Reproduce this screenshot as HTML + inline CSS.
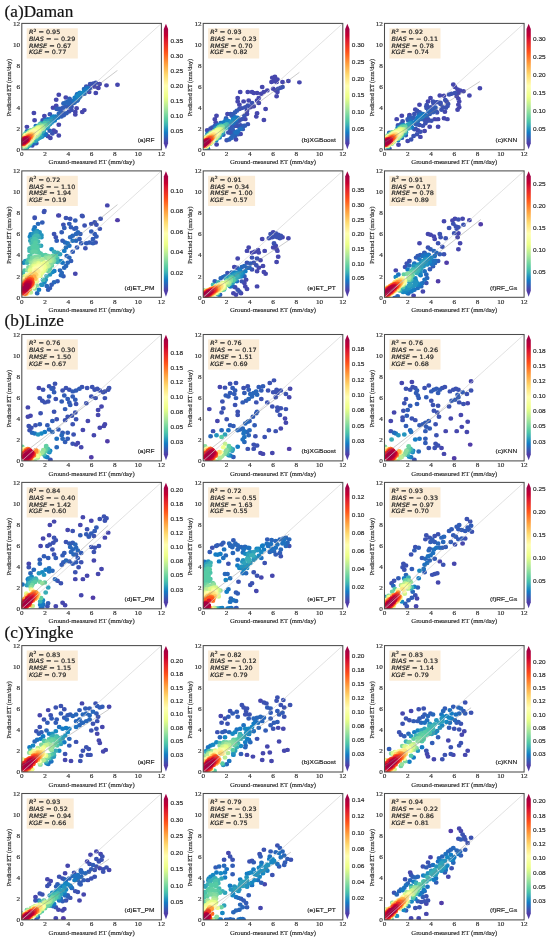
<!DOCTYPE html>
<html><head><meta charset="utf-8"><title>ET scatter comparison</title>
<style>html,body{margin:0;padding:0;background:#fff;}svg{display:block;}</style>
</head><body>
<svg width="550" height="938" viewBox="0 0 550 938"><style>
.ti{font:17.2px 'Liberation Serif',serif;fill:#111;stroke:#111;stroke-width:0.2}
.st{font:6.5px 'DejaVu Sans',sans-serif;fill:#262626;stroke:#262626;stroke-width:0.2}
.pl{font:6.6px 'Liberation Sans',sans-serif;fill:#262626;stroke:#262626;stroke-width:0.18}
.tk{font:7.2px 'Liberation Serif',serif;fill:#2e2e2e;stroke:#2e2e2e;stroke-width:0.18}
.al{font:6.7px 'Liberation Serif',serif;fill:#2e2e2e;stroke:#2e2e2e;stroke-width:0.18}
.cb{font:6.5px 'Liberation Sans',sans-serif;fill:#262626;stroke:#262626;stroke-width:0.18}
</style><defs><linearGradient id="cbg" x1="0" y1="0" x2="0" y2="1"><stop offset="0.0376" stop-color="#a40044"/><stop offset="0.0662" stop-color="#b4003c"/><stop offset="0.0948" stop-color="#c6002f"/><stop offset="0.1234" stop-color="#d8132f"/><stop offset="0.1520" stop-color="#e4252a"/><stop offset="0.1806" stop-color="#ef3523"/><stop offset="0.2092" stop-color="#f9461b"/><stop offset="0.2378" stop-color="#ff5b1d"/><stop offset="0.2665" stop-color="#ff7328"/><stop offset="0.2951" stop-color="#ff8b33"/><stop offset="0.3237" stop-color="#ffa240"/><stop offset="0.3523" stop-color="#ffb550"/><stop offset="0.3809" stop-color="#ffc860"/><stop offset="0.4095" stop-color="#ffdb71"/><stop offset="0.4381" stop-color="#ffe785"/><stop offset="0.4667" stop-color="#fff29a"/><stop offset="0.4953" stop-color="#fffeae"/><stop offset="0.5239" stop-color="#f9ffa3"/><stop offset="0.5525" stop-color="#f3ff96"/><stop offset="0.5811" stop-color="#edff89"/><stop offset="0.6097" stop-color="#dbf98b"/><stop offset="0.6383" stop-color="#c5f192"/><stop offset="0.6669" stop-color="#afe999"/><stop offset="0.6955" stop-color="#96e19d"/><stop offset="0.7241" stop-color="#7cd8a0"/><stop offset="0.7528" stop-color="#62cfa2"/><stop offset="0.7814" stop-color="#4cc3aa"/><stop offset="0.8100" stop-color="#3aaeb6"/><stop offset="0.8386" stop-color="#2394be"/><stop offset="0.8672" stop-color="#147cc3"/><stop offset="0.8958" stop-color="#2867ba"/><stop offset="0.9244" stop-color="#3c52b1"/><stop offset="0.9530" stop-color="#503da8"/></linearGradient></defs><text transform="translate(4.60,16.80) scale(1,0.91)" class="ti">(a)Daman</text>
<text transform="translate(4.60,326.40) scale(1,0.91)" class="ti">(b)Linze</text>
<text transform="translate(4.60,638.30) scale(1,0.91)" class="ti">(c)Yingke</text>
<clipPath id="cp00"><rect x="21.8" y="23.4" width="139.6" height="126.4"/></clipPath>
<g clip-path="url(#cp00)"><g transform="translate(0,23.4) scale(1,0.91)" stroke-linecap="round" stroke-width="4.9" fill="none"><path stroke="#4647ad" d="M117.5 67.5h0M106.5 68.1h0M99.6 66.7h0M94.5 69.5h0M98.4 70.9h0M95.8 76.5h0M58.8 78.4h0M56.2 83.9h0M65.8 81.4h0M56.2 90.4h0M33.9 98.4h0M34.6 106.5h0M26.9 113.7h0M76.6 93.2h0M75.3 97.3h0M75.3 100.1h0M82.3 97.3h0M84.3 95.3h0M58.8 111.4h0M53.7 117.6h0M55.5 119.0h0M58.8 123.2h0M50.4 125.9h0M48.0 123.9h0M44.4 101.8h0M89.2 75.5h0M53.0 92.6h0"/><path stroke="#3c52b1" d="M95.8 65.3h0M93.3 66.1h0M90.2 66.7h0M52.4 121.1h0M42.7 106.5h0M68.9 96.7h0M71.5 95.3h0M36.3 131.7h0M32.2 134.2h0M49.9 99.8h0M86.3 69.4h0M56.6 93.8h0M60.6 93.8h0M71.5 91.6h0"/><path stroke="#325cb6" d="M69.5 82.8h0M61.4 102.2h0M63.7 100.9h0M66.4 98.7h0M49.7 118.0h0M58.5 93.9h0M63.5 87.9h0M84.4 77.3h0M57.1 94.1h0M62.7 98.0h0M89.7 71.3h0M66.4 91.3h0M69.9 91.6h0M63.1 92.6h0M60.7 97.4h0"/><path stroke="#2867ba" d="M70.7 84.8h0M46.0 121.8h0M45.1 105.8h0M27.0 118.5h0M66.2 86.6h0M77.1 77.8h0M68.3 87.7h0M64.2 87.7h0M66.5 86.8h0M84.1 72.2h0M67.9 85.9h0M73.6 87.5h0M71.9 87.4h0M77.6 84.5h0M77.1 85.0h0M70.8 87.2h0M74.6 86.9h0M58.9 99.1h0"/><path stroke="#1e71bf" d="M35.9 112.6h0M20.2 123.9h0M44.7 122.6h0M34.2 131.3h0M57.4 103.6h0M56.5 103.2h0M58.1 103.5h0M78.3 77.3h0M87.2 71.1h0M78.9 82.2h0M80.1 80.2h0M79.4 81.1h0M73.8 84.9h0"/><path stroke="#147cc3" d="M26.7 136.6h0M44.0 120.7h0M17.9 126.1h0M47.3 114.8h0M53.6 102.3h0M47.9 105.2h0M52.1 103.5h0M54.7 106.7h0M52.0 103.6h0M55.4 102.4h0M55.2 104.6h0M84.2 74.7h0M85.1 73.8h0M83.3 76.4h0M78.5 77.7h0M75.4 82.9h0M74.8 81.8h0M76.3 82.7h0M76.5 79.9h0M86.0 73.2h0M80.0 76.3h0"/><path stroke="#1788c2" d="M29.7 133.9h0M41.5 124.9h0M41.9 124.7h0M42.1 124.2h0M52.3 108.1h0M51.8 108.9h0M53.4 103.4h0M52.6 106.3h0M82.4 76.5h0M79.9 77.6h0M77.6 79.7h0M81.8 76.7h0"/><path stroke="#2394be" d="M51.1 105.1h0M49.8 110.7h0M41.7 120.6h0M19.5 125.1h0M39.9 123.8h0M41.6 123.4h0M39.5 124.1h0M35.9 129.2h0M45.6 107.3h0M47.1 114.3h0M46.5 107.2h0M41.3 109.6h0"/><path stroke="#2ea1ba" d="M25.6 136.4h0M18.3 126.7h0M18.4 126.6h0M40.0 110.7h0M44.0 117.5h0M18.7 126.4h0M40.7 124.4h0M27.6 135.2h0M39.3 125.1h0M35.0 129.0h0M38.0 126.2h0M38.1 126.8h0M28.2 134.7h0M39.3 126.0h0M37.7 127.0h0M49.4 108.8h0M48.5 107.1h0M47.4 113.3h0M48.9 107.5h0M48.2 112.4h0M45.5 107.8h0M49.2 111.2h0M50.2 107.3h0"/><path stroke="#3aaeb6" d="M43.2 118.3h0M36.0 126.6h0M25.9 136.2h0M42.7 118.7h0M47.7 111.8h0"/><path stroke="#44b9b1" d="M25.6 121.1h0M18.9 126.6h0M26.1 135.6h0M29.6 118.2h0M48.0 109.1h0"/><path stroke="#4cc3aa" d="M19.1 126.6h0M39.6 121.7h0M30.7 117.7h0M37.0 124.4h0M40.5 111.1h0M30.3 131.8h0M44.6 109.4h0"/><path stroke="#55cba4" d="M38.7 112.5h0M19.1 126.8h0M40.3 111.4h0M25.7 135.4h0M29.6 132.2h0M29.9 131.9h0M24.8 136.0h0M45.9 111.5h0"/><path stroke="#62cfa2" d="M27.6 120.2h0M19.5 126.7h0M43.1 116.0h0M37.9 123.0h0M39.8 112.0h0M32.4 129.1h0M26.2 134.8h0"/><path stroke="#6fd4a1" d="M30.9 117.9h0M40.9 111.6h0M36.7 124.1h0M25.8 121.5h0M28.2 133.0h0M24.4 135.5h0M44.7 111.8h0"/><path stroke="#7cd8a0" d="M34.7 115.6h0M42.8 115.7h0M23.7 123.2h0M34.2 116.0h0M35.4 125.2h0M43.4 114.9h0M42.5 116.0h0M37.7 122.7h0M30.6 130.4h0M24.2 135.5h0M43.5 114.3h0"/><path stroke="#89dc9f" d="M39.8 119.5h0M38.3 121.5h0M39.8 119.4h0M25.1 134.8h0M26.1 134.1h0"/><path stroke="#96e19d" d="M37.6 122.1h0M25.0 134.6h0M36.9 114.5h0M43.0 114.3h0M39.0 120.1h0M21.6 125.2h0"/><path stroke="#a3e59c" d="M36.0 123.8h0M38.4 120.1h0M37.6 121.6h0M25.0 134.5h0M31.6 118.1h0M23.9 135.0h0M42.3 113.1h0"/><path stroke="#afe999" d="M41.9 114.6h0M38.2 119.8h0M25.7 133.9h0M37.9 120.3h0M41.2 116.3h0M39.0 118.8h0M19.4 127.6h0M42.0 113.9h0M41.8 114.7h0M31.8 128.3h0"/><path stroke="#baed95" d="M30.2 119.2h0M40.9 116.1h0M41.2 114.7h0M38.2 114.3h0M41.1 114.2h0M30.7 118.9h0M36.5 122.0h0M41.0 114.4h0M23.8 123.8h0M35.7 123.6h0M29.4 130.5h0M36.0 123.1h0M36.4 122.5h0M25.4 133.9h0M40.3 113.7h0"/><path stroke="#c5f192" d="M34.5 116.7h0M38.2 114.6h0M39.6 117.7h0M40.8 114.8h0M39.4 114.1h0M40.1 114.5h0M19.4 127.9h0M40.2 116.7h0M29.1 120.0h0M38.3 114.6h0"/><path stroke="#d0f58e" d="M39.6 114.9h0M29.9 129.7h0M37.4 115.3h0M33.8 117.3h0M29.2 130.5h0M28.7 130.9h0M30.4 129.2h0"/><path stroke="#dbf98b" d="M38.2 115.3h0M37.7 115.3h0M33.2 125.9h0M38.8 115.1h0M26.2 132.9h0M38.1 118.6h0M38.6 118.1h0"/><path stroke="#e6fd88" d="M31.5 127.7h0M32.6 118.3h0M22.3 125.4h0M38.2 115.6h0M19.7 128.1h0M31.2 119.2h0M38.3 115.9h0M38.5 117.6h0M33.3 125.3h0M38.2 115.4h0M32.4 118.6h0M37.9 118.6h0M35.2 116.9h0"/><path stroke="#edff89" d="M25.1 123.3h0M38.2 117.4h0M37.7 115.9h0M24.3 133.7h0"/><path stroke="#f0ff90" d="M36.3 120.1h0M25.8 122.9h0M19.7 128.3h0M19.7 128.3h0M26.1 132.5h0M37.3 116.7h0M19.7 128.3h0M34.4 117.7h0M37.6 116.8h0M19.7 128.3h0M24.3 133.6h0M23.4 134.1h0"/><path stroke="#f3ff96" d="M32.3 125.8h0M25.8 132.5h0M28.1 121.5h0M33.7 118.3h0M36.3 120.0h0M29.4 129.6h0M31.3 119.7h0M22.1 125.9h0M21.4 126.5h0M36.3 120.0h0M32.1 126.4h0M31.1 127.7h0"/><path stroke="#f6ff9d" d="M19.9 128.2h0M36.5 119.0h0M29.5 129.3h0M25.0 133.0h0M20.2 127.9h0"/><path stroke="#f9ffa3" d="M35.2 120.7h0M26.5 122.7h0M23.8 124.7h0M35.2 118.7h0M21.2 127.0h0M34.2 118.5h0"/><path stroke="#fcffaa" d="M20.1 128.4h0M32.2 119.7h0M26.9 131.2h0M26.2 123.1h0M27.8 122.1h0"/><path stroke="#fffeae" d="M31.3 120.4h0M26.8 122.8h0M30.1 127.9h0M32.3 120.0h0M33.9 119.7h0M33.5 122.9h0M20.0 128.5h0M33.0 119.7h0"/><path stroke="#fff8a4" d="M27.4 122.6h0M25.2 132.3h0M26.1 131.6h0M33.8 120.0h0M32.6 120.1h0M24.0 133.1h0M24.0 124.8h0M25.3 132.3h0"/><path stroke="#fff29a" d="M33.7 120.5h0M33.9 121.1h0M26.8 123.1h0M30.9 121.1h0M29.6 128.3h0M32.2 120.5h0M34.1 121.1h0M23.9 133.1h0M34.0 120.9h0M32.2 124.4h0"/><path stroke="#ffed90" d="M28.4 129.5h0M28.4 122.4h0M25.7 131.7h0M23.1 125.8h0M24.2 132.8h0"/><path stroke="#ffe785" d="M21.0 127.9h0M23.7 133.0h0M26.7 130.9h0M29.1 122.2h0M20.4 128.7h0"/><path stroke="#ffe17b" d="M21.9 127.1h0M32.9 121.7h0M32.6 122.9h0M27.3 123.2h0M28.8 122.5h0"/><path stroke="#ffdb71" d="M20.3 129.0h0M22.8 126.4h0M29.2 128.1h0M22.2 127.0h0M20.8 128.5h0M31.2 121.8h0M28.0 129.4h0"/><path stroke="#ffd269" d="M27.1 130.2h0M23.5 132.8h0M26.7 130.6h0M30.3 126.4h0M21.7 127.5h0"/><path stroke="#ffc860" d="M23.5 132.7h0M28.0 129.2h0M30.5 125.8h0"/><path stroke="#ffbf58" d="M29.7 122.8h0M29.9 126.6h0M24.6 125.3h0M31.7 123.2h0M29.8 122.7h0M31.5 122.8h0M20.5 129.2h0M23.9 132.4h0M28.0 129.1h0M31.8 122.6h0M31.0 122.7h0M20.7 129.0h0M31.6 123.7h0"/><path stroke="#ffb550" d="M30.6 125.2h0M20.5 129.3h0M25.0 131.6h0"/><path stroke="#ffab48" d="M20.6 129.3h0M31.0 124.0h0M27.6 129.2h0M31.2 123.2h0M27.6 123.8h0M22.7 127.0h0M23.0 126.8h0M28.5 123.4h0M21.4 128.4h0"/><path stroke="#ffa240" d="M30.8 124.5h0M22.1 127.8h0M27.4 129.3h0"/><path stroke="#ff9738" d="M23.0 127.0h0M30.4 124.8h0M30.5 123.9h0M30.7 124.1h0"/><path stroke="#ff8b33" d="M22.0 128.1h0M24.0 132.0h0M22.1 128.0h0M26.1 130.4h0"/><path stroke="#ff7f2e" d="M24.4 131.6h0M27.7 128.6h0M30.3 124.4h0M23.1 132.3h0M21.8 128.3h0M20.9 129.6h0M29.8 124.0h0"/><path stroke="#ff7328" d="M29.4 124.1h0M23.2 132.3h0M23.1 132.3h0M29.4 124.2h0M20.9 129.7h0M23.9 126.6h0"/><path stroke="#ff6723" d="M20.9 129.8h0M25.6 130.5h0M21.0 129.7h0M23.0 132.2h0M27.7 128.4h0M23.1 132.2h0M21.1 129.6h0M23.1 132.3h0M22.6 127.8h0"/><path stroke="#ff5b1d" d="M23.0 132.2h0M24.4 126.4h0M23.0 132.2h0M23.7 131.8h0M29.5 125.0h0"/><path stroke="#fe4e18" d="M26.1 129.9h0M21.2 129.7h0M23.0 132.0h0M21.1 129.8h0M23.0 132.1h0M21.3 129.5h0"/><path stroke="#f9461b" d="M21.8 129.0h0M28.3 127.2h0M21.1 130.0h0M23.3 131.8h0M21.8 129.0h0M22.9 132.0h0M22.9 132.0h0"/><path stroke="#f43e1f" d="M27.7 125.3h0M27.0 128.8h0M27.6 128.0h0M22.1 128.8h0"/><path stroke="#ef3523" d="M26.4 125.8h0M23.1 127.8h0M21.3 130.2h0M21.3 130.1h0M27.5 127.9h0M26.1 129.6h0M22.7 131.9h0M26.7 129.0h0M22.1 128.9h0M28.4 126.2h0M22.7 131.9h0M22.1 129.0h0M22.9 131.8h0"/><path stroke="#ea2d27" d="M23.3 131.5h0M27.9 127.2h0M22.6 131.8h0M25.5 126.3h0M21.4 130.2h0M24.7 130.6h0M22.3 128.9h0M27.9 125.7h0"/><path stroke="#e4252a" d="M28.1 126.3h0M21.7 129.9h0M21.5 130.4h0M24.0 127.4h0M23.6 131.2h0M25.9 126.2h0M23.1 128.1h0"/><path stroke="#df1c2e" d="M21.7 130.6h0M23.7 131.0h0M22.4 131.5h0M27.8 126.8h0M24.3 127.3h0M21.6 130.5h0M26.8 128.4h0M22.5 129.0h0M21.7 130.5h0M23.1 128.4h0M24.2 130.8h0M24.5 130.6h0M21.6 130.5h0M24.7 130.4h0M21.9 129.7h0M22.2 129.4h0M22.4 131.5h0M22.4 131.5h0"/><path stroke="#d8132f" d="M22.3 131.4h0M21.7 130.5h0M23.7 131.0h0M22.6 128.9h0M22.5 131.4h0M24.7 127.2h0M21.7 130.7h0M22.2 131.3h0M21.8 130.7h0M26.6 126.3h0"/><path stroke="#cf092f" d="M22.2 130.8h0M22.2 130.8h0M22.2 131.1h0M22.6 129.2h0M22.3 130.9h0M22.0 130.7h0M22.3 131.1h0M22.5 131.2h0M22.7 131.2h0M23.2 128.6h0M24.3 127.6h0M26.3 126.6h0M22.4 131.2h0M22.5 131.1h0M26.0 126.6h0M23.1 128.5h0"/><path stroke="#c6002f" d="M26.9 127.1h0M22.2 130.6h0M22.7 130.8h0M22.4 130.8h0M23.1 128.8h0M22.3 130.7h0M24.1 130.4h0"/><path stroke="#bd0036" d="M26.2 128.4h0M25.3 127.4h0M22.4 130.1h0M26.3 128.1h0M22.4 130.4h0M22.6 129.7h0M22.6 130.0h0M25.1 129.5h0M22.5 129.9h0M22.6 130.3h0M26.6 127.8h0"/><path stroke="#b4003c" d="M22.8 130.4h0M25.1 127.6h0M24.2 130.1h0M24.1 128.1h0M26.2 127.9h0M25.6 128.9h0M22.9 130.4h0M23.2 129.4h0M23.8 130.2h0M23.8 128.6h0"/><path stroke="#ab0041" d="M23.8 130.2h0M24.0 129.9h0M24.4 128.3h0M25.7 128.2h0"/><path stroke="#a40044" d="M23.9 129.5h0M24.0 129.4h0M25.4 128.2h0"/></g></g>
<line x1="21.80" y1="142.82" x2="117.45" y2="70.39" stroke="#808080" stroke-width="0.75" opacity="0.55"/>
<line x1="21.80" y1="149.80" x2="161.40" y2="23.40" stroke="#d4d4d4" stroke-width="0.9" opacity="0.75"/>
<rect x="21.8" y="23.4" width="139.6" height="126.4" fill="none" stroke="#4c4c4c" stroke-width="1.05"/>
<rect x="26.7" y="28.3" width="51.1" height="30.2" fill="#fbecd6"/>
<text transform="translate(28.90,34.30) scale(1,0.91)" class="st"><tspan font-style="italic">R</tspan><tspan font-size="4.6" dy="-2.7">2</tspan><tspan dy="2.7"> = 0.95</tspan></text>
<text transform="translate(28.90,41.00) scale(1,0.91)" class="st"><tspan font-style="italic">BIAS</tspan> = − 0.29</text>
<text transform="translate(28.90,47.70) scale(1,0.91)" class="st"><tspan font-style="italic">RMSE</tspan> = 0.67</text>
<text transform="translate(28.90,54.40) scale(1,0.91)" class="st"><tspan font-style="italic">KGE</tspan> = 0.77</text>
<text transform="translate(154.50,142.20) scale(1,0.91)" class="pl" text-anchor="end">(a)RF</text>
<text transform="translate(21.80,156.20) scale(1,0.91)" class="tk" text-anchor="middle">0</text>
<text transform="translate(20.20,152.10) scale(1,0.91)" class="tk" text-anchor="end">0</text>
<text transform="translate(45.07,156.20) scale(1,0.91)" class="tk" text-anchor="middle">2</text>
<text transform="translate(20.20,131.03) scale(1,0.91)" class="tk" text-anchor="end">2</text>
<text transform="translate(68.33,156.20) scale(1,0.91)" class="tk" text-anchor="middle">4</text>
<text transform="translate(20.20,109.97) scale(1,0.91)" class="tk" text-anchor="end">4</text>
<text transform="translate(91.60,156.20) scale(1,0.91)" class="tk" text-anchor="middle">6</text>
<text transform="translate(20.20,88.90) scale(1,0.91)" class="tk" text-anchor="end">6</text>
<text transform="translate(114.87,156.20) scale(1,0.91)" class="tk" text-anchor="middle">8</text>
<text transform="translate(20.20,67.83) scale(1,0.91)" class="tk" text-anchor="end">8</text>
<text transform="translate(138.13,156.20) scale(1,0.91)" class="tk" text-anchor="middle">10</text>
<text transform="translate(20.20,46.77) scale(1,0.91)" class="tk" text-anchor="end">10</text>
<text transform="translate(161.40,156.20) scale(1,0.91)" class="tk" text-anchor="middle">12</text>
<text transform="translate(20.20,25.70) scale(1,0.91)" class="tk" text-anchor="end">12</text>
<text transform="translate(91.60,164.40) scale(1,0.91)" class="al" text-anchor="middle">Ground-measured ET (mm/day)</text>
<text transform="translate(10.80,87.60) scale(1,0.91) rotate(-90)" class="al" text-anchor="middle">Predicted ET (mm/day)</text>
<path d="M165.95,23.70 L168.10,28.90 L168.10,143.30 L165.95,149.20 L163.80,143.30 L163.80,28.90 Z" fill="url(#cbg)"/>
<text transform="translate(170.40,42.80) scale(1,0.91)" class="cb">0.35</text>
<text transform="translate(170.40,57.87) scale(1,0.91)" class="cb">0.30</text>
<text transform="translate(170.40,72.93) scale(1,0.91)" class="cb">0.25</text>
<text transform="translate(170.40,88.00) scale(1,0.91)" class="cb">0.20</text>
<text transform="translate(170.40,103.07) scale(1,0.91)" class="cb">0.15</text>
<text transform="translate(170.40,118.13) scale(1,0.91)" class="cb">0.10</text>
<text transform="translate(170.40,133.20) scale(1,0.91)" class="cb">0.05</text>
<clipPath id="cp01"><rect x="203.2" y="23.4" width="139.6" height="126.4"/></clipPath>
<g clip-path="url(#cp01)"><g transform="translate(0,23.4) scale(1,0.91)" stroke-linecap="round" stroke-width="4.9" fill="none"><path stroke="#4647ad" d="M272.3 59.7h0M274.9 58.7h0M277.4 61.5h0M274.0 63.4h0M271.5 64.3h0M276.6 64.3h0M282.5 64.3h0M288.4 63.4h0M273.2 71.7h0M275.7 73.6h0M277.4 75.4h0M276.6 80.1h0M262.2 69.9h0M267.3 73.6h0M263.9 75.4h0M261.3 77.3h0M257.1 76.4h0M253.7 76.4h0M252.0 75.4h0M247.8 75.4h0M240.2 75.4h0M258.8 81.9h0M257.1 84.7h0M258.8 87.5h0M237.7 81.9h0M237.7 85.7h0M239.4 89.4h0M243.6 85.7h0M248.7 84.7h0M253.7 91.2h0M250.3 92.2h0M247.0 95.9h0M247.0 99.6h0M245.3 105.2h0M265.6 94.0h0M257.1 98.7h0M256.3 102.4h0M263.9 106.1h0M227.5 99.6h0M216.5 101.5h0M214.8 105.2h0M215.7 108.9h0M236.0 127.5h0M207.2 117.3h0M299.4 64.8h0M216.6 133.0h0M240.6 121.5h0"/><path stroke="#3c52b1" d="M278.2 71.7h0M280.8 70.8h0M282.5 69.9h0M252.0 87.5h0M247.8 90.3h0M245.3 92.2h0M241.9 93.1h0M239.4 94.0h0M244.4 101.5h0M241.9 105.2h0M239.4 107.0h0M247.8 110.7h0M234.3 112.6h0M236.8 112.6h0M239.4 112.6h0M212.3 114.5h0M210.6 115.4h0M233.4 119.1h0M238.5 121.9h0M226.7 128.4h0M230.1 118.2h0M228.4 120.0h0M208.0 138.1h0M230.6 99.6h0M230.5 115.9h0M240.4 111.9h0M231.4 121.1h0M238.9 113.5h0"/><path stroke="#325cb6" d="M236.8 95.9h0M235.1 97.7h0M233.4 99.6h0M231.7 101.5h0M236.8 108.9h0M214.8 112.6h0M232.6 116.3h0M235.1 123.8h0M229.2 127.5h0M208.1 120.0h0M223.3 122.4h0M231.5 112.1h0M226.1 104.2h0M233.3 103.1h0M242.7 116.2h0M244.8 112.5h0M244.0 112.5h0"/><path stroke="#2867ba" d="M225.8 106.1h0M233.4 109.8h0M217.4 111.7h0M231.7 125.6h0M207.3 137.2h0M220.7 109.5h0M234.8 120.2h0M232.7 123.6h0M231.2 125.9h0M236.9 121.0h0M241.4 115.4h0"/><path stroke="#1e71bf" d="M240.2 116.3h0M236.0 120.0h0M219.6 125.5h0M207.0 137.1h0M237.6 103.7h0M217.1 112.9h0M235.8 105.6h0M235.1 103.2h0M236.1 105.5h0M226.0 106.5h0M232.3 109.4h0M237.1 119.5h0M237.9 118.4h0M237.1 118.8h0"/><path stroke="#147cc3" d="M223.3 108.9h0M220.8 110.7h0M207.5 121.5h0M234.7 104.3h0M233.7 104.7h0M224.8 108.5h0M233.0 105.7h0M228.3 107.3h0M236.0 104.7h0"/><path stroke="#1788c2" d="M228.4 108.0h0M216.2 128.3h0M201.5 126.9h0M227.3 114.2h0M219.4 111.9h0M233.4 106.8h0M226.9 108.6h0M234.2 106.1h0M233.0 106.8h0"/><path stroke="#2394be" d="M230.9 108.9h0M215.5 115.5h0M221.1 122.4h0M199.4 129.1h0M231.2 108.6h0"/><path stroke="#2ea1ba" d="M223.1 119.4h0M222.4 120.2h0"/><path stroke="#3aaeb6" d="M200.9 128.0h0M206.5 136.5h0M227.1 110.9h0M226.7 110.8h0"/><path stroke="#44b9b1" d="M219.2 113.5h0M226.5 111.3h0M224.9 115.6h0M225.6 114.9h0"/><path stroke="#4cc3aa" d="M199.8 129.5h0M199.9 129.5h0M206.3 136.4h0M219.3 123.6h0M217.0 126.2h0M206.3 136.3h0M200.1 129.2h0M224.9 111.9h0M221.2 112.5h0"/><path stroke="#55cba4" d="M206.9 135.7h0M219.6 113.8h0M209.8 121.0h0M218.2 114.8h0"/><path stroke="#62cfa2" d="M200.4 129.4h0M210.9 120.4h0M217.8 124.9h0M219.5 114.1h0"/><path stroke="#6fd4a1" d="M218.0 115.2h0M216.7 126.0h0M222.3 118.1h0M219.0 114.7h0M222.4 113.2h0"/><path stroke="#7cd8a0" d="M220.1 114.2h0M208.1 123.0h0M200.6 129.5h0M215.5 127.0h0"/><path stroke="#89dc9f" d="M211.1 120.7h0M222.0 117.9h0M200.6 129.6h0M206.5 124.3h0M222.5 117.1h0M221.7 118.2h0M222.5 116.9h0M222.6 114.4h0"/><path stroke="#96e19d" d="M219.4 121.5h0M214.5 118.3h0M200.9 129.5h0M204.6 126.0h0M214.0 118.7h0M218.1 123.5h0M219.4 121.4h0M210.2 132.3h0"/><path stroke="#a3e59c" d="M217.4 124.1h0M222.1 116.6h0M210.0 132.3h0M218.6 122.1h0M207.3 134.7h0M212.3 130.1h0M218.5 115.9h0"/><path stroke="#afe999" d="M216.0 125.7h0M216.4 117.1h0M219.2 115.7h0"/><path stroke="#baed95" d="M221.1 116.9h0M217.4 123.6h0M210.6 131.5h0M220.5 118.5h0M221.2 116.2h0M221.0 117.0h0M211.8 120.8h0M202.8 128.0h0"/><path stroke="#c5f192" d="M218.1 122.2h0M210.4 121.9h0M217.7 116.9h0M215.7 125.6h0"/><path stroke="#d0f58e" d="M217.7 117.1h0M220.0 117.1h0M220.2 118.3h0M220.4 117.0h0M218.8 116.6h0M207.2 134.4h0M220.3 116.6h0M218.6 120.9h0M211.0 121.5h0M220.3 116.7h0M204.7 126.5h0M215.9 125.1h0M216.3 124.5h0M209.5 122.7h0M220.1 116.7h0"/><path stroke="#dbf98b" d="M214.3 119.3h0M219.0 119.9h0M217.9 121.9h0M217.6 122.4h0M200.8 130.4h0M219.4 116.9h0M216.4 124.0h0M205.6 135.5h0M219.6 118.9h0"/><path stroke="#e6fd88" d="M206.9 134.4h0M219.0 117.3h0M217.2 117.8h0M217.0 117.8h0M213.7 119.9h0M218.3 117.6h0"/><path stroke="#edff89" d="M217.7 117.7h0M212.0 129.6h0M217.7 118.1h0M213.5 127.8h0M200.9 130.6h0M217.7 117.9h0M206.2 134.9h0M218.2 120.3h0"/><path stroke="#f0ff90" d="M212.7 120.9h0M203.4 128.1h0M211.4 121.8h0M217.9 118.3h0M210.1 131.5h0M218.0 119.9h0M215.0 119.4h0M217.3 118.3h0M217.7 120.8h0"/><path stroke="#f3ff96" d="M205.9 126.0h0M217.8 119.7h0M213.6 127.3h0M212.4 121.2h0M217.6 120.8h0M210.2 131.2h0"/><path stroke="#f6ff9d" d="M206.6 125.6h0M201.1 130.7h0M216.9 119.2h0M214.3 120.2h0M217.2 119.2h0"/><path stroke="#f9ffa3" d="M208.6 124.1h0M213.7 120.8h0M208.0 133.2h0"/><path stroke="#fcffaa" d="M216.1 122.3h0M201.2 130.9h0M201.1 130.9h0M201.2 130.9h0M216.1 122.2h0M207.2 125.3h0M205.4 135.1h0M216.3 121.3h0M211.5 122.3h0M203.3 128.6h0M202.7 129.2h0M201.1 130.9h0M216.1 122.3h0M212.5 128.4h0"/><path stroke="#fffeae" d="M212.7 127.8h0M206.4 134.3h0M207.2 133.6h0M204.8 127.4h0M201.6 130.6h0M205.3 135.1h0M214.1 121.0h0"/><path stroke="#fff8a4" d="M207.5 125.4h0M212.3 122.3h0M201.4 130.9h0M206.9 125.7h0M208.4 124.7h0M215.1 121.1h0M202.5 129.7h0"/><path stroke="#fff29a" d="M215.1 122.9h0M205.0 135.0h0M206.9 133.7h0M205.5 134.8h0M213.1 122.1h0"/><path stroke="#ffed90" d="M201.5 131.0h0M208.0 125.2h0M211.5 122.9h0M210.8 129.9h0M212.5 122.5h0M213.9 122.1h0M205.0 127.5h0M201.4 131.2h0"/><path stroke="#ffe785" d="M213.8 122.3h0M207.7 132.9h0M212.8 122.5h0M207.5 125.7h0M209.2 131.5h0M210.3 130.3h0"/><path stroke="#ffe17b" d="M213.7 122.8h0M214.0 123.4h0M212.4 122.9h0M213.7 125.1h0M214.1 123.4h0M204.2 128.4h0M214.1 123.2h0"/><path stroke="#ffdb71" d="M204.8 134.9h0M211.2 123.6h0M208.9 124.9h0"/><path stroke="#ffd269" d="M203.1 129.7h0M202.4 130.5h0M207.7 132.6h0M209.6 124.7h0M208.9 131.5h0M204.8 134.8h0M201.8 131.2h0M212.6 126.6h0"/><path stroke="#ffc860" d="M208.1 132.2h0M204.0 129.0h0M213.1 124.0h0M203.4 129.6h0M205.2 134.5h0M207.9 125.8h0M209.3 125.0h0"/><path stroke="#ffbf58" d="M201.7 131.6h0M210.0 130.1h0M212.8 125.1h0M211.5 124.2h0M203.0 130.1h0"/><path stroke="#ffb550" d="M202.2 131.1h0M206.2 133.6h0"/><path stroke="#ffab48" d="M205.6 127.9h0M208.9 131.1h0M208.8 131.2h0"/><path stroke="#ffa240" d="M210.2 125.2h0M212.1 125.5h0M210.2 125.1h0M212.0 124.9h0M210.9 128.5h0"/><path stroke="#ff9738" d="M205.3 134.0h0M211.8 125.1h0M201.9 131.7h0M203.9 129.6h0M211.4 125.0h0M202.1 131.6h0M212.0 125.9h0"/><path stroke="#ff8b33" d="M210.5 128.7h0M205.7 133.7h0M202.0 131.8h0M208.5 131.3h0M211.6 125.5h0M204.5 134.4h0M208.3 126.3h0M204.2 129.3h0M202.0 131.8h0M209.1 125.9h0M202.7 130.9h0M208.3 131.4h0M211.0 127.9h0"/><path stroke="#ff7f2e" d="M203.3 130.3h0M211.4 126.2h0M204.5 134.4h0M204.4 134.4h0M211.1 127.4h0M204.2 129.5h0M207.2 132.4h0M204.4 134.4h0"/><path stroke="#ff7328" d="M211.2 126.7h0M204.4 134.3h0M203.3 130.5h0M204.5 134.3h0M211.0 126.2h0M211.1 126.4h0"/><path stroke="#ff6723" d="M203.2 130.6h0M204.3 134.3h0M204.3 134.3h0M205.0 133.9h0M203.1 130.8h0M210.9 127.0h0M204.4 134.2h0"/><path stroke="#ff5b1d" d="M208.6 130.7h0M206.7 132.6h0M210.8 126.7h0M204.3 134.2h0M202.3 132.1h0M210.3 126.3h0M205.0 129.1h0M204.2 134.2h0"/><path stroke="#fe4e18" d="M202.4 132.2h0M202.4 132.1h0M204.6 134.0h0M209.9 126.4h0M209.9 126.5h0M204.3 134.1h0M202.3 132.1h0M203.8 130.3h0"/><path stroke="#f9461b" d="M207.1 132.0h0M205.4 128.9h0M208.5 130.5h0M202.5 132.1h0M204.1 134.1h0M210.1 127.2h0M204.3 134.0h0"/><path stroke="#f43e1f" d="M202.6 132.2h0M204.1 134.0h0M202.5 132.3h0M202.7 131.9h0"/><path stroke="#ef3523" d="M204.6 133.7h0M203.1 131.5h0M202.5 132.4h0M204.0 134.0h0M203.1 131.5h0M205.9 132.8h0"/><path stroke="#ea2d27" d="M209.0 129.4h0M204.3 130.3h0M202.7 132.5h0M207.1 131.7h0M204.9 133.3h0M207.6 131.1h0M207.9 130.9h0M203.4 131.3h0"/><path stroke="#e4252a" d="M207.2 128.2h0M208.4 127.7h0M204.9 133.2h0M202.7 132.6h0M205.0 133.2h0M202.8 132.6h0M205.4 133.0h0M205.7 132.7h0M203.4 131.4h0M203.8 133.7h0M203.8 133.8h0M208.4 130.2h0M203.4 131.5h0"/><path stroke="#df1c2e" d="M203.7 133.7h0M208.7 129.4h0M203.0 132.3h0M203.8 133.7h0M203.9 133.6h0M206.4 128.8h0M208.3 130.1h0M202.9 132.7h0M205.1 129.9h0M205.9 132.5h0M204.3 130.6h0M203.6 131.4h0M209.1 128.5h0M208.6 128.0h0"/><path stroke="#d8132f" d="M208.8 128.6h0M203.1 133.0h0M203.1 132.8h0M205.4 129.7h0M203.0 132.9h0M203.8 131.4h0M203.6 133.4h0M203.1 132.9h0M204.3 130.8h0M203.1 133.0h0M203.7 133.4h0M203.6 133.5h0M203.9 133.5h0M204.1 133.4h0M203.0 132.8h0M206.8 128.6h0M203.3 132.1h0M203.8 133.4h0M203.5 131.8h0M203.8 133.4h0"/><path stroke="#cf092f" d="M203.6 133.1h0M203.5 133.1h0M208.6 129.1h0M207.7 130.5h0M203.9 131.3h0M203.6 133.2h0M203.4 133.0h0M203.2 133.0h0M205.3 132.6h0"/><path stroke="#c6002f" d="M203.6 132.9h0M204.0 133.0h0M203.7 133.1h0M204.3 131.2h0M203.9 131.6h0M205.7 129.7h0M207.5 128.6h0M204.4 131.0h0M205.4 130.0h0M207.2 128.9h0M203.6 133.0h0M206.9 129.0h0M204.4 130.9h0"/><path stroke="#bd0036" d="M203.8 132.4h0M204.2 132.7h0M207.8 129.3h0M205.4 132.3h0M203.7 132.7h0M203.9 132.0h0M204.2 132.7h0M203.9 132.3h0M206.2 131.7h0M203.8 132.2h0M203.9 132.6h0"/><path stroke="#b4003c" d="M207.2 130.6h0M206.3 129.7h0M205.0 132.4h0M206.1 129.9h0M205.2 130.5h0M207.3 130.4h0M205.2 132.1h0M206.6 131.1h0M207.5 130.0h0M205.0 132.4h0"/><path stroke="#ab0041" d="M207.1 130.2h0M204.5 131.7h0M205.5 130.6h0M204.9 130.9h0"/><path stroke="#a40044" d="M205.1 131.8h0M205.2 131.7h0M206.4 130.5h0M206.7 130.4h0"/></g></g>
<line x1="203.20" y1="143.78" x2="299.41" y2="72.31" stroke="#808080" stroke-width="0.75" opacity="0.55"/>
<line x1="203.20" y1="149.80" x2="342.80" y2="23.40" stroke="#d4d4d4" stroke-width="0.9" opacity="0.75"/>
<rect x="203.2" y="23.4" width="139.6" height="126.4" fill="none" stroke="#4c4c4c" stroke-width="1.05"/>
<rect x="208.1" y="28.3" width="51.1" height="30.2" fill="#fbecd6"/>
<text transform="translate(210.30,34.30) scale(1,0.91)" class="st"><tspan font-style="italic">R</tspan><tspan font-size="4.6" dy="-2.7">2</tspan><tspan dy="2.7"> = 0.93</tspan></text>
<text transform="translate(210.30,41.00) scale(1,0.91)" class="st"><tspan font-style="italic">BIAS</tspan> = − 0.23</text>
<text transform="translate(210.30,47.70) scale(1,0.91)" class="st"><tspan font-style="italic">RMSE</tspan> = 0.70</text>
<text transform="translate(210.30,54.40) scale(1,0.91)" class="st"><tspan font-style="italic">KGE</tspan> = 0.82</text>
<text transform="translate(335.90,142.20) scale(1,0.91)" class="pl" text-anchor="end">(b)XGBoost</text>
<text transform="translate(203.20,156.20) scale(1,0.91)" class="tk" text-anchor="middle">0</text>
<text transform="translate(201.60,152.10) scale(1,0.91)" class="tk" text-anchor="end">0</text>
<text transform="translate(226.47,156.20) scale(1,0.91)" class="tk" text-anchor="middle">2</text>
<text transform="translate(201.60,131.03) scale(1,0.91)" class="tk" text-anchor="end">2</text>
<text transform="translate(249.73,156.20) scale(1,0.91)" class="tk" text-anchor="middle">4</text>
<text transform="translate(201.60,109.97) scale(1,0.91)" class="tk" text-anchor="end">4</text>
<text transform="translate(273.00,156.20) scale(1,0.91)" class="tk" text-anchor="middle">6</text>
<text transform="translate(201.60,88.90) scale(1,0.91)" class="tk" text-anchor="end">6</text>
<text transform="translate(296.27,156.20) scale(1,0.91)" class="tk" text-anchor="middle">8</text>
<text transform="translate(201.60,67.83) scale(1,0.91)" class="tk" text-anchor="end">8</text>
<text transform="translate(319.53,156.20) scale(1,0.91)" class="tk" text-anchor="middle">10</text>
<text transform="translate(201.60,46.77) scale(1,0.91)" class="tk" text-anchor="end">10</text>
<text transform="translate(342.80,156.20) scale(1,0.91)" class="tk" text-anchor="middle">12</text>
<text transform="translate(201.60,25.70) scale(1,0.91)" class="tk" text-anchor="end">12</text>
<text transform="translate(273.00,164.40) scale(1,0.91)" class="al" text-anchor="middle">Ground-measured ET (mm/day)</text>
<text transform="translate(192.20,87.60) scale(1,0.91) rotate(-90)" class="al" text-anchor="middle">Predicted ET (mm/day)</text>
<path d="M347.35,23.70 L349.50,28.90 L349.50,143.30 L347.35,149.20 L345.20,143.30 L345.20,28.90 Z" fill="url(#cbg)"/>
<text transform="translate(351.80,47.10) scale(1,0.91)" class="cb">0.30</text>
<text transform="translate(351.80,63.88) scale(1,0.91)" class="cb">0.25</text>
<text transform="translate(351.80,80.66) scale(1,0.91)" class="cb">0.20</text>
<text transform="translate(351.80,97.44) scale(1,0.91)" class="cb">0.15</text>
<text transform="translate(351.80,114.22) scale(1,0.91)" class="cb">0.10</text>
<text transform="translate(351.80,131.00) scale(1,0.91)" class="cb">0.05</text>
<clipPath id="cp02"><rect x="384.5" y="23.4" width="139.6" height="126.4"/></clipPath>
<g clip-path="url(#cp02)"><g transform="translate(0,23.4) scale(1,0.91)" stroke-linecap="round" stroke-width="4.9" fill="none"><path stroke="#4647ad" d="M453.3 67.1h0M455.0 69.9h0M457.6 72.7h0M460.1 73.6h0M463.5 74.5h0M458.4 76.4h0M469.4 79.2h0M456.7 80.1h0M458.4 82.9h0M459.2 85.7h0M458.4 89.4h0M459.2 92.2h0M457.6 95.0h0M439.8 79.2h0M444.0 79.5h0M430.5 81.9h0M428.0 85.7h0M446.6 85.7h0M419.5 89.4h0M434.7 105.2h0M438.1 105.2h0M444.0 104.2h0M447.4 105.2h0M401.8 101.5h0M396.7 105.2h0M429.7 113.5h0M438.1 113.5h0M417.8 117.3h0M424.6 118.2h0M407.7 129.3h0M420.4 124.7h0M479.9 71.2h0M389.4 137.7h0M398.5 133.4h0M415.3 94.5h0M409.5 100.5h0M444.9 97.2h0"/><path stroke="#3c52b1" d="M455.0 76.4h0M451.6 77.3h0M449.1 78.2h0M433.0 85.7h0M438.1 86.6h0M440.6 88.5h0M426.3 91.2h0M430.5 92.2h0M441.5 95.0h0M436.4 96.8h0M419.5 97.7h0M417.0 95.9h0M414.4 99.6h0M424.6 106.1h0M428.0 107.0h0M431.3 107.0h0M409.4 102.4h0M419.5 111.7h0M422.9 112.6h0M425.4 109.8h0M414.4 116.3h0M420.4 119.1h0M417.0 121.9h0M413.6 123.8h0M411.1 127.5h0M398.0 112.0h0M402.6 107.5h0M415.6 116.1h0M437.0 98.0h0M446.0 92.8h0M428.1 105.2h0M433.8 86.5h0M442.8 92.1h0M445.3 84.2h0M447.5 90.8h0M426.7 89.6h0M440.5 87.3h0M433.5 88.1h0M426.6 93.0h0M448.1 88.5h0M436.1 86.6h0"/><path stroke="#325cb6" d="M434.7 93.1h0M433.0 97.7h0M429.7 99.6h0M413.6 103.3h0M407.7 105.2h0M416.1 110.7h0M405.7 122.9h0M388.7 136.8h0M416.7 111.0h0M400.9 110.7h0M407.9 106.2h0M412.5 104.6h0M409.5 103.6h0M418.9 99.2h0M433.4 96.0h0M434.5 96.4h0M435.4 92.5h0M426.5 101.9h0M431.0 95.4h0"/><path stroke="#2867ba" d="M426.3 101.5h0M421.2 105.2h0M401.8 125.8h0M389.3 120.2h0M388.3 136.6h0M421.3 99.3h0M410.6 106.4h0M417.8 107.6h0M428.2 96.5h0"/><path stroke="#1e71bf" d="M422.9 99.6h0M411.9 114.5h0M424.6 100.1h0M420.8 100.8h0M419.5 101.3h0M422.7 102.5h0"/><path stroke="#147cc3" d="M417.8 103.3h0M412.7 108.9h0M397.7 114.7h0M398.1 128.4h0M382.8 125.2h0M411.3 113.8h0M422.3 102.5h0M416.4 106.5h0M418.5 102.7h0M419.1 104.1h0M420.1 103.2h0M422.4 101.4h0M418.7 104.1h0"/><path stroke="#1788c2" d="M380.6 127.3h0M411.0 109.4h0M410.4 109.3h0M403.3 111.5h0"/><path stroke="#2394be" d="M406.0 120.0h0M387.8 135.9h0M410.2 109.9h0"/><path stroke="#2ea1ba" d="M403.4 122.7h0M401.5 113.0h0M405.6 119.7h0M382.2 126.3h0M408.2 110.7h0M399.4 114.5h0M409.1 114.7h0"/><path stroke="#3aaeb6" d="M387.7 135.7h0M404.8 120.5h0M387.7 135.6h0M408.3 115.6h0"/><path stroke="#44b9b1" d="M381.1 127.8h0M381.1 127.8h0M388.3 135.1h0M402.1 113.4h0M391.7 120.0h0M381.4 127.5h0"/><path stroke="#4cc3aa" d="M401.5 123.7h0M399.0 126.2h0M401.9 113.7h0M405.0 112.4h0"/><path stroke="#55cba4" d="M381.6 127.7h0M400.3 114.7h0M392.8 119.5h0"/><path stroke="#62cfa2" d="M402.5 113.9h0M399.9 124.9h0M401.4 114.3h0"/><path stroke="#6fd4a1" d="M389.8 121.8h0M381.8 127.8h0M398.7 125.9h0M404.7 118.3h0M388.1 123.0h0M405.2 114.1h0"/><path stroke="#7cd8a0" d="M393.0 119.7h0M381.8 128.0h0M397.5 126.9h0M404.9 117.2h0M388.8 134.1h0M391.9 131.9h0M405.1 117.3h0"/><path stroke="#89dc9f" d="M396.6 117.6h0M404.4 118.0h0M382.1 127.9h0M386.1 124.6h0M404.2 118.3h0"/><path stroke="#96e19d" d="M401.6 121.6h0M404.6 116.7h0M396.1 117.9h0M400.2 123.5h0M391.6 131.9h0M401.6 121.5h0M394.1 129.8h0M399.8 115.9h0"/><path stroke="#a3e59c" d="M399.5 124.1h0M398.6 116.6h0M400.8 122.1h0"/><path stroke="#afe999" d="M398.0 125.6h0M403.5 116.9h0M399.5 123.5h0M392.3 131.1h0M403.6 116.2h0M403.4 117.0h0M384.2 126.5h0M400.8 115.8h0"/><path stroke="#baed95" d="M400.3 122.1h0M388.7 133.8h0M402.7 116.5h0M402.8 118.5h0M387.0 134.7h0M393.7 119.9h0"/><path stroke="#c5f192" d="M392.3 121.0h0M402.4 117.0h0M402.6 118.3h0M402.8 117.0h0M401.1 116.3h0M399.9 116.5h0M392.8 120.6h0M402.6 116.6h0M386.2 125.2h0"/><path stroke="#d0f58e" d="M388.4 133.7h0M400.0 116.7h0M400.1 121.8h0M399.8 122.3h0M400.8 120.9h0M382.1 128.8h0M401.7 116.7h0M397.7 125.4h0M402.0 118.8h0M398.0 124.9h0M398.4 124.4h0M391.3 121.7h0M401.9 117.0h0"/><path stroke="#dbf98b" d="M396.4 118.6h0M401.3 117.1h0M401.3 119.8h0M399.4 117.3h0M399.2 117.4h0M398.4 123.9h0M387.6 134.2h0"/><path stroke="#e6fd88" d="M399.9 117.4h0M393.8 129.3h0M395.7 119.2h0M399.9 117.5h0M400.5 117.2h0"/><path stroke="#edff89" d="M384.8 126.7h0M400.0 117.7h0M400.1 118.0h0M387.5 124.7h0M391.8 131.0h0M395.4 127.6h0M382.2 129.1h0M399.5 118.0h0M400.4 120.1h0"/><path stroke="#f0ff90" d="M394.6 120.2h0M393.3 121.0h0M400.2 119.7h0M397.1 118.8h0M391.9 130.8h0M399.9 120.6h0"/><path stroke="#f3ff96" d="M388.2 124.4h0M382.4 129.2h0M399.1 118.8h0M399.4 118.9h0M389.5 132.6h0M400.0 119.5h0M395.4 127.0h0M394.4 120.4h0M399.7 120.6h0"/><path stroke="#f6ff9d" d="M390.4 123.1h0M396.4 119.6h0M386.7 134.3h0M384.7 127.2h0"/><path stroke="#f9ffa3" d="M382.4 129.4h0M387.8 133.5h0M388.7 132.9h0M382.4 129.4h0M395.7 120.1h0M382.4 129.4h0M388.9 124.2h0M393.4 121.5h0M384.0 127.8h0M382.4 129.4h0M386.6 134.2h0"/><path stroke="#fcffaa" d="M398.2 122.0h0M398.2 121.9h0M386.3 126.1h0M398.4 120.9h0M383.8 128.2h0M398.2 122.0h0M394.3 128.0h0M382.9 129.1h0M396.2 120.4h0"/><path stroke="#fffeae" d="M386.4 134.2h0M382.7 129.4h0M388.6 124.6h0M390.1 123.7h0M397.1 120.6h0M386.8 134.0h0"/><path stroke="#fff8a4" d="M394.5 127.5h0M389.1 124.3h0M394.2 121.5h0M388.3 133.0h0M386.4 126.2h0"/><path stroke="#fff29a" d="M382.8 129.6h0M389.7 124.1h0M393.4 122.2h0M397.2 122.5h0M392.5 129.5h0M394.4 121.8h0M395.9 121.6h0M382.7 129.7h0M395.0 121.5h0"/><path stroke="#ffed90" d="M395.8 121.8h0M389.2 132.2h0M394.7 121.9h0M389.1 124.6h0M390.8 130.9h0"/><path stroke="#ffe785" d="M395.7 122.3h0M392.0 129.8h0M394.3 122.2h0M385.6 127.1h0"/><path stroke="#ffe17b" d="M395.9 122.9h0M386.2 134.0h0M393.1 122.8h0M390.7 124.0h0M395.6 124.7h0M396.1 122.9h0M396.1 122.7h0"/><path stroke="#ffdb71" d="M384.5 128.3h0M383.7 129.1h0M389.2 131.9h0M391.3 123.8h0M386.2 133.9h0M389.6 124.8h0M383.1 129.8h0"/><path stroke="#ffd269" d="M389.6 131.5h0M385.4 127.7h0M384.8 128.2h0M386.5 133.6h0M390.5 130.9h0M391.0 124.1h0M394.4 126.1h0"/><path stroke="#ffc860" d="M383.0 130.1h0M395.0 123.4h0M383.4 129.7h0M393.4 123.5h0M384.3 128.7h0"/><path stroke="#ffbf58" d="M391.6 129.6h0M394.7 124.6h0M387.6 132.8h0"/><path stroke="#ffb550" d="M387.1 126.7h0M390.4 130.6h0"/><path stroke="#ffab48" d="M392.0 124.4h0M392.0 124.3h0M390.4 130.5h0"/><path stroke="#ffa240" d="M386.6 133.2h0M393.9 124.9h0M383.2 130.4h0M390.0 125.3h0M393.9 124.3h0M385.3 128.3h0M385.6 128.1h0M392.6 127.9h0M393.2 124.3h0M383.4 130.2h0"/><path stroke="#ff9738" d="M387.1 132.8h0M383.3 130.5h0M384.7 129.0h0M393.6 124.5h0M385.8 133.5h0M383.3 130.4h0M390.8 125.0h0M384.0 129.6h0M393.8 125.3h0"/><path stroke="#ff8b33" d="M392.2 128.2h0M390.0 130.6h0M393.4 124.9h0M385.9 133.4h0M385.8 133.5h0M385.6 128.3h0M388.6 131.7h0M389.9 130.7h0M392.8 127.4h0"/><path stroke="#ff7f2e" d="M384.6 129.3h0M393.2 125.6h0M385.7 133.4h0M384.7 129.2h0M392.9 126.8h0M385.8 133.4h0M385.7 133.4h0"/><path stroke="#ff7328" d="M393.0 126.1h0M385.6 133.3h0M385.7 133.3h0M384.4 129.5h0M392.9 125.7h0"/><path stroke="#ff6723" d="M388.1 131.8h0M386.3 133.0h0M392.7 126.4h0M392.8 125.6h0M385.7 133.3h0M386.5 127.9h0"/><path stroke="#ff5b1d" d="M390.2 130.1h0M385.9 133.0h0M391.7 125.7h0M392.5 126.0h0M385.6 133.2h0M383.6 130.7h0M385.6 133.2h0M392.1 125.6h0M383.6 130.8h0M385.6 133.2h0M385.2 129.1h0"/><path stroke="#fe4e18" d="M383.6 130.9h0M388.6 131.2h0M383.7 130.8h0M386.9 127.8h0M391.7 125.7h0M383.8 130.8h0"/><path stroke="#f9461b" d="M390.1 129.8h0M383.8 131.0h0M385.4 133.1h0M384.0 130.6h0M385.6 133.0h0"/><path stroke="#f43e1f" d="M384.4 130.2h0M383.8 131.1h0M383.9 130.9h0M385.4 133.0h0M384.4 130.2h0M391.8 126.5h0"/><path stroke="#ef3523" d="M386.0 132.7h0M385.7 129.1h0M385.3 132.9h0M387.3 131.9h0M389.5 130.1h0M384.7 130.0h0"/><path stroke="#ea2d27" d="M388.8 127.2h0M390.0 126.8h0M390.6 128.7h0M384.0 131.2h0M388.6 130.9h0M386.8 132.1h0M386.3 132.4h0M389.1 130.4h0M384.8 130.2h0M384.7 130.2h0"/><path stroke="#e4252a" d="M386.3 132.3h0M385.1 132.6h0M384.0 131.4h0M386.4 132.2h0M387.9 127.7h0M389.9 129.4h0M384.1 131.4h0M386.5 128.7h0M387.1 131.8h0M387.3 131.6h0M385.7 129.4h0M384.9 130.1h0M385.1 132.6h0M385.1 132.7h0M390.0 129.4h0"/><path stroke="#df1c2e" d="M385.0 132.6h0M390.3 128.7h0M384.3 131.1h0M386.8 128.6h0M385.2 132.6h0M384.2 131.5h0M388.4 127.6h0M390.8 127.7h0M390.2 127.2h0"/><path stroke="#d8132f" d="M390.4 127.8h0M384.4 131.8h0M384.4 131.7h0M384.3 131.7h0M385.1 130.2h0M384.9 132.3h0M384.4 131.7h0M385.2 130.2h0M385.7 129.6h0M384.4 131.8h0M385.0 132.3h0M384.9 132.5h0M385.2 132.4h0M385.4 132.4h0M384.3 131.6h0M384.6 130.9h0M385.1 132.3h0M384.8 130.6h0M385.2 132.3h0"/><path stroke="#cf092f" d="M384.9 132.0h0M384.9 131.9h0M390.2 128.3h0M389.2 129.8h0M384.9 132.1h0M387.2 128.6h0M384.7 131.8h0M384.5 131.9h0M389.0 127.7h0M386.7 131.6h0M385.7 129.8h0"/><path stroke="#c6002f" d="M384.9 131.8h0M385.3 132.0h0M385.0 132.0h0M385.7 130.0h0M385.2 130.4h0M385.8 129.8h0M386.9 128.9h0M388.7 128.0h0M385.0 131.9h0M388.5 128.0h0"/><path stroke="#bd0036" d="M385.1 131.3h0M385.5 131.7h0M389.4 128.5h0M386.8 131.4h0M385.1 131.6h0M385.3 130.9h0M385.6 131.6h0M385.3 131.2h0M387.6 130.8h0M385.1 131.1h0M385.2 131.5h0"/><path stroke="#b4003c" d="M388.7 129.7h0M387.8 128.7h0M386.4 131.4h0M387.6 128.9h0M386.7 129.5h0M388.8 129.5h0M386.6 131.1h0M388.1 130.2h0M389.1 129.2h0M386.4 131.4h0"/><path stroke="#ab0041" d="M388.7 129.3h0M385.8 130.6h0M386.9 129.6h0M386.4 129.9h0"/><path stroke="#a40044" d="M386.5 130.7h0M386.6 130.7h0M387.9 129.5h0M388.2 129.5h0"/></g></g>
<line x1="384.50" y1="142.56" x2="479.89" y2="81.53" stroke="#808080" stroke-width="0.75" opacity="0.55"/>
<line x1="384.50" y1="149.80" x2="524.10" y2="23.40" stroke="#d4d4d4" stroke-width="0.9" opacity="0.75"/>
<rect x="384.5" y="23.4" width="139.6" height="126.4" fill="none" stroke="#4c4c4c" stroke-width="1.05"/>
<rect x="389.4" y="28.3" width="51.1" height="30.2" fill="#fbecd6"/>
<text transform="translate(391.60,34.30) scale(1,0.91)" class="st"><tspan font-style="italic">R</tspan><tspan font-size="4.6" dy="-2.7">2</tspan><tspan dy="2.7"> = 0.92</tspan></text>
<text transform="translate(391.60,41.00) scale(1,0.91)" class="st"><tspan font-style="italic">BIAS</tspan> = − 0.11</text>
<text transform="translate(391.60,47.70) scale(1,0.91)" class="st"><tspan font-style="italic">RMSE</tspan> = 0.78</text>
<text transform="translate(391.60,54.40) scale(1,0.91)" class="st"><tspan font-style="italic">KGE</tspan> = 0.74</text>
<text transform="translate(517.20,142.20) scale(1,0.91)" class="pl" text-anchor="end">(c)KNN</text>
<text transform="translate(384.50,156.20) scale(1,0.91)" class="tk" text-anchor="middle">0</text>
<text transform="translate(382.90,152.10) scale(1,0.91)" class="tk" text-anchor="end">0</text>
<text transform="translate(407.77,156.20) scale(1,0.91)" class="tk" text-anchor="middle">2</text>
<text transform="translate(382.90,131.03) scale(1,0.91)" class="tk" text-anchor="end">2</text>
<text transform="translate(431.03,156.20) scale(1,0.91)" class="tk" text-anchor="middle">4</text>
<text transform="translate(382.90,109.97) scale(1,0.91)" class="tk" text-anchor="end">4</text>
<text transform="translate(454.30,156.20) scale(1,0.91)" class="tk" text-anchor="middle">6</text>
<text transform="translate(382.90,88.90) scale(1,0.91)" class="tk" text-anchor="end">6</text>
<text transform="translate(477.57,156.20) scale(1,0.91)" class="tk" text-anchor="middle">8</text>
<text transform="translate(382.90,67.83) scale(1,0.91)" class="tk" text-anchor="end">8</text>
<text transform="translate(500.83,156.20) scale(1,0.91)" class="tk" text-anchor="middle">10</text>
<text transform="translate(382.90,46.77) scale(1,0.91)" class="tk" text-anchor="end">10</text>
<text transform="translate(524.10,156.20) scale(1,0.91)" class="tk" text-anchor="middle">12</text>
<text transform="translate(382.90,25.70) scale(1,0.91)" class="tk" text-anchor="end">12</text>
<text transform="translate(454.30,164.40) scale(1,0.91)" class="al" text-anchor="middle">Ground-measured ET (mm/day)</text>
<text transform="translate(373.50,87.60) scale(1,0.91) rotate(-90)" class="al" text-anchor="middle">Predicted ET (mm/day)</text>
<path d="M528.65,23.70 L530.80,28.90 L530.80,143.30 L528.65,149.20 L526.50,143.30 L526.50,28.90 Z" fill="url(#cbg)"/>
<text transform="translate(533.10,40.80) scale(1,0.91)" class="cb">0.30</text>
<text transform="translate(533.10,58.76) scale(1,0.91)" class="cb">0.25</text>
<text transform="translate(533.10,76.72) scale(1,0.91)" class="cb">0.20</text>
<text transform="translate(533.10,94.68) scale(1,0.91)" class="cb">0.15</text>
<text transform="translate(533.10,112.64) scale(1,0.91)" class="cb">0.10</text>
<text transform="translate(533.10,130.60) scale(1,0.91)" class="cb">0.05</text>
<clipPath id="cp10"><rect x="21.8" y="170.9" width="139.6" height="126.4"/></clipPath>
<g clip-path="url(#cp10)"><g transform="translate(0,170.9) scale(1,0.91)" stroke-linecap="round" stroke-width="4.9" fill="none"><path stroke="#503da8" d="M117.5 54.1h0"/><path stroke="#4647ad" d="M58.4 48.9h0M75.3 113.0h0M107.3 37.9h0M58.9 49.1h0"/><path stroke="#3c52b1" d="M34.7 51.7h0M54.1 69.3h0M55.8 73.0h0M44.0 45.2h0M66.0 51.7h0M70.2 52.6h0M63.4 59.1h0M82.0 49.3h0M84.6 60.0h0M91.3 58.2h0M94.7 56.3h0M96.4 59.1h0M100.6 52.6h0M99.8 63.7h0M95.6 78.6h0M85.4 85.1h0M44.4 44.0h0M34.7 51.3h0M82.6 49.9h0"/><path stroke="#325cb6" d="M42.3 56.7h0M56.7 76.8h0M75.3 54.5h0M64.3 62.8h0M69.3 58.2h0M71.0 61.9h0M74.4 63.7h0M76.1 62.8h0M61.7 67.5h0M62.6 76.8h0M80.3 69.3h0M79.5 74.9h0M71.0 99.1h0M63.4 115.8h0M57.5 121.3h0M51.6 125.1h0M49.9 128.8h0M48.2 130.6h0M72.7 88.8h0M77.0 84.2h0M91.3 66.5h0M94.7 69.3h0M96.4 72.1h0M93.0 74.9h0M89.6 78.6h0M86.3 79.5h0M93.0 79.5h0M81.2 79.5h0"/><path stroke="#2867ba" d="M38.1 58.2h0M65.1 78.6h0M70.2 73.0h0M72.7 71.2h0M76.1 69.3h0M77.8 67.5h0M76.1 76.8h0M66.8 93.5h0M69.3 95.3h0M67.7 100.9h0M66.0 104.6h0M64.3 106.5h0M60.0 109.3h0M61.7 112.1h0M60.9 114.8h0M54.1 122.3h0M37.2 134.4h0M46.8 126.5h0"/><path stroke="#1e71bf" d="M34.7 61.9h0M67.7 79.5h0M72.7 76.8h0M69.3 82.3h0M66.0 84.2h0M62.6 100.9h0"/><path stroke="#147cc3" d="M33.8 64.7h0M64.3 87.9h0M38.9 130.6h0M30.8 69.6h0M54.3 110.1h0M61.2 99.2h0"/><path stroke="#1788c2" d="M23.7 100.9h0M51.6 86.0h0M52.4 111.1h0M42.3 125.1h0M44.5 122.0h0M29.9 72.4h0M59.5 99.2h0"/><path stroke="#2394be" d="M35.5 67.5h0M33.0 69.3h0M41.4 73.0h0M25.4 99.1h0M49.9 113.9h0M41.4 125.1h0M45.7 119.5h0M39.6 67.5h0M41.4 70.6h0M37.1 66.1h0"/><path stroke="#2ea1ba" d="M60.0 91.6h0M57.5 100.0h0M36.6 67.7h0M35.6 68.6h0M41.0 82.2h0M30.4 76.8h0"/><path stroke="#3aaeb6" d="M38.9 73.0h0M54.1 88.8h0M57.5 89.8h0M46.5 115.8h0M43.2 120.0h0M29.6 85.2h0M32.0 74.9h0M32.3 74.7h0M56.9 99.5h0"/><path stroke="#44b9b1" d="M37.2 71.2h0M38.1 77.7h0M38.9 82.3h0M29.6 87.9h0M27.1 100.9h0M43.1 119.5h0M22.7 112.4h0M34.2 72.7h0M31.7 79.8h0M30.3 85.4h0M35.5 71.3h0M57.2 96.0h0"/><path stroke="#4cc3aa" d="M34.7 74.9h0M33.0 76.8h0M32.1 84.2h0M40.6 90.7h0M28.8 97.2h0M49.1 110.2h0M24.6 109.3h0M19.6 118.7h0M36.0 75.7h0M30.1 93.1h0M36.0 77.5h0M34.5 75.0h0M28.2 98.0h0M29.6 93.4h0M37.5 86.2h0M37.1 82.6h0M34.6 76.9h0M38.2 88.7h0"/><path stroke="#55cba4" d="M35.5 78.6h0M34.7 81.4h0M36.4 84.2h0M32.1 89.8h0M38.1 89.8h0M42.3 92.5h0M55.8 93.5h0M20.8 117.1h0M33.4 81.9h0M33.6 86.2h0M33.0 83.1h0M36.9 87.1h0M31.9 88.8h0M36.7 83.7h0M45.5 92.4h0"/><path stroke="#62cfa2" d="M35.5 88.8h0M33.4 88.6h0M30.1 98.8h0M33.2 88.9h0M50.0 107.5h0M51.8 104.1h0"/><path stroke="#6fd4a1" d="M32.1 95.3h0M52.4 93.5h0M54.1 98.7h0M46.4 93.9h0M53.5 100.2h0M48.2 93.5h0M47.6 109.7h0M53.6 93.8h0"/><path stroke="#7cd8a0" d="M38.9 94.4h0M35.5 94.4h0M53.3 99.1h0M28.5 105.8h0M31.6 99.0h0M35.1 94.7h0M33.8 96.0h0M31.2 100.2h0M34.5 95.2h0M53.2 96.4h0"/><path stroke="#89dc9f" d="M45.7 95.3h0M50.7 102.8h0M16.7 126.9h0M36.8 126.0h0M34.7 129.2h0M31.3 100.6h0M52.0 99.6h0M49.9 94.5h0M49.8 94.4h0M52.0 96.4h0"/><path stroke="#96e19d" d="M32.1 100.9h0M27.5 109.1h0M37.4 96.8h0M50.6 96.3h0M47.7 95.6h0M52.0 98.0h0M36.2 97.4h0"/><path stroke="#a3e59c" d="M35.5 99.1h0M42.3 97.2h0M49.9 97.2h0M34.6 98.7h0M33.5 100.6h0M49.3 96.5h0M51.1 98.6h0"/><path stroke="#afe999" d="M36.0 99.6h0M31.2 105.1h0M48.6 104.6h0M47.7 105.3h0M49.8 98.8h0M42.5 97.6h0"/><path stroke="#baed95" d="M38.9 99.1h0M45.7 108.3h0M30.8 133.6h0M35.2 100.7h0M30.7 106.6h0M22.1 118.8h0M49.0 99.3h0M49.4 99.2h0"/><path stroke="#c5f192" d="M47.4 104.6h0M33.9 102.8h0M44.4 109.4h0"/><path stroke="#d0f58e" d="M18.3 126.0h0M24.7 115.7h0M32.9 104.7h0M36.2 102.0h0"/><path stroke="#dbf98b" d="M30.7 108.3h0M40.5 115.3h0M22.1 119.9h0M43.3 109.9h0M38.5 101.2h0M44.9 100.7h0M42.2 112.0h0M46.3 100.8h0"/><path stroke="#e6fd88" d="M18.0 127.3h0M42.1 111.3h0M29.9 109.8h0M34.3 104.4h0M45.2 105.5h0M43.5 109.2h0"/><path stroke="#edff89" d="M17.5 129.0h0M21.0 122.3h0M43.8 106.8h0M43.5 101.8h0M43.9 106.2h0"/><path stroke="#f0ff90" d="M41.8 102.8h0M36.7 121.6h0M26.7 114.6h0M38.9 102.9h0M35.6 105.1h0M43.8 105.2h0M37.2 103.9h0M41.2 111.6h0M38.8 103.1h0M43.6 106.6h0"/><path stroke="#f3ff96" d="M42.2 108.9h0M35.8 105.6h0M42.2 105.0h0M35.3 105.8h0M38.4 104.4h0"/><path stroke="#f6ff9d" d="M33.1 128.0h0M41.9 106.2h0M33.9 107.9h0M33.9 107.8h0M39.0 104.4h0M41.4 105.8h0M41.3 105.5h0"/><path stroke="#f9ffa3" d="M28.2 114.0h0M38.7 115.0h0M39.3 105.2h0M36.7 106.3h0"/><path stroke="#fcffaa" d="M33.6 126.4h0M35.3 107.5h0M39.8 106.6h0M38.7 107.0h0M39.9 107.2h0M40.6 108.1h0M40.2 106.8h0"/><path stroke="#fffeae" d="M21.0 124.0h0M22.6 121.4h0M20.9 124.1h0M24.5 118.9h0M36.4 107.8h0"/><path stroke="#fff8a4" d="M35.7 109.0h0M38.2 112.8h0M38.6 111.4h0"/><path stroke="#fff29a" d="M37.8 109.7h0M37.5 115.4h0M37.3 115.2h0M36.7 109.4h0M36.8 109.2h0"/><path stroke="#ffed90" d="M18.4 130.6h0M18.4 130.6h0M37.6 110.6h0M23.9 120.5h0M36.1 110.5h0M28.3 115.5h0M36.3 118.3h0"/><path stroke="#ffe785" d="M26.4 135.2h0"/><path stroke="#ffe17b" d="M26.7 134.8h0M27.6 133.9h0M31.9 112.9h0M27.2 117.2h0"/><path stroke="#ffdb71" d="M20.0 127.6h0M36.1 114.0h0M34.5 112.7h0M34.4 112.8h0M30.5 114.3h0"/><path stroke="#ffd269" d="M19.0 131.0h0M35.1 113.7h0M21.7 124.8h0"/><path stroke="#ffc860" d="M28.3 117.0h0M35.2 118.5h0"/><path stroke="#ffbf58" d="M25.2 135.4h0M26.8 118.6h0M32.3 125.8h0M25.0 120.6h0M34.9 118.3h0"/><path stroke="#ffab48" d="M19.6 131.5h0M24.9 135.3h0M29.7 130.0h0M33.9 116.0h0"/><path stroke="#ff9738" d="M20.0 131.1h0"/><path stroke="#ff8b33" d="M21.2 127.9h0M25.9 133.9h0M22.5 125.3h0M32.2 124.3h0M20.0 131.8h0M25.7 133.9h0M29.2 117.9h0M30.7 116.9h0"/><path stroke="#ff7f2e" d="M24.3 134.9h0M27.1 119.9h0M24.3 134.8h0M25.9 133.7h0M31.5 125.7h0M24.3 134.8h0"/><path stroke="#ff7328" d="M26.9 132.6h0M25.4 133.9h0M24.2 134.8h0M20.2 132.0h0M32.5 122.8h0"/><path stroke="#ff6723" d="M20.8 130.6h0M28.0 131.0h0M25.4 133.7h0M24.3 123.5h0M27.2 120.2h0"/><path stroke="#ff5b1d" d="M20.7 132.3h0M30.3 127.0h0M20.8 132.0h0M21.1 129.8h0M32.0 122.7h0M24.0 134.3h0M32.0 119.2h0"/><path stroke="#fe4e18" d="M21.0 131.5h0M32.0 121.3h0M31.5 124.0h0M25.6 122.3h0M21.6 128.8h0M23.5 134.4h0M26.6 132.1h0M24.8 133.7h0M29.6 119.1h0M30.0 127.6h0"/><path stroke="#f9461b" d="M23.2 134.1h0M31.3 123.9h0M29.7 127.6h0M23.3 134.2h0M23.7 133.9h0M23.8 125.1h0M28.9 119.8h0"/><path stroke="#f43e1f" d="M23.8 133.8h0M31.0 124.3h0M22.7 127.2h0M30.3 119.9h0M29.4 120.1h0M26.5 122.0h0M21.6 130.3h0M21.5 132.9h0M21.4 131.2h0M23.6 125.4h0M31.4 121.5h0M28.4 120.4h0M23.1 134.0h0"/><path stroke="#ef3523" d="M22.4 133.5h0M23.0 133.7h0M22.4 133.4h0M25.8 132.1h0M21.6 131.8h0M23.0 133.5h0M23.0 133.5h0M22.9 133.6h0M21.8 133.1h0M22.9 133.7h0M24.9 132.8h0M25.8 132.3h0M21.8 133.1h0M21.9 133.1h0M21.7 130.9h0"/><path stroke="#ea2d27" d="M23.3 126.6h0M22.1 132.9h0M23.7 133.2h0M25.8 132.0h0M22.7 133.3h0M22.2 132.7h0M27.9 121.3h0M22.1 132.5h0M23.0 133.1h0M26.0 131.7h0M27.5 121.7h0"/><path stroke="#e4252a" d="M22.4 132.6h0M23.3 127.0h0M28.6 121.6h0M23.5 132.9h0M30.2 121.9h0M29.9 121.5h0M29.5 126.7h0M29.3 121.2h0"/><path stroke="#df1c2e" d="M29.0 121.9h0M30.2 122.4h0M24.2 132.6h0M30.3 123.0h0M22.8 132.5h0M27.8 122.1h0"/><path stroke="#d8132f" d="M22.7 131.5h0M29.6 124.3h0M25.4 124.7h0M23.2 128.2h0M29.0 122.4h0M26.3 123.7h0M23.3 132.0h0M26.5 123.6h0M28.0 122.3h0M29.5 125.1h0"/><path stroke="#cf092f" d="M27.3 123.1h0M24.4 131.6h0M25.8 130.9h0M23.1 129.4h0M29.5 123.0h0M29.4 123.6h0"/><path stroke="#c6002f" d="M23.7 131.3h0M26.9 129.6h0M28.3 127.2h0M28.3 123.3h0M25.7 130.6h0M25.9 124.7h0"/><path stroke="#bd0036" d="M25.5 130.2h0M28.7 124.7h0M25.3 130.4h0M28.1 127.0h0M25.9 130.0h0M27.4 128.3h0M28.5 126.2h0"/><path stroke="#b4003c" d="M23.9 129.6h0M28.3 125.9h0M24.2 129.1h0M28.2 125.6h0M26.6 125.1h0"/><path stroke="#ab0041" d="M25.0 129.2h0M27.2 125.4h0M27.6 125.6h0M24.5 129.3h0M25.2 129.6h0M27.4 127.4h0M27.1 127.5h0M27.7 125.9h0"/><path stroke="#a40044" d="M26.1 127.3h0M26.6 127.8h0M25.7 128.4h0M26.3 127.8h0M26.8 127.0h0M26.7 126.7h0"/></g></g>
<line x1="21.80" y1="281.77" x2="117.45" y2="204.64" stroke="#808080" stroke-width="0.75" opacity="0.55"/>
<line x1="21.80" y1="297.30" x2="161.40" y2="170.90" stroke="#d4d4d4" stroke-width="0.9" opacity="0.75"/>
<rect x="21.8" y="170.9" width="139.6" height="126.4" fill="none" stroke="#4c4c4c" stroke-width="1.05"/>
<rect x="26.7" y="175.8" width="51.1" height="30.2" fill="#fbecd6"/>
<text transform="translate(28.90,181.80) scale(1,0.91)" class="st"><tspan font-style="italic">R</tspan><tspan font-size="4.6" dy="-2.7">2</tspan><tspan dy="2.7"> = 0.72</tspan></text>
<text transform="translate(28.90,188.50) scale(1,0.91)" class="st"><tspan font-style="italic">BIAS</tspan> = − 1.10</text>
<text transform="translate(28.90,195.20) scale(1,0.91)" class="st"><tspan font-style="italic">RMSE</tspan> = 1.94</text>
<text transform="translate(28.90,201.90) scale(1,0.91)" class="st"><tspan font-style="italic">KGE</tspan> = 0.19</text>
<text transform="translate(154.50,289.70) scale(1,0.91)" class="pl" text-anchor="end">(d)ET_PM</text>
<text transform="translate(21.80,303.70) scale(1,0.91)" class="tk" text-anchor="middle">0</text>
<text transform="translate(20.20,299.60) scale(1,0.91)" class="tk" text-anchor="end">0</text>
<text transform="translate(45.07,303.70) scale(1,0.91)" class="tk" text-anchor="middle">2</text>
<text transform="translate(20.20,278.53) scale(1,0.91)" class="tk" text-anchor="end">2</text>
<text transform="translate(68.33,303.70) scale(1,0.91)" class="tk" text-anchor="middle">4</text>
<text transform="translate(20.20,257.47) scale(1,0.91)" class="tk" text-anchor="end">4</text>
<text transform="translate(91.60,303.70) scale(1,0.91)" class="tk" text-anchor="middle">6</text>
<text transform="translate(20.20,236.40) scale(1,0.91)" class="tk" text-anchor="end">6</text>
<text transform="translate(114.87,303.70) scale(1,0.91)" class="tk" text-anchor="middle">8</text>
<text transform="translate(20.20,215.33) scale(1,0.91)" class="tk" text-anchor="end">8</text>
<text transform="translate(138.13,303.70) scale(1,0.91)" class="tk" text-anchor="middle">10</text>
<text transform="translate(20.20,194.27) scale(1,0.91)" class="tk" text-anchor="end">10</text>
<text transform="translate(161.40,303.70) scale(1,0.91)" class="tk" text-anchor="middle">12</text>
<text transform="translate(20.20,173.20) scale(1,0.91)" class="tk" text-anchor="end">12</text>
<text transform="translate(91.60,311.90) scale(1,0.91)" class="al" text-anchor="middle">Ground-measured ET (mm/day)</text>
<text transform="translate(10.80,235.10) scale(1,0.91) rotate(-90)" class="al" text-anchor="middle">Predicted ET (mm/day)</text>
<path d="M165.95,171.20 L168.10,176.40 L168.10,290.80 L165.95,296.70 L163.80,290.80 L163.80,176.40 Z" fill="url(#cbg)"/>
<text transform="translate(170.40,192.50) scale(1,0.91)" class="cb">0.10</text>
<text transform="translate(170.40,213.10) scale(1,0.91)" class="cb">0.08</text>
<text transform="translate(170.40,233.70) scale(1,0.91)" class="cb">0.06</text>
<text transform="translate(170.40,254.30) scale(1,0.91)" class="cb">0.04</text>
<text transform="translate(170.40,274.90) scale(1,0.91)" class="cb">0.02</text>
<clipPath id="cp11"><rect x="203.2" y="170.9" width="139.6" height="126.4"/></clipPath>
<g clip-path="url(#cp11)"><g transform="translate(0,170.9) scale(1,0.91)" stroke-linecap="round" stroke-width="4.9" fill="none"><path stroke="#4647ad" d="M273.2 67.5h0M282.5 73.0h0M262.2 74.9h0M288.4 74.0h0M275.7 82.3h0M273.2 84.2h0M276.6 86.0h0M277.4 87.9h0M248.7 84.2h0M247.0 87.9h0M252.0 89.8h0M254.6 88.8h0M258.0 87.0h0M258.8 89.8h0M264.7 87.9h0M237.7 96.3h0M260.5 98.1h0M278.2 94.4h0M276.6 100.0h0M258.8 106.5h0M263.0 104.6h0M257.1 110.2h0M263.9 111.1h0M265.6 113.0h0M234.3 105.6h0M246.1 119.5h0M244.4 123.2h0M245.3 126.9h0M247.0 129.7h0M235.1 127.9h0M241.0 134.4h0M236.0 136.2h0M233.4 134.4h0M257.1 126.9h0"/><path stroke="#3c52b1" d="M270.6 69.3h0M275.7 68.4h0M278.2 70.2h0M280.8 71.2h0M279.9 74.0h0M277.4 73.0h0M274.9 72.1h0M272.3 73.0h0M268.9 74.0h0M274.0 79.5h0M252.0 95.3h0M257.1 96.3h0M247.0 100.9h0M253.7 100.9h0M256.3 103.7h0M236.8 106.5h0M252.0 108.3h0M227.5 112.1h0M237.7 130.6h0M239.4 132.5h0M211.9 142.5h0M215.1 141.1h0M241.8 121.4h0"/><path stroke="#325cb6" d="M250.3 101.8h0M244.4 115.8h0M214.8 121.3h0M220.0 136.1h0M232.6 126.6h0"/><path stroke="#2867ba" d="M241.9 105.6h0M244.4 104.6h0M247.0 106.5h0M249.5 106.5h0M225.0 115.8h0M223.3 116.7h0M230.9 126.9h0M231.8 111.5h0M220.8 118.0h0"/><path stroke="#1e71bf" d="M239.4 108.3h0M236.8 121.3h0"/><path stroke="#147cc3" d="M245.3 110.2h0M218.4 135.8h0M234.5 111.5h0M230.1 126.8h0M240.3 109.5h0M241.2 116.0h0"/><path stroke="#1788c2" d="M242.7 112.1h0M227.4 116.6h0M242.4 112.7h0M236.5 111.9h0M240.9 115.1h0M232.7 113.4h0"/><path stroke="#2394be" d="M239.4 115.4h0M239.3 116.1h0M230.0 115.9h0M240.8 112.3h0"/><path stroke="#2ea1ba" d="M238.5 113.0h0M236.0 113.9h0M233.4 114.8h0M232.6 123.2h0M237.4 113.2h0M238.0 116.9h0M237.9 113.7h0M226.1 118.2h0"/><path stroke="#3aaeb6" d="M218.2 122.3h0M230.0 116.9h0M237.2 115.3h0M235.5 119.4h0"/><path stroke="#44b9b1" d="M213.1 125.1h0M200.9 132.8h0M224.0 130.4h0"/><path stroke="#4cc3aa" d="M201.8 132.4h0M233.4 120.7h0M231.4 117.1h0"/><path stroke="#55cba4" d="M233.4 119.5h0M201.4 132.9h0M232.6 117.3h0"/><path stroke="#62cfa2" d="M201.2 133.2h0M201.2 133.3h0M217.1 134.8h0M229.7 124.1h0"/><path stroke="#6fd4a1" d="M222.3 130.9h0M230.4 119.1h0M228.1 125.5h0"/><path stroke="#7cd8a0" d="M224.3 128.9h0M203.4 131.8h0M217.6 134.1h0M230.8 119.7h0M228.1 125.3h0M230.8 119.7h0"/><path stroke="#89dc9f" d="M203.8 131.5h0M203.4 132.0h0M226.9 120.3h0M230.4 121.4h0"/><path stroke="#96e19d" d="M201.4 133.7h0M224.2 128.8h0M228.4 124.1h0"/><path stroke="#a3e59c" d="M223.6 129.0h0M224.7 128.0h0"/><path stroke="#afe999" d="M228.6 122.6h0"/><path stroke="#baed95" d="M202.0 133.6h0M203.3 132.5h0M204.2 131.8h0"/><path stroke="#c5f192" d="M224.6 127.4h0M201.6 134.1h0M206.1 140.7h0M204.7 131.6h0M223.7 128.5h0M226.9 122.3h0"/><path stroke="#d0f58e" d="M223.8 128.1h0M206.5 140.4h0M201.7 134.2h0"/><path stroke="#dbf98b" d="M216.3 134.0h0M222.7 128.9h0M221.7 129.7h0M221.0 130.3h0M225.2 122.9h0M222.4 123.2h0"/><path stroke="#e6fd88" d="M220.0 131.1h0M201.8 134.4h0"/><path stroke="#edff89" d="M213.7 135.5h0"/><path stroke="#f0ff90" d="M201.8 134.5h0M218.8 131.7h0M203.8 132.9h0"/><path stroke="#f3ff96" d="M207.1 139.6h0M218.8 131.6h0M214.3 134.9h0M218.8 125.0h0M205.1 140.7h0M216.1 133.6h0"/><path stroke="#f6ff9d" d="M220.1 124.7h0M223.0 127.3h0M205.1 140.6h0M223.7 126.1h0M210.4 137.4h0"/><path stroke="#f9ffa3" d="M212.4 135.9h0M223.1 124.8h0M216.4 133.1h0M210.5 137.2h0M223.0 127.0h0M223.2 126.7h0M222.7 124.8h0"/><path stroke="#fcffaa" d="M221.1 129.1h0M222.2 127.7h0M222.4 125.1h0"/><path stroke="#fffeae" d="M208.3 138.4h0M222.8 125.9h0M202.1 135.0h0"/><path stroke="#fff8a4" d="M221.1 128.4h0M203.3 134.0h0M205.0 140.2h0M219.5 130.1h0M221.6 125.5h0M217.3 126.2h0M202.5 134.7h0M220.3 129.5h0M218.5 125.8h0M212.7 135.5h0"/><path stroke="#fff29a" d="M218.6 125.9h0M220.2 125.8h0M221.1 125.7h0M219.4 125.8h0M205.4 139.9h0M216.9 132.3h0M221.5 126.1h0M216.1 126.7h0M221.7 126.2h0M220.3 129.1h0M218.5 131.0h0"/><path stroke="#ffed90" d="M218.1 131.0h0M214.1 134.3h0M215.7 127.0h0"/><path stroke="#ffe785" d="M208.0 130.8h0M215.6 127.1h0M220.9 126.8h0M218.9 130.3h0M220.8 127.8h0"/><path stroke="#ffe17b" d="M220.6 127.3h0M220.4 127.8h0M204.3 133.6h0M217.2 126.8h0M220.0 128.7h0M202.7 134.9h0"/><path stroke="#ffdb71" d="M218.2 130.5h0M203.1 134.6h0M220.0 127.4h0M218.8 129.9h0M205.6 132.6h0"/><path stroke="#ffd269" d="M218.9 126.9h0M202.4 135.4h0M205.0 139.7h0"/><path stroke="#ffc860" d="M206.4 132.3h0M205.4 132.9h0M205.7 139.2h0M204.5 133.7h0"/><path stroke="#ffbf58" d="M204.6 139.7h0M204.5 133.8h0M207.7 131.4h0M212.5 128.9h0M218.1 129.7h0M210.4 129.9h0M205.5 139.2h0"/><path stroke="#ffb550" d="M218.1 127.6h0M210.1 136.4h0M218.3 129.3h0M213.6 133.8h0M209.2 137.0h0M215.2 128.1h0M217.9 129.7h0M206.4 138.7h0M216.5 131.4h0"/><path stroke="#ffab48" d="M204.8 139.4h0M211.9 129.4h0M218.0 129.0h0M207.8 137.7h0"/><path stroke="#ffa240" d="M211.3 135.3h0M216.7 130.7h0M210.8 135.7h0M204.4 139.5h0M205.9 132.9h0"/><path stroke="#ff9738" d="M205.4 138.9h0M215.5 131.8h0M207.4 137.8h0M214.3 132.9h0M206.8 132.5h0M211.8 134.9h0M207.6 131.9h0M215.9 131.4h0M217.0 130.1h0"/><path stroke="#ff8b33" d="M211.1 130.0h0M207.0 132.4h0M203.6 135.0h0M215.7 128.5h0"/><path stroke="#ff7f2e" d="M214.8 128.9h0M205.8 133.3h0M215.7 131.0h0M215.2 128.8h0M202.8 135.9h0M202.8 136.0h0M206.8 138.0h0"/><path stroke="#ff7328" d="M215.8 130.6h0M207.1 132.5h0M202.7 136.3h0M204.8 134.2h0M210.7 130.4h0M215.4 129.1h0"/><path stroke="#ff6723" d="M203.9 135.2h0M215.5 129.3h0M205.2 138.6h0M213.6 129.5h0"/><path stroke="#ff5b1d" d="M204.7 138.7h0M212.7 133.5h0M214.9 131.3h0M202.9 136.4h0M204.2 138.9h0"/><path stroke="#fe4e18" d="M202.9 136.5h0M204.2 138.8h0M209.3 131.5h0M204.2 138.8h0M206.0 133.6h0M203.5 135.9h0M208.7 131.8h0M206.7 137.7h0M213.4 129.7h0M209.2 136.1h0M203.2 136.2h0M214.8 130.1h0M215.0 130.5h0M214.2 131.8h0"/><path stroke="#f9461b" d="M202.9 136.6h0M208.4 132.0h0M204.0 138.7h0M206.0 137.9h0M202.9 136.6h0M206.5 137.7h0M213.7 132.1h0M204.9 134.6h0"/><path stroke="#f43e1f" d="M203.0 136.7h0M207.7 132.6h0M214.4 130.7h0M209.3 135.8h0M203.2 136.4h0M204.0 138.6h0M207.7 136.8h0M204.2 138.6h0M206.1 137.8h0"/><path stroke="#ef3523" d="M203.0 136.8h0M203.9 138.4h0M208.2 136.4h0M203.0 136.9h0M214.0 130.9h0M207.7 136.7h0M203.1 136.8h0"/><path stroke="#ea2d27" d="M203.1 137.0h0M203.5 136.4h0M206.7 133.5h0M203.2 136.9h0M205.3 134.5h0M213.5 131.3h0M203.1 136.9h0M211.8 130.8h0M203.9 138.2h0"/><path stroke="#e4252a" d="M212.1 131.0h0M204.7 135.3h0M204.0 136.0h0M204.4 135.6h0M204.1 135.9h0M206.6 137.1h0M203.9 138.1h0M204.3 135.7h0M213.2 131.5h0M212.7 130.9h0"/><path stroke="#df1c2e" d="M203.4 137.5h0M212.3 131.3h0M211.2 133.7h0M204.7 135.4h0M203.7 137.9h0M212.4 132.2h0M203.6 138.0h0M203.6 137.8h0M203.6 137.7h0M203.4 137.2h0M203.6 137.9h0M203.6 137.6h0M210.2 131.7h0M203.4 137.5h0M203.4 137.3h0"/><path stroke="#d8132f" d="M208.5 132.7h0M203.8 137.6h0M208.7 132.5h0M211.6 133.1h0M204.0 137.7h0M210.0 134.6h0M206.0 137.1h0M205.5 137.4h0M203.8 137.6h0M204.3 137.6h0M211.7 131.5h0M203.8 137.4h0M207.0 136.6h0M211.3 133.6h0M207.9 133.1h0M203.7 137.4h0"/><path stroke="#cf092f" d="M204.3 137.3h0M204.0 137.2h0M205.3 135.1h0M204.5 136.0h0M204.1 137.1h0M209.8 132.2h0M204.0 136.8h0M211.5 132.0h0M211.6 131.7h0M206.0 134.6h0"/><path stroke="#c6002f" d="M209.4 132.5h0M211.0 132.3h0M208.7 135.1h0M205.3 137.1h0M206.2 136.7h0M209.1 135.0h0M204.5 136.8h0M209.4 134.6h0M204.5 136.5h0M204.8 137.2h0M205.2 137.0h0M208.1 135.6h0"/><path stroke="#bd0036" d="M208.1 135.6h0M205.1 136.6h0M207.7 135.7h0M205.6 136.7h0"/><path stroke="#b4003c" d="M207.7 135.6h0M205.4 136.1h0M208.1 133.6h0M205.2 136.2h0M209.5 132.9h0M206.7 134.6h0M210.2 132.8h0"/><path stroke="#ab0041" d="M206.4 135.2h0M206.5 135.1h0M206.4 135.3h0M208.0 133.7h0"/><path stroke="#a40044" d="M207.1 135.0h0M208.0 134.4h0"/></g></g>
<line x1="203.20" y1="297.01" x2="288.39" y2="240.50" stroke="#808080" stroke-width="0.75" opacity="0.55"/>
<line x1="203.20" y1="297.30" x2="342.80" y2="170.90" stroke="#d4d4d4" stroke-width="0.9" opacity="0.75"/>
<rect x="203.2" y="170.9" width="139.6" height="126.4" fill="none" stroke="#4c4c4c" stroke-width="1.05"/>
<rect x="208.1" y="175.8" width="47.0" height="30.2" fill="#fbecd6"/>
<text transform="translate(210.30,181.80) scale(1,0.91)" class="st"><tspan font-style="italic">R</tspan><tspan font-size="4.6" dy="-2.7">2</tspan><tspan dy="2.7"> = 0.91</tspan></text>
<text transform="translate(210.30,188.50) scale(1,0.91)" class="st"><tspan font-style="italic">BIAS</tspan> = 0.34</text>
<text transform="translate(210.30,195.20) scale(1,0.91)" class="st"><tspan font-style="italic">RMSE</tspan> = 1.00</text>
<text transform="translate(210.30,201.90) scale(1,0.91)" class="st"><tspan font-style="italic">KGE</tspan> = 0.57</text>
<text transform="translate(335.90,289.70) scale(1,0.91)" class="pl" text-anchor="end">(e)ET_PT</text>
<text transform="translate(203.20,303.70) scale(1,0.91)" class="tk" text-anchor="middle">0</text>
<text transform="translate(201.60,299.60) scale(1,0.91)" class="tk" text-anchor="end">0</text>
<text transform="translate(226.47,303.70) scale(1,0.91)" class="tk" text-anchor="middle">2</text>
<text transform="translate(201.60,278.53) scale(1,0.91)" class="tk" text-anchor="end">2</text>
<text transform="translate(249.73,303.70) scale(1,0.91)" class="tk" text-anchor="middle">4</text>
<text transform="translate(201.60,257.47) scale(1,0.91)" class="tk" text-anchor="end">4</text>
<text transform="translate(273.00,303.70) scale(1,0.91)" class="tk" text-anchor="middle">6</text>
<text transform="translate(201.60,236.40) scale(1,0.91)" class="tk" text-anchor="end">6</text>
<text transform="translate(296.27,303.70) scale(1,0.91)" class="tk" text-anchor="middle">8</text>
<text transform="translate(201.60,215.33) scale(1,0.91)" class="tk" text-anchor="end">8</text>
<text transform="translate(319.53,303.70) scale(1,0.91)" class="tk" text-anchor="middle">10</text>
<text transform="translate(201.60,194.27) scale(1,0.91)" class="tk" text-anchor="end">10</text>
<text transform="translate(342.80,303.70) scale(1,0.91)" class="tk" text-anchor="middle">12</text>
<text transform="translate(201.60,173.20) scale(1,0.91)" class="tk" text-anchor="end">12</text>
<text transform="translate(273.00,311.90) scale(1,0.91)" class="al" text-anchor="middle">Ground-measured ET (mm/day)</text>
<text transform="translate(192.20,235.10) scale(1,0.91) rotate(-90)" class="al" text-anchor="middle">Predicted ET (mm/day)</text>
<path d="M347.35,171.20 L349.50,176.40 L349.50,290.80 L347.35,296.70 L345.20,290.80 L345.20,176.40 Z" fill="url(#cbg)"/>
<text transform="translate(351.80,192.20) scale(1,0.91)" class="cb">0.35</text>
<text transform="translate(351.80,206.90) scale(1,0.91)" class="cb">0.30</text>
<text transform="translate(351.80,221.60) scale(1,0.91)" class="cb">0.25</text>
<text transform="translate(351.80,236.30) scale(1,0.91)" class="cb">0.20</text>
<text transform="translate(351.80,251.00) scale(1,0.91)" class="cb">0.15</text>
<text transform="translate(351.80,265.70) scale(1,0.91)" class="cb">0.10</text>
<text transform="translate(351.80,280.40) scale(1,0.91)" class="cb">0.05</text>
<clipPath id="cp12"><rect x="384.5" y="170.9" width="139.6" height="126.4"/></clipPath>
<g clip-path="url(#cp12)"><g transform="translate(0,170.9) scale(1,0.91)" stroke-linecap="round" stroke-width="4.9" fill="none"><path stroke="#503da8" d="M446.6 100.9h0M438.1 121.3h0M480.7 58.6h0"/><path stroke="#4647ad" d="M444.0 55.4h0M452.5 54.5h0M455.0 52.6h0M462.6 52.6h0M469.4 54.1h0M458.4 68.4h0M457.6 73.0h0M460.1 79.5h0M458.4 86.0h0M428.0 69.3h0M430.5 70.2h0M433.9 72.1h0M434.7 74.9h0M419.5 79.5h0M395.8 109.3h0M422.9 132.5h0M413.6 137.1h0"/><path stroke="#3c52b1" d="M458.4 53.5h0M463.5 59.1h0M453.3 58.2h0M455.9 61.0h0M458.4 61.9h0M456.7 63.7h0M449.1 62.8h0M454.2 68.4h0M439.8 69.3h0M440.6 73.0h0M445.7 74.0h0M438.1 79.5h0M442.3 83.3h0M428.0 84.2h0M444.0 91.6h0M409.4 99.1h0M406.8 101.8h0M405.1 105.6h0M426.3 123.2h0"/><path stroke="#325cb6" d="M430.5 86.0h0M439.8 91.6h0M420.4 92.5h0M417.8 93.5h0M416.1 95.3h0M438.1 99.1h0M429.9 108.0h0M433.0 104.9h0M424.4 89.8h0"/><path stroke="#2867ba" d="M433.9 87.9h0M436.4 89.8h0M425.4 91.6h0M426.3 113.9h0M427.1 117.6h0M421.2 126.9h0M394.6 139.6h0M397.6 137.6h0M435.6 98.6h0M435.0 101.2h0M409.2 104.0h0"/><path stroke="#1e71bf" d="M434.7 93.5h0M422.9 93.5h0M419.5 97.2h0M433.0 99.1h0M424.6 110.2h0M424.6 119.5h0M398.4 113.9h0M417.8 128.8h0M414.4 130.6h0M411.1 132.5h0M421.7 123.6h0M422.2 123.4h0M408.2 134.8h0M418.6 126.9h0M434.3 99.1h0M424.3 92.7h0M432.6 100.7h0M432.1 102.5h0M414.4 101.7h0M428.7 92.1h0"/><path stroke="#147cc3" d="M431.3 95.3h0M428.0 93.5h0M429.7 100.9h0M407.7 108.3h0M419.5 125.1h0M412.7 131.0h0M411.7 131.7h0M406.4 133.4h0M418.4 125.2h0M420.6 114.8h0M425.2 95.3h0"/><path stroke="#1788c2" d="M420.4 112.1h0M395.8 116.7h0M405.2 132.2h0M417.1 125.2h0M417.6 124.1h0M415.9 120.6h0M417.4 123.5h0M408.3 130.4h0M403.1 133.0h0M407.2 130.7h0M413.7 104.8h0M415.3 117.9h0M427.5 102.9h0M419.4 113.0h0M413.6 104.2h0M431.1 95.7h0M429.5 99.2h0"/><path stroke="#2394be" d="M422.9 99.1h0M426.3 100.9h0M413.6 121.3h0M416.1 123.2h0M401.4 131.5h0M415.0 125.4h0M406.2 128.3h0M414.7 122.4h0M410.6 126.7h0M404.3 129.4h0M414.9 123.2h0M405.2 129.9h0M415.1 122.2h0M409.5 128.4h0M406.9 129.2h0M413.1 126.7h0M421.1 100.9h0M418.1 102.9h0M426.0 98.8h0M425.8 102.7h0M414.4 104.6h0M423.2 99.0h0M423.5 104.7h0M420.0 109.7h0M427.7 96.9h0M425.2 97.4h0M426.1 100.9h0M426.1 99.2h0"/><path stroke="#2ea1ba" d="M408.9 126.1h0M410.2 124.1h0M410.5 125.0h0M409.6 122.7h0M421.1 107.3h0M419.9 103.7h0M423.3 100.4h0M421.3 104.2h0"/><path stroke="#3aaeb6" d="M417.8 110.2h0M418.8 107.7h0M416.7 112.1h0M417.3 105.6h0"/><path stroke="#44b9b1" d="M411.1 109.3h0M411.1 119.5h0M399.6 131.4h0M416.7 108.7h0M413.1 108.0h0"/><path stroke="#4cc3aa" d="M414.4 110.2h0M403.0 127.9h0"/><path stroke="#62cfa2" d="M412.2 110.9h0M410.9 117.5h0M403.9 113.7h0M412.5 114.9h0"/><path stroke="#6fd4a1" d="M381.1 131.2h0M409.6 118.6h0M409.1 119.3h0"/><path stroke="#7cd8a0" d="M381.9 130.6h0M409.3 112.7h0M410.9 115.8h0M407.2 113.0h0M408.8 119.5h0"/><path stroke="#89dc9f" d="M408.3 113.1h0"/><path stroke="#96e19d" d="M381.6 131.2h0M404.0 124.9h0"/><path stroke="#a3e59c" d="M381.5 131.5h0M409.2 116.9h0"/><path stroke="#afe999" d="M383.8 129.4h0M383.3 129.8h0M381.5 131.7h0M398.1 130.7h0M408.5 117.7h0"/><path stroke="#baed95" d="M383.4 129.9h0"/><path stroke="#c5f192" d="M402.4 125.7h0"/><path stroke="#d0f58e" d="M388.3 138.7h0M398.4 129.8h0"/><path stroke="#dbf98b" d="M404.0 123.3h0M381.8 132.1h0M388.6 138.3h0"/><path stroke="#e6fd88" d="M383.5 130.5h0M384.2 129.7h0M403.8 123.1h0"/><path stroke="#edff89" d="M384.7 129.3h0"/><path stroke="#f0ff90" d="M403.2 123.5h0M382.4 131.9h0M404.2 122.2h0M405.0 120.7h0"/><path stroke="#f3ff96" d="M387.3 138.8h0"/><path stroke="#f6ff9d" d="M403.9 121.6h0M389.0 137.4h0M382.1 132.5h0M397.4 120.0h0M387.3 138.7h0M382.2 132.5h0M403.2 122.9h0M402.5 118.0h0"/><path stroke="#f9ffa3" d="M398.6 119.5h0M403.2 122.5h0"/><path stroke="#fcffaa" d="M397.0 130.0h0M402.3 123.5h0M402.2 118.4h0"/><path stroke="#fffeae" d="M394.8 131.9h0M401.5 124.5h0M382.4 132.7h0M401.0 125.3h0M384.0 130.9h0"/><path stroke="#fff8a4" d="M400.1 126.2h0M387.1 138.3h0M401.7 119.1h0M382.4 132.9h0M401.3 119.2h0"/><path stroke="#fff29a" d="M387.4 137.9h0M396.1 121.5h0M392.0 134.3h0M397.3 120.9h0M401.0 119.5h0M391.9 134.5h0"/><path stroke="#ffed90" d="M390.0 135.9h0M395.2 131.2h0M399.1 127.1h0M395.0 122.3h0M402.6 120.4h0M396.8 129.6h0"/><path stroke="#ffe785" d="M397.4 121.1h0M393.6 132.6h0M399.0 127.0h0M402.2 121.8h0M398.2 120.7h0M400.3 120.1h0M402.2 121.4h0M402.3 121.0h0M394.8 122.6h0"/><path stroke="#ffe17b" d="M399.0 120.6h0M401.7 120.4h0M399.9 120.4h0M394.6 122.8h0"/><path stroke="#ffdb71" d="M387.8 127.9h0M400.7 123.9h0M397.0 128.9h0M401.5 122.3h0M387.0 137.8h0"/><path stroke="#ffd269" d="M386.5 137.9h0M383.8 132.1h0M383.2 132.9h0M400.4 120.8h0M382.8 133.3h0M396.2 122.2h0M400.7 120.9h0M393.7 132.1h0"/><path stroke="#ffc860" d="M387.6 137.2h0M400.0 124.5h0"/><path stroke="#ffbf58" d="M400.6 123.2h0M384.7 131.5h0M399.3 125.3h0M399.9 121.6h0M385.8 130.2h0M387.4 137.2h0"/><path stroke="#ffb550" d="M394.9 130.6h0M397.2 128.1h0M386.7 137.5h0M387.7 128.6h0M392.0 125.1h0M388.2 136.5h0M383.4 133.2h0M399.9 124.1h0M398.5 126.4h0M390.0 126.6h0M400.1 122.7h0"/><path stroke="#ffab48" d="M399.8 122.2h0M386.5 129.8h0M383.8 132.7h0M386.3 137.6h0M398.0 122.1h0M385.7 130.6h0"/><path stroke="#ffa240" d="M398.2 126.4h0M387.2 136.9h0M399.7 122.7h0M399.2 122.4h0M394.4 123.9h0M383.2 133.7h0M391.4 125.8h0M399.5 123.7h0M398.7 125.6h0M384.9 131.5h0"/><path stroke="#ff9738" d="M385.0 131.6h0M390.6 134.2h0M389.3 135.3h0"/><path stroke="#ff8b33" d="M398.1 125.9h0M397.3 122.9h0M391.3 133.5h0M388.9 135.4h0M390.8 126.6h0M386.2 130.5h0M398.6 125.2h0M387.6 129.1h0"/><path stroke="#ff7f2e" d="M387.1 129.8h0M387.0 129.9h0"/><path stroke="#ff7328" d="M386.8 136.6h0M385.9 137.1h0M388.4 135.7h0"/><path stroke="#ff6723" d="M397.9 124.6h0M386.4 136.8h0M385.9 137.0h0M391.9 132.6h0M386.2 130.9h0M387.3 129.9h0M397.8 125.1h0M384.4 133.1h0M395.1 124.2h0M390.5 127.1h0"/><path stroke="#ff5b1d" d="M394.3 124.8h0M385.9 136.9h0M392.3 132.2h0M394.2 130.2h0M385.7 136.9h0M394.7 124.7h0M397.6 125.2h0M397.5 124.4h0M385.4 132.1h0M396.6 127.2h0"/><path stroke="#fe4e18" d="M388.2 135.4h0M392.7 131.6h0M383.8 134.2h0M385.7 136.8h0M385.9 136.7h0M393.1 125.6h0M383.8 134.3h0"/><path stroke="#f9461b" d="M389.3 128.4h0M396.7 126.4h0M384.7 133.2h0M386.5 131.2h0M394.8 129.1h0M388.5 129.2h0M388.7 128.9h0M387.5 135.7h0M383.8 134.5h0M388.0 135.4h0M396.8 125.7h0M387.6 135.6h0M394.9 124.9h0"/><path stroke="#f43e1f" d="M395.7 127.7h0M385.5 136.7h0M395.1 125.1h0M393.1 125.9h0M396.0 127.2h0M384.0 134.7h0"/><path stroke="#ef3523" d="M384.0 134.8h0M384.1 134.8h0M387.9 129.9h0M384.5 134.0h0M390.4 133.3h0M384.3 134.6h0M389.0 134.3h0M384.2 134.4h0M384.1 134.9h0M385.6 132.4h0M385.5 136.4h0"/><path stroke="#ea2d27" d="M395.7 126.4h0M384.2 135.1h0M384.2 135.0h0M387.1 130.9h0M385.4 136.2h0M385.1 136.2h0M395.7 126.9h0M384.3 135.1h0M389.0 134.2h0"/><path stroke="#e4252a" d="M384.7 135.7h0M384.4 135.3h0M385.2 136.1h0M384.6 134.6h0M385.4 135.9h0M387.9 134.8h0M384.4 135.1h0M386.0 132.3h0M385.0 136.0h0M385.1 135.9h0M384.4 135.2h0M385.1 136.1h0M385.0 135.8h0M390.4 133.0h0M389.4 133.8h0M391.7 127.2h0M393.3 130.0h0M394.6 126.1h0M384.4 135.1h0M384.8 135.8h0M384.7 135.6h0"/><path stroke="#df1c2e" d="M385.2 135.8h0M385.6 133.2h0M385.0 134.0h0M385.3 133.6h0M385.1 133.9h0M384.8 135.4h0M387.3 134.9h0M386.9 135.3h0M385.3 133.7h0M385.2 135.8h0M385.7 135.7h0M385.1 135.6h0M395.0 127.3h0M385.1 135.6h0M394.8 126.5h0"/><path stroke="#d8132f" d="M385.7 135.4h0M388.8 129.9h0M392.1 127.5h0M388.9 129.6h0M385.6 133.4h0M385.3 135.4h0M394.3 126.7h0M385.4 135.2h0M385.3 134.9h0M390.3 128.5h0M388.2 134.2h0M388.2 130.4h0M386.1 135.2h0M394.4 128.0h0"/><path stroke="#cf092f" d="M386.6 135.0h0M386.1 132.9h0M385.5 134.0h0M387.5 134.5h0M385.8 134.8h0M393.9 127.1h0M385.7 134.6h0M386.6 135.0h0M392.6 127.3h0M394.0 128.4h0M386.7 132.2h0"/><path stroke="#c6002f" d="M389.6 129.4h0M392.3 127.8h0M393.6 127.6h0M386.3 134.5h0M390.0 129.1h0M391.8 128.0h0M386.8 134.5h0"/><path stroke="#bd0036" d="M391.8 130.5h0M386.5 134.0h0M390.8 131.6h0M393.3 127.8h0M386.3 134.0h0M391.7 128.3h0M389.1 132.9h0"/><path stroke="#b4003c" d="M391.3 129.0h0M392.0 129.7h0M392.6 128.6h0M388.7 133.0h0M389.6 132.4h0M389.1 132.9h0M390.0 132.2h0M391.7 128.6h0M388.7 133.1h0M388.6 130.9h0M391.8 130.3h0M387.4 132.1h0M388.5 131.0h0"/><path stroke="#ab0041" d="M387.3 132.9h0M387.9 132.5h0M389.9 129.9h0M390.2 131.7h0M390.5 129.6h0M387.4 132.7h0M387.3 132.9h0"/><path stroke="#a40044" d="M388.7 131.7h0"/></g></g>
<line x1="384.50" y1="295.08" x2="480.71" y2="219.53" stroke="#808080" stroke-width="0.75" opacity="0.55"/>
<line x1="384.50" y1="297.30" x2="524.10" y2="170.90" stroke="#d4d4d4" stroke-width="0.9" opacity="0.75"/>
<rect x="384.5" y="170.9" width="139.6" height="126.4" fill="none" stroke="#4c4c4c" stroke-width="1.05"/>
<rect x="389.4" y="175.8" width="47.0" height="30.2" fill="#fbecd6"/>
<text transform="translate(391.60,181.80) scale(1,0.91)" class="st"><tspan font-style="italic">R</tspan><tspan font-size="4.6" dy="-2.7">2</tspan><tspan dy="2.7"> = 0.91</tspan></text>
<text transform="translate(391.60,188.50) scale(1,0.91)" class="st"><tspan font-style="italic">BIAS</tspan> = 0.17</text>
<text transform="translate(391.60,195.20) scale(1,0.91)" class="st"><tspan font-style="italic">RMSE</tspan> = 0.78</text>
<text transform="translate(391.60,201.90) scale(1,0.91)" class="st"><tspan font-style="italic">KGE</tspan> = 0.89</text>
<text transform="translate(517.20,289.70) scale(1,0.91)" class="pl" text-anchor="end">(f)RF_Gs</text>
<text transform="translate(384.50,303.70) scale(1,0.91)" class="tk" text-anchor="middle">0</text>
<text transform="translate(382.90,299.60) scale(1,0.91)" class="tk" text-anchor="end">0</text>
<text transform="translate(407.77,303.70) scale(1,0.91)" class="tk" text-anchor="middle">2</text>
<text transform="translate(382.90,278.53) scale(1,0.91)" class="tk" text-anchor="end">2</text>
<text transform="translate(431.03,303.70) scale(1,0.91)" class="tk" text-anchor="middle">4</text>
<text transform="translate(382.90,257.47) scale(1,0.91)" class="tk" text-anchor="end">4</text>
<text transform="translate(454.30,303.70) scale(1,0.91)" class="tk" text-anchor="middle">6</text>
<text transform="translate(382.90,236.40) scale(1,0.91)" class="tk" text-anchor="end">6</text>
<text transform="translate(477.57,303.70) scale(1,0.91)" class="tk" text-anchor="middle">8</text>
<text transform="translate(382.90,215.33) scale(1,0.91)" class="tk" text-anchor="end">8</text>
<text transform="translate(500.83,303.70) scale(1,0.91)" class="tk" text-anchor="middle">10</text>
<text transform="translate(382.90,194.27) scale(1,0.91)" class="tk" text-anchor="end">10</text>
<text transform="translate(524.10,303.70) scale(1,0.91)" class="tk" text-anchor="middle">12</text>
<text transform="translate(382.90,173.20) scale(1,0.91)" class="tk" text-anchor="end">12</text>
<text transform="translate(454.30,311.90) scale(1,0.91)" class="al" text-anchor="middle">Ground-measured ET (mm/day)</text>
<text transform="translate(373.50,235.10) scale(1,0.91) rotate(-90)" class="al" text-anchor="middle">Predicted ET (mm/day)</text>
<path d="M528.65,171.20 L530.80,176.40 L530.80,290.80 L528.65,296.70 L526.50,290.80 L526.50,176.40 Z" fill="url(#cbg)"/>
<text transform="translate(533.10,186.40) scale(1,0.91)" class="cb">0.25</text>
<text transform="translate(533.10,208.18) scale(1,0.91)" class="cb">0.20</text>
<text transform="translate(533.10,229.95) scale(1,0.91)" class="cb">0.15</text>
<text transform="translate(533.10,251.72) scale(1,0.91)" class="cb">0.10</text>
<text transform="translate(533.10,273.50) scale(1,0.91)" class="cb">0.05</text>
<clipPath id="cp20"><rect x="21.8" y="334.5" width="139.6" height="126.4"/></clipPath>
<g clip-path="url(#cp20)"><g transform="translate(0,334.5) scale(1,0.91)" stroke-linecap="round" stroke-width="4.9" fill="none"><path stroke="#503da8" d="M107.4 117.3h0M91.3 135.0h0"/><path stroke="#4647ad" d="M38.9 58.8h0M27.9 80.1h0M30.5 89.4h0M27.9 90.4h0M98.1 82.9h0M101.5 79.2h0M98.1 88.5h0M87.9 95.0h0M82.9 104.9h0M99.8 102.4h0M104.9 98.7h0M104.0 100.6h0M93.9 110.8h0M76.1 121.0h0M77.8 119.2h0M81.2 123.8h0"/><path stroke="#3c52b1" d="M43.1 60.6h0M49.1 56.9h0M55.0 54.1h0M53.3 58.8h0M62.6 61.6h0M66.0 58.8h0M69.3 60.6h0M82.0 57.8h0M87.1 58.8h0M92.2 57.8h0M94.7 60.6h0M97.2 59.7h0M99.8 61.6h0M104.9 62.5h0M108.2 60.6h0M109.1 58.8h0M103.2 63.4h0M39.8 69.9h0M42.3 72.7h0M44.8 74.6h0M48.2 73.6h0M55.8 70.8h0M76.1 76.4h0M86.3 75.5h0M91.3 68.1h0M95.6 69.9h0M104.9 69.9h0M54.1 84.8h0M40.6 86.6h0M75.3 85.7h0M71.9 89.4h0M67.7 90.4h0M65.1 94.1h0M56.7 93.1h0M76.1 93.1h0M72.7 98.7h0M28.8 100.6h0M31.3 102.4h0M35.5 99.7h0M29.6 105.2h0M73.6 109.9h0M72.7 120.1h0M50.4 137.7h0"/><path stroke="#325cb6" d="M51.6 59.7h0M54.1 63.4h0M72.7 62.5h0M76.1 61.6h0M79.5 59.7h0M49.1 68.1h0M61.7 73.6h0M64.3 67.1h0M67.7 70.8h0M69.3 74.6h0M72.7 68.1h0M75.3 71.8h0M65.1 82.0h0M70.2 77.4h0M52.4 95.0h0M39.8 98.7h0M47.4 99.7h0M58.4 104.3h0M62.6 108.0h0M67.7 108.0h0M65.1 118.2h0M67.7 114.5h0"/><path stroke="#2867ba" d="M32.1 108.0h0M49.1 104.3h0M52.4 107.1h0M61.7 110.8h0M62.6 114.5h0M56.7 123.8h0"/><path stroke="#1e71bf" d="M34.7 108.9h0M56.7 114.5h0M47.3 134.8h0"/><path stroke="#147cc3" d="M44.8 107.1h0"/><path stroke="#1788c2" d="M41.4 108.9h0M49.4 129.5h0M45.4 134.0h0M50.1 127.7h0"/><path stroke="#2394be" d="M38.1 109.9h0M48.7 128.3h0"/><path stroke="#2ea1ba" d="M48.2 128.3h0"/><path stroke="#3aaeb6" d="M33.1 143.8h0"/><path stroke="#44b9b1" d="M43.9 131.9h0M47.8 125.6h0"/><path stroke="#55cba4" d="M45.4 127.9h0M46.1 125.6h0"/><path stroke="#62cfa2" d="M45.2 126.5h0M44.3 129.3h0M46.2 122.4h0"/><path stroke="#6fd4a1" d="M22.2 123.3h0"/><path stroke="#89dc9f" d="M18.2 128.7h0"/><path stroke="#96e19d" d="M43.4 126.8h0M42.7 128.8h0"/><path stroke="#a3e59c" d="M34.9 138.9h0M41.3 130.9h0M41.5 130.4h0"/><path stroke="#afe999" d="M18.6 129.2h0M31.1 141.9h0M37.7 135.5h0"/><path stroke="#dbf98b" d="M38.9 132.1h0M38.1 133.4h0"/><path stroke="#e6fd88" d="M20.4 128.4h0"/><path stroke="#f3ff96" d="M37.0 133.7h0"/><path stroke="#f6ff9d" d="M19.6 130.8h0"/><path stroke="#f9ffa3" d="M22.2 127.7h0"/><path stroke="#fcffaa" d="M23.8 126.1h0"/><path stroke="#fffeae" d="M24.6 125.6h0M21.4 129.2h0"/><path stroke="#ffdb71" d="M32.1 136.8h0M23.7 127.8h0M21.3 130.9h0M37.7 128.2h0"/><path stroke="#ffd269" d="M21.6 130.6h0M23.2 128.6h0"/><path stroke="#ffbf58" d="M21.5 131.3h0"/><path stroke="#ffb550" d="M28.5 139.2h0M22.0 131.0h0M22.3 130.5h0M36.4 129.2h0"/><path stroke="#ffa240" d="M29.0 138.4h0M27.5 125.7h0"/><path stroke="#ff9738" d="M26.6 126.7h0"/><path stroke="#ff8b33" d="M26.1 127.2h0M22.8 130.8h0M33.9 132.7h0M21.6 132.9h0M35.8 128.0h0M35.8 127.2h0"/><path stroke="#ff7f2e" d="M33.1 133.2h0M28.0 125.9h0M33.5 132.7h0M21.8 132.8h0"/><path stroke="#ff7328" d="M21.8 133.1h0M24.1 129.9h0M29.5 137.1h0M33.4 132.6h0M28.5 137.8h0"/><path stroke="#ff6723" d="M27.5 138.6h0M25.7 128.3h0M24.3 129.8h0M24.1 130.2h0M22.4 132.5h0M30.8 135.6h0"/><path stroke="#ff5b1d" d="M27.5 127.2h0M30.8 135.3h0M30.5 135.6h0M26.2 128.0h0"/><path stroke="#fe4e18" d="M23.8 130.9h0M28.0 137.7h0M23.6 131.4h0M22.6 132.7h0M26.0 128.7h0"/><path stroke="#f9461b" d="M26.9 138.1h0M31.9 133.5h0M27.0 127.9h0M33.2 131.3h0M22.6 133.1h0M30.3 135.4h0"/><path stroke="#f43e1f" d="M28.9 136.4h0M28.9 126.7h0M30.2 135.3h0M32.8 131.7h0M32.5 132.1h0M32.9 131.7h0M26.3 128.9h0M27.2 128.1h0M23.3 132.6h0M22.8 133.4h0M23.9 131.3h0M33.3 130.8h0M24.2 131.0h0"/><path stroke="#ef3523" d="M29.6 135.6h0M23.8 132.1h0M28.8 127.3h0M24.1 131.7h0M22.8 133.8h0M26.7 137.8h0M27.0 137.6h0"/><path stroke="#ea2d27" d="M30.1 134.7h0M32.6 131.3h0M25.2 130.5h0M26.5 137.6h0M28.8 136.2h0M29.6 127.1h0M32.4 131.4h0M23.5 132.9h0M32.7 130.9h0M26.4 137.6h0M27.8 136.7h0M28.4 136.4h0"/><path stroke="#e4252a" d="M26.1 137.4h0M30.0 134.5h0M27.2 128.8h0M27.3 137.0h0M23.8 132.9h0M27.0 137.2h0M27.4 128.5h0M29.4 135.3h0M26.5 137.4h0"/><path stroke="#df1c2e" d="M30.8 133.4h0M28.5 135.7h0M24.9 131.3h0M29.1 127.9h0M23.2 134.4h0M23.4 134.5h0M24.9 131.4h0M31.7 131.8h0M26.2 129.8h0M31.9 131.8h0"/><path stroke="#d8132f" d="M25.4 131.1h0M30.2 133.8h0M31.6 131.2h0M26.0 136.9h0M32.1 130.4h0M28.5 135.5h0M26.8 129.8h0M30.0 127.7h0M26.8 136.5h0M23.5 134.7h0M31.3 132.1h0M24.5 132.4h0M29.0 128.1h0"/><path stroke="#cf092f" d="M26.4 130.6h0M25.5 136.7h0M31.6 130.3h0M26.3 136.5h0M31.9 129.3h0M27.4 136.0h0M27.4 136.0h0M30.9 132.3h0M27.4 129.6h0M25.6 136.9h0M24.0 135.3h0M23.8 134.5h0M25.8 136.8h0M30.3 128.2h0M31.7 130.6h0M30.6 128.3h0"/><path stroke="#c6002f" d="M25.3 136.5h0M26.9 135.7h0M25.1 136.1h0M26.4 136.0h0M31.1 129.2h0M31.3 129.5h0M25.6 136.1h0M29.6 133.5h0M31.4 130.0h0M28.5 134.7h0M29.0 128.9h0M31.2 129.4h0M27.4 129.7h0M25.2 136.1h0M24.6 135.7h0"/><path stroke="#bd0036" d="M30.4 129.5h0M30.0 132.6h0M24.9 133.8h0M25.9 135.7h0M24.7 134.7h0M26.9 130.6h0M25.6 135.7h0M31.0 129.6h0M30.4 129.3h0M26.1 131.9h0M25.4 132.7h0M29.4 129.1h0M29.1 129.5h0M27.4 130.5h0M27.2 135.2h0M29.6 129.4h0M26.8 135.6h0M27.3 130.2h0M25.4 135.8h0M29.0 134.0h0M25.0 133.8h0M25.7 135.9h0M25.5 135.7h0"/><path stroke="#b4003c" d="M25.1 134.5h0M30.0 130.3h0M29.4 130.2h0M30.3 130.2h0M26.9 135.1h0M26.1 132.1h0M27.9 130.5h0M29.6 129.7h0M27.5 134.7h0M26.0 132.2h0M30.0 130.6h0M26.3 134.8h0M25.8 134.9h0M25.4 133.6h0M26.7 135.1h0M29.5 129.7h0M27.1 130.8h0"/><path stroke="#ab0041" d="M29.2 132.6h0M27.7 131.0h0M26.7 134.6h0M29.2 131.9h0M26.9 131.9h0M26.0 133.7h0M27.3 131.7h0M26.0 132.7h0M29.8 131.1h0M29.3 132.1h0M29.4 131.5h0M29.3 130.4h0M28.5 132.9h0M26.9 134.4h0M29.0 132.7h0M29.6 131.4h0M29.2 131.1h0"/><path stroke="#a40044" d="M26.6 133.2h0M27.2 133.7h0M27.8 132.3h0M27.4 133.0h0M27.1 132.7h0M28.2 133.1h0M27.0 132.3h0M27.5 132.7h0M27.3 133.7h0"/></g></g>
<line x1="21.80" y1="454.58" x2="109.08" y2="387.41" stroke="#808080" stroke-width="0.75" opacity="0.55"/>
<line x1="21.80" y1="460.90" x2="161.40" y2="334.50" stroke="#d4d4d4" stroke-width="0.9" opacity="0.75"/>
<rect x="21.8" y="334.5" width="139.6" height="126.4" fill="none" stroke="#4c4c4c" stroke-width="1.05"/>
<rect x="26.7" y="339.4" width="51.1" height="30.2" fill="#fbecd6"/>
<text transform="translate(28.90,345.40) scale(1,0.91)" class="st"><tspan font-style="italic">R</tspan><tspan font-size="4.6" dy="-2.7">2</tspan><tspan dy="2.7"> = 0.76</tspan></text>
<text transform="translate(28.90,352.10) scale(1,0.91)" class="st"><tspan font-style="italic">BIAS</tspan> = − 0.30</text>
<text transform="translate(28.90,358.80) scale(1,0.91)" class="st"><tspan font-style="italic">RMSE</tspan> = 1.50</text>
<text transform="translate(28.90,365.50) scale(1,0.91)" class="st"><tspan font-style="italic">KGE</tspan> = 0.67</text>
<text transform="translate(154.50,453.30) scale(1,0.91)" class="pl" text-anchor="end">(a)RF</text>
<text transform="translate(21.80,467.30) scale(1,0.91)" class="tk" text-anchor="middle">0</text>
<text transform="translate(20.20,463.20) scale(1,0.91)" class="tk" text-anchor="end">0</text>
<text transform="translate(45.07,467.30) scale(1,0.91)" class="tk" text-anchor="middle">2</text>
<text transform="translate(20.20,442.13) scale(1,0.91)" class="tk" text-anchor="end">2</text>
<text transform="translate(68.33,467.30) scale(1,0.91)" class="tk" text-anchor="middle">4</text>
<text transform="translate(20.20,421.07) scale(1,0.91)" class="tk" text-anchor="end">4</text>
<text transform="translate(91.60,467.30) scale(1,0.91)" class="tk" text-anchor="middle">6</text>
<text transform="translate(20.20,400.00) scale(1,0.91)" class="tk" text-anchor="end">6</text>
<text transform="translate(114.87,467.30) scale(1,0.91)" class="tk" text-anchor="middle">8</text>
<text transform="translate(20.20,378.93) scale(1,0.91)" class="tk" text-anchor="end">8</text>
<text transform="translate(138.13,467.30) scale(1,0.91)" class="tk" text-anchor="middle">10</text>
<text transform="translate(20.20,357.87) scale(1,0.91)" class="tk" text-anchor="end">10</text>
<text transform="translate(161.40,467.30) scale(1,0.91)" class="tk" text-anchor="middle">12</text>
<text transform="translate(20.20,336.80) scale(1,0.91)" class="tk" text-anchor="end">12</text>
<text transform="translate(91.60,475.50) scale(1,0.91)" class="al" text-anchor="middle">Ground-measured ET (mm/day)</text>
<text transform="translate(10.80,398.70) scale(1,0.91) rotate(-90)" class="al" text-anchor="middle">Predicted ET (mm/day)</text>
<path d="M165.95,334.80 L168.10,340.00 L168.10,454.40 L165.95,460.30 L163.80,454.40 L163.80,340.00 Z" fill="url(#cbg)"/>
<text transform="translate(170.40,354.90) scale(1,0.91)" class="cb">0.18</text>
<text transform="translate(170.40,369.67) scale(1,0.91)" class="cb">0.15</text>
<text transform="translate(170.40,384.43) scale(1,0.91)" class="cb">0.12</text>
<text transform="translate(170.40,399.20) scale(1,0.91)" class="cb">0.10</text>
<text transform="translate(170.40,413.97) scale(1,0.91)" class="cb">0.08</text>
<text transform="translate(170.40,428.73) scale(1,0.91)" class="cb">0.05</text>
<text transform="translate(170.40,443.50) scale(1,0.91)" class="cb">0.03</text>
<clipPath id="cp21"><rect x="203.2" y="334.5" width="139.6" height="126.4"/></clipPath>
<g clip-path="url(#cp21)"><g transform="translate(0,334.5) scale(1,0.91)" stroke-linecap="round" stroke-width="4.9" fill="none"><path stroke="#503da8" d="M289.2 125.7h0"/><path stroke="#4647ad" d="M219.9 57.8h0M290.1 59.7h0M289.2 69.0h0M209.3 82.0h0M217.4 95.0h0M285.0 92.2h0M285.9 96.9h0M280.8 103.4h0M260.5 130.3h0M263.0 131.2h0M272.3 130.3h0"/><path stroke="#3c52b1" d="M225.0 58.4h0M230.1 54.1h0M236.0 53.2h0M243.6 58.8h0M247.8 56.9h0M269.8 53.2h0M274.0 50.4h0M268.1 61.6h0M273.2 63.4h0M276.6 60.6h0M277.4 64.3h0M280.8 61.6h0M275.7 69.0h0M285.9 65.3h0M261.3 70.8h0M267.3 74.6h0M256.3 74.6h0M222.4 73.6h0M223.3 81.1h0M221.6 85.7h0M235.1 77.4h0M237.7 84.8h0M237.7 88.5h0M226.7 93.1h0M272.3 79.2h0M277.4 80.1h0M280.8 81.1h0M285.9 82.0h0M277.4 83.9h0M279.9 88.5h0M213.1 106.2h0M268.9 105.2h0M275.7 106.2h0M264.7 112.7h0M255.4 111.7h0M247.8 125.7h0M253.7 121.0h0M257.1 121.9h0M253.7 125.7h0"/><path stroke="#325cb6" d="M232.6 58.8h0M235.1 61.6h0M234.3 65.3h0M230.1 64.3h0M228.4 68.1h0M225.8 67.1h0M236.0 69.9h0M248.7 60.6h0M244.4 64.3h0M246.1 72.7h0M242.7 74.6h0M258.8 57.8h0M263.0 56.9h0M261.3 61.6h0M252.9 90.4h0M256.3 86.6h0M257.1 84.8h0M249.5 95.0h0M230.1 99.7h0M233.4 100.6h0M254.6 99.7h0M233.4 134.6h0"/><path stroke="#2867ba" d="M250.3 65.3h0M253.7 64.3h0M256.3 62.5h0M257.1 66.2h0M252.0 68.1h0M248.7 70.8h0M247.8 95.9h0M245.3 97.8h0M210.6 111.7h0M221.6 105.2h0M237.7 105.2h0M240.2 104.3h0M242.7 103.4h0M247.0 107.1h0M249.5 105.2h0M248.7 110.8h0M244.4 118.2h0"/><path stroke="#1e71bf" d="M228.4 105.2h0M244.4 106.2h0M243.6 108.9h0M244.4 112.7h0M242.7 115.4h0"/><path stroke="#147cc3" d="M237.7 123.4h0M230.4 132.9h0"/><path stroke="#2394be" d="M216.5 110.8h0M232.2 127.8h0M228.6 132.7h0"/><path stroke="#2ea1ba" d="M225.0 109.9h0M231.5 126.9h0M232.7 126.1h0"/><path stroke="#3aaeb6" d="M231.0 127.0h0"/><path stroke="#44b9b1" d="M227.1 131.2h0M230.5 124.8h0"/><path stroke="#4cc3aa" d="M213.8 144.4h0"/><path stroke="#55cba4" d="M221.6 112.7h0M228.4 127.4h0M227.4 128.9h0M228.9 125.2h0"/><path stroke="#62cfa2" d="M228.1 126.3h0M228.9 122.4h0"/><path stroke="#7cd8a0" d="M200.2 128.2h0M224.6 131.0h0M225.8 128.8h0"/><path stroke="#89dc9f" d="M205.0 122.8h0M224.7 130.6h0M226.4 127.0h0"/><path stroke="#96e19d" d="M221.7 133.9h0"/><path stroke="#a3e59c" d="M216.4 139.5h0M200.5 128.8h0M219.7 136.0h0M222.4 132.7h0"/><path stroke="#afe999" d="M220.7 134.5h0"/><path stroke="#c5f192" d="M225.0 120.1h0"/><path stroke="#d0f58e" d="M212.0 142.4h0"/><path stroke="#e6fd88" d="M202.5 128.0h0"/><path stroke="#f0ff90" d="M223.3 123.8h0"/><path stroke="#f3ff96" d="M201.4 130.4h0"/><path stroke="#f9ffa3" d="M221.1 129.5h0"/><path stroke="#fcffaa" d="M204.5 127.3h0"/><path stroke="#fffeae" d="M206.3 125.8h0M203.4 128.9h0M219.9 130.7h0"/><path stroke="#fff29a" d="M207.3 125.3h0"/><path stroke="#ffe785" d="M219.4 129.8h0"/><path stroke="#ffdb71" d="M203.5 130.4h0M203.1 130.7h0M219.3 129.1h0"/><path stroke="#ffd269" d="M213.6 137.1h0M206.1 127.5h0M205.4 128.4h0"/><path stroke="#ffc860" d="M203.3 131.1h0"/><path stroke="#ffbf58" d="M204.2 130.2h0"/><path stroke="#ffb550" d="M203.8 130.8h0"/><path stroke="#ffa240" d="M209.6 139.5h0M216.0 132.9h0"/><path stroke="#ff9738" d="M204.7 130.6h0M203.2 132.7h0M203.4 132.6h0"/><path stroke="#ff8b33" d="M203.4 133.0h0M215.2 133.5h0M210.2 138.7h0M215.6 132.9h0M210.3 125.5h0"/><path stroke="#ff7f2e" d="M208.6 127.0h0M215.5 132.8h0M209.2 126.5h0"/><path stroke="#ff7328" d="M204.1 132.3h0"/><path stroke="#ff6723" d="M206.2 129.7h0M210.7 125.7h0M206.4 129.6h0M210.9 137.3h0M212.5 135.8h0"/><path stroke="#ff5b1d" d="M208.6 138.8h0M212.5 135.6h0M208.1 128.1h0M215.5 131.5h0M204.2 133.0h0M209.8 138.1h0M204.3 132.6h0M206.2 130.0h0"/><path stroke="#fe4e18" d="M205.8 130.8h0M215.1 131.9h0M213.9 133.7h0M215.2 131.9h0M212.2 135.8h0M205.5 131.2h0M208.6 127.8h0M215.7 130.9h0"/><path stroke="#f9461b" d="M210.1 127.0h0M209.3 138.0h0M214.7 132.3h0M205.0 132.4h0M204.3 133.3h0M205.8 131.2h0M212.0 135.7h0M208.3 128.5h0"/><path stroke="#f43e1f" d="M208.1 138.3h0M214.8 131.4h0M211.9 135.5h0M209.4 127.7h0M204.3 133.7h0M215.0 131.1h0M206.1 130.8h0"/><path stroke="#ef3523" d="M210.4 136.6h0M211.6 126.6h0M205.6 132.0h0M205.9 131.5h0M214.7 131.5h0M205.2 132.8h0M208.6 128.7h0M209.6 127.9h0"/><path stroke="#ea2d27" d="M211.9 134.9h0M211.2 135.8h0M207.2 130.3h0M210.3 136.4h0M204.7 134.4h0M205.5 132.8h0M208.0 138.0h0M208.3 137.8h0M214.1 132.0h0"/><path stroke="#e4252a" d="M212.7 133.6h0M207.7 137.7h0M214.5 130.5h0M212.3 127.0h0M211.5 127.2h0M204.9 134.4h0M208.7 137.2h0M207.6 137.8h0M209.2 136.9h0M213.9 132.0h0M208.3 137.4h0M211.0 135.5h0M209.9 136.5h0"/><path stroke="#df1c2e" d="M207.4 137.5h0M214.4 129.4h0M213.9 131.3h0M211.8 134.6h0M209.6 128.7h0M206.9 131.2h0M205.0 134.6h0M205.3 134.4h0M213.4 132.2h0M206.8 131.3h0M209.8 128.4h0M206.3 132.3h0M208.4 129.7h0M207.7 137.6h0"/><path stroke="#d8132f" d="M207.4 131.0h0M213.9 130.4h0M212.0 134.0h0M213.0 132.4h0M207.3 137.1h0M210.0 135.9h0M210.1 135.6h0M211.7 127.8h0M212.6 127.7h0M205.4 135.2h0M214.0 130.7h0M211.5 128.0h0"/><path stroke="#cf092f" d="M206.8 136.8h0M206.6 136.5h0M207.6 136.6h0M208.9 136.1h0M208.9 136.1h0M209.1 129.7h0M213.6 129.2h0M206.9 137.0h0M213.7 129.6h0M208.1 136.6h0M207.1 136.9h0M213.8 130.0h0M212.9 128.2h0M213.6 129.4h0M213.1 128.3h0"/><path stroke="#c6002f" d="M208.5 130.5h0M206.5 133.7h0M206.5 136.1h0M207.8 136.1h0M206.2 134.7h0M213.4 129.6h0M209.7 129.5h0M212.9 129.3h0M207.0 136.2h0M211.4 133.6h0M210.2 134.9h0M211.5 128.8h0M209.7 129.6h0M206.6 136.2h0M206.0 135.7h0"/><path stroke="#bd0036" d="M206.7 134.5h0M212.8 129.6h0M212.0 132.7h0M208.4 135.8h0M207.4 135.8h0M212.6 130.2h0M209.1 130.5h0M207.0 135.7h0M207.1 132.7h0M211.8 129.0h0M212.0 129.4h0M208.3 135.7h0M209.5 130.1h0M206.8 135.8h0M210.8 134.2h0M206.6 133.7h0M207.1 135.9h0M206.9 135.8h0"/><path stroke="#b4003c" d="M212.3 130.3h0M211.2 132.7h0M211.7 130.2h0M208.4 135.2h0M208.0 132.0h0M210.0 130.5h0M211.9 129.7h0M207.9 132.7h0M212.0 131.2h0M208.0 131.8h0M209.1 134.8h0M207.9 132.2h0M212.3 130.6h0M207.9 134.9h0M207.3 135.0h0M211.4 129.5h0M207.1 133.6h0M209.6 130.4h0M208.7 135.3h0M208.2 135.2h0M211.8 129.7h0M209.2 130.7h0"/><path stroke="#ab0041" d="M209.8 131.0h0M208.3 134.7h0M211.2 132.0h0M208.4 133.2h0M208.9 131.8h0M207.7 133.7h0M209.3 131.7h0M211.3 132.1h0M211.5 131.6h0M211.5 130.4h0M210.4 133.0h0M208.5 134.5h0M211.0 132.8h0M211.7 131.5h0M211.3 131.2h0"/><path stroke="#a40044" d="M209.0 133.7h0M209.7 132.4h0M209.3 133.0h0M209.0 132.7h0M210.0 133.2h0M208.9 132.3h0M209.4 132.7h0M209.0 133.7h0"/></g></g>
<line x1="203.20" y1="454.58" x2="290.08" y2="387.71" stroke="#808080" stroke-width="0.75" opacity="0.55"/>
<line x1="203.20" y1="460.90" x2="342.80" y2="334.50" stroke="#d4d4d4" stroke-width="0.9" opacity="0.75"/>
<rect x="203.2" y="334.5" width="139.6" height="126.4" fill="none" stroke="#4c4c4c" stroke-width="1.05"/>
<rect x="208.1" y="339.4" width="51.1" height="30.2" fill="#fbecd6"/>
<text transform="translate(210.30,345.40) scale(1,0.91)" class="st"><tspan font-style="italic">R</tspan><tspan font-size="4.6" dy="-2.7">2</tspan><tspan dy="2.7"> = 0.76</tspan></text>
<text transform="translate(210.30,352.10) scale(1,0.91)" class="st"><tspan font-style="italic">BIAS</tspan> = − 0.17</text>
<text transform="translate(210.30,358.80) scale(1,0.91)" class="st"><tspan font-style="italic">RMSE</tspan> = 1.51</text>
<text transform="translate(210.30,365.50) scale(1,0.91)" class="st"><tspan font-style="italic">KGE</tspan> = 0.69</text>
<text transform="translate(335.90,453.30) scale(1,0.91)" class="pl" text-anchor="end">(b)XGBoost</text>
<text transform="translate(203.20,467.30) scale(1,0.91)" class="tk" text-anchor="middle">0</text>
<text transform="translate(201.60,463.20) scale(1,0.91)" class="tk" text-anchor="end">0</text>
<text transform="translate(226.47,467.30) scale(1,0.91)" class="tk" text-anchor="middle">2</text>
<text transform="translate(201.60,442.13) scale(1,0.91)" class="tk" text-anchor="end">2</text>
<text transform="translate(249.73,467.30) scale(1,0.91)" class="tk" text-anchor="middle">4</text>
<text transform="translate(201.60,421.07) scale(1,0.91)" class="tk" text-anchor="end">4</text>
<text transform="translate(273.00,467.30) scale(1,0.91)" class="tk" text-anchor="middle">6</text>
<text transform="translate(201.60,400.00) scale(1,0.91)" class="tk" text-anchor="end">6</text>
<text transform="translate(296.27,467.30) scale(1,0.91)" class="tk" text-anchor="middle">8</text>
<text transform="translate(201.60,378.93) scale(1,0.91)" class="tk" text-anchor="end">8</text>
<text transform="translate(319.53,467.30) scale(1,0.91)" class="tk" text-anchor="middle">10</text>
<text transform="translate(201.60,357.87) scale(1,0.91)" class="tk" text-anchor="end">10</text>
<text transform="translate(342.80,467.30) scale(1,0.91)" class="tk" text-anchor="middle">12</text>
<text transform="translate(201.60,336.80) scale(1,0.91)" class="tk" text-anchor="end">12</text>
<text transform="translate(273.00,475.50) scale(1,0.91)" class="al" text-anchor="middle">Ground-measured ET (mm/day)</text>
<text transform="translate(192.20,398.70) scale(1,0.91) rotate(-90)" class="al" text-anchor="middle">Predicted ET (mm/day)</text>
<path d="M347.35,334.80 L349.50,340.00 L349.50,454.40 L347.35,460.30 L345.20,454.40 L345.20,340.00 Z" fill="url(#cbg)"/>
<text transform="translate(351.80,351.00) scale(1,0.91)" class="cb">0.18</text>
<text transform="translate(351.80,366.35) scale(1,0.91)" class="cb">0.15</text>
<text transform="translate(351.80,381.70) scale(1,0.91)" class="cb">0.12</text>
<text transform="translate(351.80,397.05) scale(1,0.91)" class="cb">0.10</text>
<text transform="translate(351.80,412.40) scale(1,0.91)" class="cb">0.08</text>
<text transform="translate(351.80,427.75) scale(1,0.91)" class="cb">0.05</text>
<text transform="translate(351.80,443.10) scale(1,0.91)" class="cb">0.03</text>
<clipPath id="cp22"><rect x="384.5" y="334.5" width="139.6" height="126.4"/></clipPath>
<g clip-path="url(#cp22)"><g transform="translate(0,334.5) scale(1,0.91)" stroke-linecap="round" stroke-width="4.9" fill="none"><path stroke="#503da8" d="M470.2 121.0h0M454.2 135.9h0"/><path stroke="#4647ad" d="M401.8 53.2h0M411.9 52.3h0M471.1 51.3h0M467.7 75.5h0M394.1 85.7h0M390.8 95.0h0M450.8 92.2h0M460.9 88.5h0M467.7 95.9h0M445.7 106.2h0M456.7 106.2h0M461.8 101.5h0M466.9 107.1h0M441.5 124.7h0M444.0 131.2h0"/><path stroke="#3c52b1" d="M406.0 59.7h0M410.2 60.6h0M412.7 57.8h0M415.3 58.8h0M424.6 58.8h0M428.8 56.0h0M442.3 58.8h0M444.9 57.8h0M449.9 62.5h0M453.3 60.6h0M455.9 59.7h0M458.4 60.6h0M466.9 65.3h0M471.1 61.6h0M459.2 74.6h0M463.5 76.4h0M406.0 70.8h0M404.3 75.5h0M403.4 83.9h0M431.3 72.7h0M433.0 77.4h0M438.1 78.3h0M449.1 79.2h0M433.9 83.9h0M437.3 85.7h0M439.0 90.4h0M402.6 91.3h0M402.6 94.1h0M411.9 92.2h0M415.3 94.1h0M435.6 98.7h0M390.8 106.2h0M436.4 110.8h0M428.8 124.7h0M435.6 120.1h0M438.1 121.9h0M434.7 124.7h0M414.4 137.5h0"/><path stroke="#325cb6" d="M417.0 61.6h0M416.1 64.3h0M417.8 67.1h0M418.7 69.9h0M431.3 62.5h0M433.9 60.6h0M436.4 59.7h0M439.8 60.6h0M438.1 64.3h0M462.6 63.4h0M457.6 66.2h0M458.4 69.0h0M455.0 71.8h0M451.6 72.7h0M410.2 78.3h0M407.7 82.9h0M417.0 76.4h0M426.3 69.0h0M406.8 89.4h0M406.0 100.6h0M419.5 99.7h0M422.9 98.7h0M425.4 96.9h0M428.8 95.0h0M426.3 101.5h0M429.7 103.4h0M425.4 106.2h0M425.4 114.5h0M425.4 119.2h0"/><path stroke="#2867ba" d="M410.2 105.2h0M394.1 108.0h0M418.7 128.5h0"/><path stroke="#1e71bf" d="M411.1 107.1h0M395.8 108.9h0M419.5 114.5h0M411.1 134.9h0"/><path stroke="#147cc3" d="M415.3 115.4h0"/><path stroke="#1788c2" d="M412.6 129.5h0M409.2 134.3h0M413.1 127.6h0"/><path stroke="#2394be" d="M398.4 110.8h0M404.3 109.9h0M411.8 128.3h0"/><path stroke="#2ea1ba" d="M411.3 128.4h0"/><path stroke="#3aaeb6" d="M391.6 115.4h0M407.5 132.3h0"/><path stroke="#44b9b1" d="M395.8 143.8h0M410.6 125.8h0"/><path stroke="#4cc3aa" d="M408.5 128.3h0"/><path stroke="#55cba4" d="M407.6 129.7h0M408.9 125.9h0"/><path stroke="#62cfa2" d="M408.2 126.9h0"/><path stroke="#6fd4a1" d="M408.7 122.7h0"/><path stroke="#7cd8a0" d="M384.9 123.3h0M404.9 131.6h0M405.9 129.4h0"/><path stroke="#89dc9f" d="M404.9 131.1h0M406.5 127.4h0"/><path stroke="#96e19d" d="M380.9 128.7h0"/><path stroke="#a3e59c" d="M402.6 133.0h0M402.0 134.3h0"/><path stroke="#afe999" d="M397.6 138.9h0M400.4 135.5h0"/><path stroke="#baed95" d="M381.3 129.2h0M393.8 141.9h0M400.9 134.7h0"/><path stroke="#edff89" d="M383.1 128.4h0"/><path stroke="#f9ffa3" d="M382.3 130.8h0"/><path stroke="#fcffaa" d="M384.9 127.7h0"/><path stroke="#fffeae" d="M386.5 126.1h0"/><path stroke="#fff8a4" d="M387.3 125.6h0M384.1 129.2h0M401.0 129.2h0"/><path stroke="#ffe785" d="M399.8 130.3h0"/><path stroke="#ffdb71" d="M386.4 127.8h0"/><path stroke="#ffd269" d="M394.8 136.8h0M385.9 128.6h0M384.0 130.9h0"/><path stroke="#ffc860" d="M384.3 130.6h0"/><path stroke="#ffbf58" d="M384.2 131.3h0"/><path stroke="#ffb550" d="M385.0 130.5h0M399.1 129.2h0"/><path stroke="#ffab48" d="M391.2 139.2h0M384.7 131.0h0M399.1 128.4h0"/><path stroke="#ff9738" d="M391.7 138.4h0M390.2 125.7h0"/><path stroke="#ff8b33" d="M388.8 127.2h0M385.5 130.8h0M396.6 132.7h0M389.3 126.7h0"/><path stroke="#ff7f2e" d="M395.8 133.2h0M390.7 125.9h0M396.2 132.7h0M384.3 132.9h0M384.5 132.8h0"/><path stroke="#ff7328" d="M392.2 137.1h0M396.1 132.6h0"/><path stroke="#ff6723" d="M384.5 133.1h0M386.8 129.9h0M390.2 138.6h0M388.4 128.3h0M387.0 129.8h0M391.2 137.8h0M393.5 135.6h0"/><path stroke="#ff5b1d" d="M393.5 135.3h0M388.9 128.0h0M386.8 130.2h0M385.1 132.5h0"/><path stroke="#fe4e18" d="M390.2 127.2h0M386.5 130.9h0M390.7 137.7h0M393.2 135.6h0M385.3 132.7h0"/><path stroke="#f9461b" d="M394.6 133.5h0M389.7 127.9h0M395.6 131.7h0M395.9 131.3h0M385.3 133.1h0M386.3 131.4h0M393.0 135.4h0M388.7 128.7h0"/><path stroke="#f43e1f" d="M391.6 136.4h0M389.6 138.1h0M391.6 126.7h0M392.9 135.3h0M395.5 131.7h0M395.2 132.1h0M385.5 133.4h0M386.6 131.3h0M396.0 130.8h0M386.9 131.0h0"/><path stroke="#ef3523" d="M392.3 135.6h0M389.0 128.9h0M385.5 133.8h0M389.9 128.1h0M386.0 132.6h0M389.4 137.8h0M389.7 137.6h0"/><path stroke="#ea2d27" d="M392.8 134.7h0M395.3 131.3h0M386.5 132.1h0M387.9 130.5h0M389.2 137.6h0M391.5 136.2h0M392.3 127.1h0M391.5 127.3h0M386.8 131.7h0M395.1 131.4h0M395.4 130.9h0M389.1 137.6h0M390.5 136.7h0M391.1 136.4h0"/><path stroke="#e4252a" d="M386.2 132.9h0M390.0 137.0h0M389.7 137.2h0M390.1 128.5h0M392.1 135.3h0M389.2 137.4h0M394.6 131.8h0"/><path stroke="#df1c2e" d="M388.8 137.4h0M393.5 133.4h0M392.7 134.5h0M389.9 128.8h0M391.2 135.7h0M387.6 131.3h0M391.8 127.9h0M385.9 134.4h0M386.5 132.9h0M387.6 131.4h0M394.4 131.8h0M388.9 129.8h0"/><path stroke="#d8132f" d="M388.1 131.1h0M392.9 133.8h0M394.3 131.2h0M388.7 136.9h0M394.8 130.4h0M391.2 135.5h0M392.7 127.7h0M386.2 134.7h0M386.1 134.5h0M394.0 132.1h0M387.2 132.4h0M391.7 128.1h0"/><path stroke="#cf092f" d="M388.2 136.7h0M394.3 130.3h0M389.0 136.5h0M394.6 129.3h0M390.1 136.0h0M390.1 136.0h0M393.6 132.3h0M390.1 129.6h0M389.5 129.8h0M388.3 136.9h0M389.5 136.5h0M386.5 134.5h0M388.5 136.8h0M393.0 128.2h0M394.4 130.6h0M393.3 128.3h0"/><path stroke="#c6002f" d="M389.1 130.6h0M388.0 136.5h0M389.6 135.7h0M387.8 136.1h0M389.1 136.0h0M393.7 129.6h0M393.8 129.2h0M394.0 129.5h0M388.3 136.1h0M386.7 135.3h0M392.3 133.5h0M394.1 130.0h0M391.2 134.7h0M391.7 128.9h0M393.9 129.4h0M390.1 129.7h0M387.9 136.1h0M387.3 135.7h0"/><path stroke="#bd0036" d="M393.1 129.5h0M392.7 132.6h0M387.6 133.8h0M388.6 135.7h0M387.4 134.7h0M389.6 130.6h0M388.3 135.7h0M393.1 129.3h0M388.1 132.7h0M392.1 129.1h0M391.8 129.5h0M389.9 135.2h0M392.3 129.4h0M389.5 135.6h0M390.0 130.2h0M388.1 135.8h0M391.7 134.0h0M387.7 133.8h0M388.4 135.9h0M388.2 135.7h0"/><path stroke="#b4003c" d="M387.8 134.5h0M392.7 130.3h0M392.1 130.2h0M393.0 130.2h0M389.6 135.1h0M388.8 132.1h0M390.6 130.5h0M392.3 129.7h0M388.8 131.9h0M390.2 134.7h0M388.7 132.2h0M392.7 130.6h0M388.5 134.9h0M388.1 133.6h0M390.1 130.5h0M389.4 135.1h0M392.2 129.7h0M389.8 130.8h0"/><path stroke="#ab0041" d="M391.9 132.6h0M390.4 131.0h0M389.4 134.6h0M391.9 131.9h0M389.6 131.9h0M388.7 133.7h0M390.0 131.7h0M388.7 132.7h0M392.5 131.1h0M392.0 132.1h0M392.1 131.5h0M389.0 134.8h0M392.0 130.4h0M391.2 132.9h0M389.6 134.4h0M391.7 132.7h0M392.3 131.4h0M391.9 131.1h0"/><path stroke="#a40044" d="M389.3 133.2h0M389.9 133.7h0M390.5 132.3h0M390.1 133.0h0M389.8 132.7h0M390.9 133.1h0M389.7 132.3h0M390.2 132.7h0M390.0 133.7h0"/></g></g>
<line x1="384.50" y1="454.58" x2="471.08" y2="387.94" stroke="#808080" stroke-width="0.75" opacity="0.55"/>
<line x1="384.50" y1="460.90" x2="524.10" y2="334.50" stroke="#d4d4d4" stroke-width="0.9" opacity="0.75"/>
<rect x="384.5" y="334.5" width="139.6" height="126.4" fill="none" stroke="#4c4c4c" stroke-width="1.05"/>
<rect x="389.4" y="339.4" width="51.1" height="30.2" fill="#fbecd6"/>
<text transform="translate(391.60,345.40) scale(1,0.91)" class="st"><tspan font-style="italic">R</tspan><tspan font-size="4.6" dy="-2.7">2</tspan><tspan dy="2.7"> = 0.76</tspan></text>
<text transform="translate(391.60,352.10) scale(1,0.91)" class="st"><tspan font-style="italic">BIAS</tspan> = − 0.26</text>
<text transform="translate(391.60,358.80) scale(1,0.91)" class="st"><tspan font-style="italic">RMSE</tspan> = 1.49</text>
<text transform="translate(391.60,365.50) scale(1,0.91)" class="st"><tspan font-style="italic">KGE</tspan> = 0.68</text>
<text transform="translate(517.20,453.30) scale(1,0.91)" class="pl" text-anchor="end">(c)KNN</text>
<text transform="translate(384.50,467.30) scale(1,0.91)" class="tk" text-anchor="middle">0</text>
<text transform="translate(382.90,463.20) scale(1,0.91)" class="tk" text-anchor="end">0</text>
<text transform="translate(407.77,467.30) scale(1,0.91)" class="tk" text-anchor="middle">2</text>
<text transform="translate(382.90,442.13) scale(1,0.91)" class="tk" text-anchor="end">2</text>
<text transform="translate(431.03,467.30) scale(1,0.91)" class="tk" text-anchor="middle">4</text>
<text transform="translate(382.90,421.07) scale(1,0.91)" class="tk" text-anchor="end">4</text>
<text transform="translate(454.30,467.30) scale(1,0.91)" class="tk" text-anchor="middle">6</text>
<text transform="translate(382.90,400.00) scale(1,0.91)" class="tk" text-anchor="end">6</text>
<text transform="translate(477.57,467.30) scale(1,0.91)" class="tk" text-anchor="middle">8</text>
<text transform="translate(382.90,378.93) scale(1,0.91)" class="tk" text-anchor="end">8</text>
<text transform="translate(500.83,467.30) scale(1,0.91)" class="tk" text-anchor="middle">10</text>
<text transform="translate(382.90,357.87) scale(1,0.91)" class="tk" text-anchor="end">10</text>
<text transform="translate(524.10,467.30) scale(1,0.91)" class="tk" text-anchor="middle">12</text>
<text transform="translate(382.90,336.80) scale(1,0.91)" class="tk" text-anchor="end">12</text>
<text transform="translate(454.30,475.50) scale(1,0.91)" class="al" text-anchor="middle">Ground-measured ET (mm/day)</text>
<text transform="translate(373.50,398.70) scale(1,0.91) rotate(-90)" class="al" text-anchor="middle">Predicted ET (mm/day)</text>
<path d="M528.65,334.80 L530.80,340.00 L530.80,454.40 L528.65,460.30 L526.50,454.40 L526.50,340.00 Z" fill="url(#cbg)"/>
<text transform="translate(533.10,352.90) scale(1,0.91)" class="cb">0.18</text>
<text transform="translate(533.10,368.00) scale(1,0.91)" class="cb">0.15</text>
<text transform="translate(533.10,383.10) scale(1,0.91)" class="cb">0.12</text>
<text transform="translate(533.10,398.20) scale(1,0.91)" class="cb">0.10</text>
<text transform="translate(533.10,413.30) scale(1,0.91)" class="cb">0.08</text>
<text transform="translate(533.10,428.40) scale(1,0.91)" class="cb">0.05</text>
<text transform="translate(533.10,443.50) scale(1,0.91)" class="cb">0.03</text>
<clipPath id="cp30"><rect x="21.8" y="482.4" width="139.6" height="126.4"/></clipPath>
<g clip-path="url(#cp30)"><g transform="translate(0,482.4) scale(1,0.91)" stroke-linecap="round" stroke-width="4.9" fill="none"><path stroke="#503da8" d="M93.0 126.7h0"/><path stroke="#4647ad" d="M49.9 46.8h0M54.1 43.1h0M82.9 38.4h0M91.3 42.2h0M80.3 46.8h0M67.7 52.4h0M108.2 55.2h0M104.9 60.7h0M49.1 58.0h0M43.1 61.7h0M40.6 70.0h0M28.8 89.5h0M93.9 85.8h0M101.5 95.1h0M98.1 100.7h0M87.1 102.5h0M82.9 106.3h0M75.3 106.3h0M81.2 123.9h0M62.6 132.3h0M65.1 135.1h0M55.8 136.0h0"/><path stroke="#3c52b1" d="M99.8 40.3h0M104.0 37.5h0M106.5 39.4h0M104.9 42.2h0M72.7 53.3h0M87.1 51.4h0M93.9 58.9h0M54.1 60.7h0M55.8 63.5h0M53.3 66.3h0M49.9 68.2h0M47.4 70.0h0M52.4 73.7h0M66.0 65.4h0M91.3 71.0h0M94.7 71.9h0M98.9 70.0h0M93.9 76.5h0M54.1 79.3h0M28.8 93.3h0M81.2 87.7h0M78.6 93.3h0M75.3 98.8h0M57.5 108.1h0M60.9 110.9h0M47.4 136.0h0"/><path stroke="#325cb6" d="M96.4 49.6h0M94.7 53.3h0M91.3 56.1h0M86.3 57.0h0M88.8 59.8h0M80.3 58.0h0M69.3 67.2h0M72.7 66.3h0M76.1 79.3h0M64.3 77.5h0M62.6 80.2h0M81.2 77.5h0M44.0 81.2h0M48.2 83.0h0M55.8 83.0h0M39.8 84.9h0M61.7 90.5h0M63.4 87.7h0M69.3 86.8h0M72.7 89.5h0M76.1 87.7h0M77.8 83.0h0M48.1 132.8h0"/><path stroke="#2867ba" d="M75.3 68.2h0M70.2 71.0h0M72.7 73.7h0M76.1 71.9h0M77.8 74.7h0M71.0 76.5h0M73.6 79.3h0M39.8 89.5h0M33.8 96.0h0M30.5 99.8h0M52.4 97.0h0M66.0 85.8h0M55.0 106.3h0M42.3 136.9h0M40.9 138.2h0"/><path stroke="#1e71bf" d="M49.1 94.2h0M49.1 97.9h0M22.5 112.3h0M43.2 134.1h0M41.9 135.0h0"/><path stroke="#147cc3" d="M45.7 96.0h0M27.9 106.3h0M40.2 134.5h0M42.1 132.1h0M42.0 132.0h0M41.4 134.0h0"/><path stroke="#1788c2" d="M42.3 98.8h0M31.6 103.7h0M31.6 103.8h0M28.9 105.7h0M42.9 129.6h0"/><path stroke="#2394be" d="M38.9 99.8h0M44.0 101.6h0M28.6 108.7h0M30.1 105.8h0"/><path stroke="#2ea1ba" d="M32.1 106.3h0M48.2 115.6h0M28.4 110.8h0M27.0 113.1h0"/><path stroke="#3aaeb6" d="M29.6 110.9h0M45.7 121.1h0M35.7 105.5h0M35.1 105.8h0M40.2 130.8h0"/><path stroke="#44b9b1" d="M36.4 107.2h0M30.6 110.3h0M31.5 109.5h0M30.1 111.9h0M36.3 107.3h0M34.4 107.4h0M32.2 109.2h0"/><path stroke="#55cba4" d="M35.0 109.5h0M33.1 110.6h0"/><path stroke="#62cfa2" d="M44.8 110.0h0M41.1 127.1h0"/><path stroke="#6fd4a1" d="M32.1 112.8h0M39.8 109.1h0M28.1 142.6h0"/><path stroke="#89dc9f" d="M30.8 115.3h0"/><path stroke="#96e19d" d="M42.3 110.9h0"/><path stroke="#afe999" d="M17.5 131.8h0"/><path stroke="#c5f192" d="M32.7 135.9h0M17.8 132.2h0"/><path stroke="#e6fd88" d="M26.4 122.0h0M31.1 117.7h0"/><path stroke="#edff89" d="M26.7 141.3h0"/><path stroke="#f6ff9d" d="M19.9 130.8h0"/><path stroke="#f9ffa3" d="M18.5 133.3h0"/><path stroke="#fff8a4" d="M32.4 118.7h0"/><path stroke="#fff29a" d="M37.1 126.3h0"/><path stroke="#ffed90" d="M38.4 123.3h0M20.6 131.4h0"/><path stroke="#ffe785" d="M37.6 124.4h0"/><path stroke="#ffe17b" d="M36.5 126.7h0M22.6 128.9h0"/><path stroke="#ffdb71" d="M36.4 126.6h0"/><path stroke="#ffd269" d="M36.5 125.5h0M37.0 124.3h0M19.9 133.3h0"/><path stroke="#ffc860" d="M35.2 128.1h0M20.3 132.9h0M37.4 122.2h0M36.4 125.6h0M20.0 133.6h0M26.2 125.3h0"/><path stroke="#ffbf58" d="M30.2 134.9h0M36.3 125.1h0M28.2 123.6h0"/><path stroke="#ffb550" d="M20.5 133.2h0M36.5 124.0h0M36.0 125.5h0M33.4 120.5h0"/><path stroke="#ffab48" d="M35.7 120.7h0M34.0 120.4h0M35.3 126.8h0M21.1 132.5h0"/><path stroke="#ffa240" d="M34.9 120.8h0M23.2 129.6h0M36.1 121.9h0M35.7 121.1h0"/><path stroke="#ff9738" d="M24.9 139.3h0M24.8 127.9h0M36.1 122.8h0M35.6 121.5h0M36.0 123.4h0M35.8 121.9h0M35.9 123.2h0M20.0 134.8h0M20.1 134.8h0"/><path stroke="#ff8b33" d="M35.7 124.4h0M20.2 134.9h0M21.5 132.6h0M25.4 138.6h0M35.8 124.0h0M35.5 124.8h0"/><path stroke="#ff7f2e" d="M35.4 123.7h0M20.5 134.5h0M34.5 126.9h0"/><path stroke="#ff7328" d="M34.7 126.1h0M34.0 121.9h0M32.8 129.8h0M34.2 127.1h0M20.7 134.7h0"/><path stroke="#ff6723" d="M20.6 135.0h0M30.5 123.4h0"/><path stroke="#ff5b1d" d="M29.2 124.7h0M31.7 123.2h0M24.2 138.9h0M33.8 122.8h0M34.7 123.9h0M26.5 136.9h0M20.8 135.2h0M25.1 138.2h0"/><path stroke="#fe4e18" d="M34.3 124.4h0M24.6 138.2h0M29.4 133.7h0M20.8 135.5h0M21.3 134.4h0M29.2 134.1h0M33.3 123.4h0"/><path stroke="#f9461b" d="M23.7 130.7h0M23.8 138.5h0M22.7 132.3h0M28.8 134.3h0M22.3 132.9h0M33.2 127.9h0M23.5 131.1h0"/><path stroke="#f43e1f" d="M22.1 133.7h0M21.5 134.7h0M21.1 135.9h0M24.1 130.4h0M23.6 138.3h0M22.6 132.7h0M28.5 134.3h0"/><path stroke="#ef3523" d="M26.1 136.4h0M33.4 125.6h0M32.2 128.7h0M23.4 138.2h0M28.5 134.1h0M22.6 133.1h0M27.5 127.0h0M29.9 125.1h0M21.3 136.1h0M21.2 136.0h0M33.1 124.6h0M21.8 134.6h0M23.4 138.2h0M28.5 126.1h0M33.1 125.0h0M32.6 124.6h0M23.8 138.2h0M23.1 132.1h0"/><path stroke="#ea2d27" d="M23.2 138.0h0M32.8 126.1h0M31.0 130.7h0M27.5 134.9h0M26.0 136.2h0M24.2 137.6h0M21.5 136.0h0M30.1 125.2h0M24.7 137.2h0M23.8 137.9h0M25.6 136.6h0M23.4 138.0h0"/><path stroke="#e4252a" d="M28.9 133.3h0M23.1 137.7h0M22.8 137.6h0M32.7 125.6h0M21.7 136.5h0M32.5 126.7h0M22.9 137.6h0M32.5 125.6h0M27.5 127.4h0"/><path stroke="#df1c2e" d="M22.7 137.5h0M22.6 137.4h0M23.3 137.4h0M29.7 131.9h0M24.8 130.8h0M28.9 133.0h0M22.4 137.1h0M22.2 136.1h0M25.9 135.8h0M23.9 132.1h0M22.8 137.1h0M23.7 137.3h0M27.8 127.4h0M32.0 125.8h0M23.7 132.3h0M30.1 125.8h0M22.8 133.7h0M27.3 134.8h0M22.5 137.1h0M22.1 136.8h0"/><path stroke="#d8132f" d="M22.7 135.8h0M22.6 135.1h0M24.6 136.6h0M23.1 136.8h0M31.9 126.5h0M29.5 126.4h0M23.5 136.9h0M24.5 136.6h0M22.9 136.8h0M26.1 135.4h0M31.6 127.8h0M22.7 136.9h0M22.7 135.1h0M22.9 136.9h0M22.7 136.8h0"/><path stroke="#cf092f" d="M30.4 130.1h0M24.6 131.5h0M24.1 136.4h0M23.2 136.0h0M31.3 127.2h0M24.0 136.4h0"/><path stroke="#c6002f" d="M24.3 135.8h0M29.1 127.5h0M23.8 135.7h0M23.6 133.7h0M23.2 134.7h0M29.0 132.0h0M24.6 135.8h0M26.6 134.5h0M24.1 135.9h0M30.9 128.6h0M26.9 129.0h0"/><path stroke="#bd0036" d="M26.5 130.1h0M24.3 135.3h0M23.9 134.6h0M27.9 128.4h0M25.2 135.0h0M29.7 129.9h0M30.5 128.9h0M24.6 135.0h0M28.9 127.8h0M27.8 133.1h0M30.5 128.5h0"/><path stroke="#b4003c" d="M29.2 130.8h0M29.7 129.8h0M27.4 129.6h0M25.0 132.4h0M28.9 128.7h0M24.5 133.3h0M25.1 132.2h0M24.8 132.6h0M28.2 129.1h0M28.8 131.2h0M28.3 128.7h0"/><path stroke="#ab0041" d="M28.1 129.6h0M25.0 133.6h0M25.5 133.8h0M27.9 131.9h0M27.2 132.4h0M27.5 129.8h0M25.6 133.8h0"/><path stroke="#a40044" d="M26.3 131.5h0M27.1 131.0h0M27.2 131.6h0M26.2 132.8h0M26.0 132.6h0M26.1 132.1h0M26.6 132.3h0"/></g></g>
<line x1="21.80" y1="603.81" x2="108.24" y2="525.35" stroke="#808080" stroke-width="0.75" opacity="0.55"/>
<line x1="21.80" y1="608.80" x2="161.40" y2="482.40" stroke="#d4d4d4" stroke-width="0.9" opacity="0.75"/>
<rect x="21.8" y="482.4" width="139.6" height="126.4" fill="none" stroke="#4c4c4c" stroke-width="1.05"/>
<rect x="26.7" y="487.3" width="51.1" height="30.2" fill="#fbecd6"/>
<text transform="translate(28.90,493.30) scale(1,0.91)" class="st"><tspan font-style="italic">R</tspan><tspan font-size="4.6" dy="-2.7">2</tspan><tspan dy="2.7"> = 0.84</tspan></text>
<text transform="translate(28.90,500.00) scale(1,0.91)" class="st"><tspan font-style="italic">BIAS</tspan> = − 0.40</text>
<text transform="translate(28.90,506.70) scale(1,0.91)" class="st"><tspan font-style="italic">RMSE</tspan> = 1.42</text>
<text transform="translate(28.90,513.40) scale(1,0.91)" class="st"><tspan font-style="italic">KGE</tspan> = 0.60</text>
<text transform="translate(154.50,601.20) scale(1,0.91)" class="pl" text-anchor="end">(d)ET_PM</text>
<text transform="translate(21.80,615.20) scale(1,0.91)" class="tk" text-anchor="middle">0</text>
<text transform="translate(20.20,611.10) scale(1,0.91)" class="tk" text-anchor="end">0</text>
<text transform="translate(45.07,615.20) scale(1,0.91)" class="tk" text-anchor="middle">2</text>
<text transform="translate(20.20,590.03) scale(1,0.91)" class="tk" text-anchor="end">2</text>
<text transform="translate(68.33,615.20) scale(1,0.91)" class="tk" text-anchor="middle">4</text>
<text transform="translate(20.20,568.97) scale(1,0.91)" class="tk" text-anchor="end">4</text>
<text transform="translate(91.60,615.20) scale(1,0.91)" class="tk" text-anchor="middle">6</text>
<text transform="translate(20.20,547.90) scale(1,0.91)" class="tk" text-anchor="end">6</text>
<text transform="translate(114.87,615.20) scale(1,0.91)" class="tk" text-anchor="middle">8</text>
<text transform="translate(20.20,526.83) scale(1,0.91)" class="tk" text-anchor="end">8</text>
<text transform="translate(138.13,615.20) scale(1,0.91)" class="tk" text-anchor="middle">10</text>
<text transform="translate(20.20,505.77) scale(1,0.91)" class="tk" text-anchor="end">10</text>
<text transform="translate(161.40,615.20) scale(1,0.91)" class="tk" text-anchor="middle">12</text>
<text transform="translate(20.20,484.70) scale(1,0.91)" class="tk" text-anchor="end">12</text>
<text transform="translate(91.60,623.40) scale(1,0.91)" class="al" text-anchor="middle">Ground-measured ET (mm/day)</text>
<text transform="translate(10.80,546.60) scale(1,0.91) rotate(-90)" class="al" text-anchor="middle">Predicted ET (mm/day)</text>
<path d="M165.95,482.70 L168.10,487.90 L168.10,602.30 L165.95,608.20 L163.80,602.30 L163.80,487.90 Z" fill="url(#cbg)"/>
<text transform="translate(170.40,492.10) scale(1,0.91)" class="cb">0.20</text>
<text transform="translate(170.40,506.33) scale(1,0.91)" class="cb">0.18</text>
<text transform="translate(170.40,520.56) scale(1,0.91)" class="cb">0.15</text>
<text transform="translate(170.40,534.79) scale(1,0.91)" class="cb">0.12</text>
<text transform="translate(170.40,549.01) scale(1,0.91)" class="cb">0.10</text>
<text transform="translate(170.40,563.24) scale(1,0.91)" class="cb">0.08</text>
<text transform="translate(170.40,577.47) scale(1,0.91)" class="cb">0.05</text>
<text transform="translate(170.40,591.70) scale(1,0.91)" class="cb">0.03</text>
<clipPath id="cp31"><rect x="203.2" y="482.4" width="139.6" height="126.4"/></clipPath>
<g clip-path="url(#cp31)"><g transform="translate(0,482.4) scale(1,0.91)" stroke-linecap="round" stroke-width="4.9" fill="none"><path stroke="#4647ad" d="M261.3 104.4h0M272.3 102.5h0M256.3 119.3h0"/><path stroke="#3c52b1" d="M212.3 71.9h0M289.2 70.0h0M280.8 81.2h0M228.4 89.5h0M264.7 88.6h0M238.5 109.1h0M253.7 98.8h0M257.1 102.5h0M252.0 110.9h0M250.3 112.8h0"/><path stroke="#325cb6" d="M217.4 69.1h0M221.6 68.2h0M223.3 66.3h0M233.4 63.5h0M267.3 62.6h0M279.9 77.5h0M275.7 79.3h0M209.8 76.5h0M236.0 121.1h0M237.7 122.1h0M235.7 138.2h0M236.4 138.1h0M216.2 69.8h0"/><path stroke="#2867ba" d="M229.2 67.2h0M230.9 69.1h0M237.7 69.1h0M237.7 73.7h0M274.0 75.6h0M275.7 64.5h0M279.9 62.6h0M283.3 61.7h0M285.9 60.7h0M289.2 62.6h0M287.5 66.3h0M285.9 70.0h0M280.8 73.7h0M269.8 76.5h0M225.8 80.2h0M237.7 84.9h0M246.1 99.8h0M225.0 100.7h0M227.5 100.7h0M230.9 127.6h0M236.0 130.4h0M235.4 68.4h0M243.8 72.6h0M241.1 70.9h0M232.9 77.6h0M235.4 67.2h0M245.0 70.7h0M230.3 70.0h0M271.6 63.3h0M238.6 71.2h0M232.3 71.3h0"/><path stroke="#1e71bf" d="M243.6 73.7h0M268.1 70.0h0M271.5 72.8h0M275.7 71.9h0M277.4 68.2h0M282.5 67.2h0M223.3 83.0h0M242.7 99.8h0M261.3 83.0h0M230.1 105.3h0M228.4 117.4h0M233.4 129.5h0M230.1 131.3h0M204.5 87.1h0M230.0 138.2h0M231.1 138.5h0M228.9 139.2h0M228.7 139.0h0M231.1 138.5h0M229.4 138.4h0M231.2 138.0h0M284.3 62.7h0M271.0 67.6h0M249.2 72.0h0M224.1 73.6h0M242.9 77.1h0M284.2 67.0h0M247.9 71.7h0M283.2 66.1h0M266.9 67.2h0"/><path stroke="#147cc3" d="M262.2 70.0h0M263.9 73.7h0M215.7 79.3h0M219.1 86.8h0M226.7 120.2h0M204.4 89.6h0M221.9 139.0h0M222.1 137.9h0M227.6 138.5h0M222.2 138.7h0M220.4 78.7h0M217.6 79.6h0M220.1 78.7h0M262.8 69.2h0M237.5 91.3h0"/><path stroke="#1788c2" d="M245.3 78.4h0M258.8 72.8h0M261.3 76.5h0M239.4 94.2h0M243.6 96.0h0M247.0 94.2h0M258.8 81.2h0M225.8 107.2h0M220.7 138.4h0M220.7 138.2h0M220.1 138.4h0M256.7 73.0h0M258.9 80.7h0M241.7 93.9h0M242.0 94.1h0M244.7 94.2h0"/><path stroke="#2394be" d="M257.1 74.7h0M241.9 92.3h0M247.8 90.5h0M250.3 88.6h0M253.7 84.9h0M255.4 83.0h0M208.2 87.0h0M205.1 90.6h0M243.2 85.4h0M249.7 76.8h0M250.9 76.7h0M248.1 79.0h0M245.6 92.0h0M242.4 87.2h0M254.9 83.8h0M248.9 78.0h0"/><path stroke="#2ea1ba" d="M248.7 79.3h0M253.7 76.5h0M244.4 88.6h0M204.2 93.6h0M206.7 89.6h0M217.8 138.5h0M254.1 81.5h0M248.3 81.4h0"/><path stroke="#3aaeb6" d="M251.2 80.2h0M200.9 110.2h0M210.5 88.2h0M208.9 90.1h0M247.2 85.0h0M249.4 85.2h0M252.7 80.0h0M248.8 86.9h0M247.3 83.6h0"/><path stroke="#44b9b1" d="M200.7 115.5h0M209.0 92.0h0M207.4 92.7h0M204.1 97.3h0M207.1 91.8h0M204.7 95.7h0M202.1 102.5h0M210.1 91.4h0M216.6 138.8h0"/><path stroke="#4cc3aa" d="M202.3 107.7h0M205.8 96.2h0M210.2 99.3h0M210.3 106.1h0M203.7 106.8h0M203.4 101.8h0M208.0 94.3h0M205.5 95.6h0M203.3 99.3h0"/><path stroke="#55cba4" d="M206.5 101.2h0M209.7 95.7h0M205.4 109.5h0M209.3 107.1h0M207.7 100.5h0M207.2 108.1h0M207.8 102.0h0M207.0 102.9h0M208.8 108.5h0M208.7 108.5h0M205.3 101.0h0M207.1 100.9h0M203.8 104.2h0M207.8 107.7h0M205.3 100.9h0M206.7 107.1h0M206.7 107.4h0M205.9 99.3h0M208.6 104.5h0M207.0 100.5h0M207.6 95.8h0M208.2 95.1h0M206.5 98.9h0M208.5 102.2h0M208.7 95.8h0M215.3 139.4h0"/><path stroke="#62cfa2" d="M203.8 113.6h0M203.2 115.5h0M205.0 112.4h0"/><path stroke="#6fd4a1" d="M202.4 118.2h0M204.2 115.5h0M207.1 112.1h0M212.7 110.4h0"/><path stroke="#7cd8a0" d="M200.8 122.4h0"/><path stroke="#89dc9f" d="M204.5 117.4h0M213.8 112.0h0M208.9 113.2h0M205.7 115.5h0M214.2 139.1h0"/><path stroke="#96e19d" d="M204.0 118.3h0M200.6 125.0h0M208.3 114.3h0M208.2 114.3h0M220.4 118.7h0M213.2 113.1h0M214.8 138.1h0"/><path stroke="#a3e59c" d="M205.2 117.8h0"/><path stroke="#afe999" d="M201.9 123.5h0M214.0 138.3h0"/><path stroke="#baed95" d="M205.7 119.0h0M203.1 122.1h0M206.9 117.4h0"/><path stroke="#c5f192" d="M202.1 124.7h0M216.1 115.6h0M218.0 117.6h0M218.6 118.7h0"/><path stroke="#d0f58e" d="M205.5 120.3h0M209.9 117.1h0M216.1 116.2h0M213.9 115.6h0M218.7 125.3h0M212.5 116.0h0M211.4 116.4h0M213.5 138.0h0"/><path stroke="#dbf98b" d="M203.1 124.2h0M204.8 121.9h0M213.1 116.4h0M210.7 117.0h0"/><path stroke="#e6fd88" d="M203.8 123.7h0M216.5 118.0h0M218.3 123.5h0"/><path stroke="#edff89" d="M202.7 125.9h0M206.0 121.7h0"/><path stroke="#f0ff90" d="M213.8 118.1h0M213.5 117.8h0"/><path stroke="#f3ff96" d="M202.1 127.6h0M205.2 123.3h0M216.0 119.8h0"/><path stroke="#f6ff9d" d="M206.5 122.2h0M213.6 118.8h0"/><path stroke="#f9ffa3" d="M205.6 123.8h0M208.0 121.4h0M215.0 120.0h0"/><path stroke="#fffeae" d="M206.5 123.5h0M213.6 120.4h0M208.8 121.6h0"/><path stroke="#fff8a4" d="M211.4 138.3h0M205.8 124.6h0M213.2 120.8h0"/><path stroke="#fff29a" d="M202.5 129.2h0M206.6 124.2h0M213.5 121.3h0M216.1 125.1h0M215.4 122.7h0"/><path stroke="#ffed90" d="M210.9 138.6h0"/><path stroke="#ffe785" d="M211.0 122.0h0M215.5 124.5h0M213.4 121.9h0"/><path stroke="#ffe17b" d="M209.0 140.3h0M203.1 129.3h0M212.3 122.2h0M212.4 122.4h0M210.4 138.8h0"/><path stroke="#ffdb71" d="M210.9 122.8h0M206.4 125.8h0"/><path stroke="#ffd269" d="M200.8 133.8h0M205.1 127.4h0M207.8 124.6h0M214.5 125.1h0M210.4 123.2h0"/><path stroke="#ffc860" d="M204.2 128.7h0M207.1 125.8h0M214.4 125.3h0"/><path stroke="#ffbf58" d="M208.6 124.9h0M205.6 127.4h0M207.0 126.0h0M208.1 125.2h0"/><path stroke="#ffb550" d="M209.4 124.6h0"/><path stroke="#ffab48" d="M209.7 138.3h0"/><path stroke="#ffa240" d="M201.7 133.7h0M206.4 127.5h0M213.7 127.4h0"/><path stroke="#ff9738" d="M201.6 134.3h0"/><path stroke="#ff8b33" d="M201.3 135.1h0M211.8 125.9h0"/><path stroke="#ff7f2e" d="M206.1 128.7h0M211.5 126.1h0M210.9 126.0h0"/><path stroke="#ff7328" d="M209.1 126.8h0M212.9 130.0h0M211.9 127.0h0"/><path stroke="#ff6723" d="M206.8 140.1h0M206.6 140.2h0M207.3 139.8h0M210.6 126.9h0M211.7 127.0h0"/><path stroke="#ff5b1d" d="M203.0 133.3h0M206.4 129.2h0M207.9 127.9h0M209.9 127.0h0"/><path stroke="#fe4e18" d="M208.1 138.3h0M211.9 128.4h0"/><path stroke="#f9461b" d="M201.8 136.2h0M201.8 136.3h0"/><path stroke="#f43e1f" d="M205.9 140.2h0"/><path stroke="#ef3523" d="M202.7 134.9h0M205.6 140.1h0M202.1 136.6h0M206.3 139.4h0"/><path stroke="#ea2d27" d="M206.8 138.9h0M207.3 138.4h0M206.3 139.3h0M208.6 136.8h0M206.2 139.4h0"/><path stroke="#e4252a" d="M205.2 139.8h0M206.0 139.3h0M208.2 137.1h0M206.0 139.2h0M208.9 136.3h0M205.3 139.7h0M205.2 139.7h0M206.6 138.7h0M205.3 139.7h0"/><path stroke="#df1c2e" d="M202.5 137.0h0M203.9 134.3h0M207.9 137.2h0"/><path stroke="#d8132f" d="M206.2 138.5h0M203.4 135.3h0M208.5 136.0h0M205.5 132.3h0M202.7 137.3h0M204.8 139.3h0M206.2 138.6h0M202.8 136.8h0M205.2 139.3h0M205.7 139.1h0M209.0 130.1h0"/><path stroke="#cf092f" d="M205.1 139.0h0M208.2 136.0h0M203.2 136.6h0M204.6 139.1h0M208.4 135.9h0M203.4 136.2h0M206.2 138.4h0M205.7 138.7h0M204.7 139.2h0M208.6 135.6h0M205.0 139.0h0M204.7 133.9h0M206.3 138.3h0M202.9 137.4h0M207.7 136.8h0"/><path stroke="#c6002f" d="M204.1 138.7h0M203.2 137.7h0M204.6 138.8h0M203.4 137.2h0M204.6 138.7h0M205.0 138.6h0M204.6 138.7h0M204.5 138.7h0M203.2 137.4h0M205.8 133.0h0M204.5 134.7h0M204.5 138.8h0M203.6 135.8h0M204.6 139.1h0"/><path stroke="#bd0036" d="M204.2 135.3h0M204.4 135.1h0M204.2 138.5h0M204.9 138.4h0M203.8 137.5h0M204.1 138.2h0M203.7 136.6h0M203.6 138.1h0M206.6 137.5h0M203.6 137.1h0M203.8 138.3h0M205.3 138.4h0M208.4 134.9h0M207.2 136.7h0M205.2 133.7h0M204.4 138.5h0M204.1 138.1h0M206.8 137.0h0M203.8 138.3h0M203.9 138.3h0M204.1 137.9h0M206.1 137.8h0M204.6 138.4h0M206.0 137.7h0M203.8 136.9h0"/><path stroke="#b4003c" d="M205.9 137.5h0M204.2 138.0h0M204.4 137.5h0M204.5 135.4h0M205.0 137.6h0M207.5 135.7h0M205.8 137.5h0M205.7 133.8h0M207.0 136.5h0M206.1 137.4h0M204.5 135.9h0M205.4 137.9h0M208.1 134.8h0M206.7 136.6h0M207.7 135.3h0M204.5 138.1h0M204.7 137.9h0M207.2 136.3h0"/><path stroke="#ab0041" d="M205.6 136.8h0M206.3 136.5h0M207.1 135.6h0M205.3 136.7h0M207.4 133.8h0M206.9 133.7h0M205.9 136.6h0M206.2 136.5h0M205.7 137.1h0M205.4 134.8h0M205.0 136.8h0M207.6 135.0h0M207.6 134.7h0M206.5 133.6h0M207.0 136.1h0M206.3 133.8h0M205.1 136.6h0M205.7 134.5h0M204.5 136.5h0M205.8 134.5h0M206.9 135.9h0"/><path stroke="#a40044" d="M206.4 135.5h0M206.0 136.2h0M207.0 134.4h0M206.6 135.8h0M206.7 134.1h0M206.2 134.5h0M206.3 136.2h0M206.8 134.9h0M207.0 134.6h0M207.4 134.5h0M206.4 134.2h0"/></g></g>
<line x1="203.20" y1="598.87" x2="289.24" y2="534.05" stroke="#808080" stroke-width="0.75" opacity="0.55"/>
<line x1="203.20" y1="608.80" x2="342.80" y2="482.40" stroke="#d4d4d4" stroke-width="0.9" opacity="0.75"/>
<rect x="203.2" y="482.4" width="139.6" height="126.4" fill="none" stroke="#4c4c4c" stroke-width="1.05"/>
<rect x="208.1" y="487.3" width="51.1" height="30.2" fill="#fbecd6"/>
<text transform="translate(210.30,493.30) scale(1,0.91)" class="st"><tspan font-style="italic">R</tspan><tspan font-size="4.6" dy="-2.7">2</tspan><tspan dy="2.7"> = 0.72</tspan></text>
<text transform="translate(210.30,500.00) scale(1,0.91)" class="st"><tspan font-style="italic">BIAS</tspan> = − 0.55</text>
<text transform="translate(210.30,506.70) scale(1,0.91)" class="st"><tspan font-style="italic">RMSE</tspan> = 1.63</text>
<text transform="translate(210.30,513.40) scale(1,0.91)" class="st"><tspan font-style="italic">KGE</tspan> = 0.55</text>
<text transform="translate(335.90,601.20) scale(1,0.91)" class="pl" text-anchor="end">(e)ET_PT</text>
<text transform="translate(203.20,615.20) scale(1,0.91)" class="tk" text-anchor="middle">0</text>
<text transform="translate(201.60,611.10) scale(1,0.91)" class="tk" text-anchor="end">0</text>
<text transform="translate(226.47,615.20) scale(1,0.91)" class="tk" text-anchor="middle">2</text>
<text transform="translate(201.60,590.03) scale(1,0.91)" class="tk" text-anchor="end">2</text>
<text transform="translate(249.73,615.20) scale(1,0.91)" class="tk" text-anchor="middle">4</text>
<text transform="translate(201.60,568.97) scale(1,0.91)" class="tk" text-anchor="end">4</text>
<text transform="translate(273.00,615.20) scale(1,0.91)" class="tk" text-anchor="middle">6</text>
<text transform="translate(201.60,547.90) scale(1,0.91)" class="tk" text-anchor="end">6</text>
<text transform="translate(296.27,615.20) scale(1,0.91)" class="tk" text-anchor="middle">8</text>
<text transform="translate(201.60,526.83) scale(1,0.91)" class="tk" text-anchor="end">8</text>
<text transform="translate(319.53,615.20) scale(1,0.91)" class="tk" text-anchor="middle">10</text>
<text transform="translate(201.60,505.77) scale(1,0.91)" class="tk" text-anchor="end">10</text>
<text transform="translate(342.80,615.20) scale(1,0.91)" class="tk" text-anchor="middle">12</text>
<text transform="translate(201.60,484.70) scale(1,0.91)" class="tk" text-anchor="end">12</text>
<text transform="translate(273.00,623.40) scale(1,0.91)" class="al" text-anchor="middle">Ground-measured ET (mm/day)</text>
<text transform="translate(192.20,546.60) scale(1,0.91) rotate(-90)" class="al" text-anchor="middle">Predicted ET (mm/day)</text>
<path d="M347.35,482.70 L349.50,487.90 L349.50,602.30 L347.35,608.20 L345.20,602.30 L345.20,487.90 Z" fill="url(#cbg)"/>
<text transform="translate(351.80,499.20) scale(1,0.91)" class="cb">0.12</text>
<text transform="translate(351.80,517.12) scale(1,0.91)" class="cb">0.10</text>
<text transform="translate(351.80,535.04) scale(1,0.91)" class="cb">0.08</text>
<text transform="translate(351.80,552.96) scale(1,0.91)" class="cb">0.06</text>
<text transform="translate(351.80,570.88) scale(1,0.91)" class="cb">0.04</text>
<text transform="translate(351.80,588.80) scale(1,0.91)" class="cb">0.02</text>
<clipPath id="cp32"><rect x="384.5" y="482.4" width="139.6" height="126.4"/></clipPath>
<g clip-path="url(#cp32)"><g transform="translate(0,482.4) scale(1,0.91)" stroke-linecap="round" stroke-width="4.9" fill="none"><path stroke="#4647ad" d="M462.6 67.2h0M439.8 86.8h0M454.2 89.5h0M438.1 110.0h0M417.0 127.6h0M416.1 136.0h0"/><path stroke="#3c52b1" d="M466.9 40.3h0M470.2 43.1h0M471.9 54.2h0M465.2 61.7h0M455.0 68.2h0M438.1 57.0h0M434.7 58.9h0M429.7 60.7h0M426.3 58.0h0M425.4 62.6h0M443.2 90.5h0M415.3 71.0h0M411.1 79.3h0M403.4 89.5h0M406.0 91.4h0M402.6 93.3h0M404.3 96.0h0M432.2 101.6h0M434.7 100.7h0M437.3 99.8h0M394.1 108.1h0M391.6 110.9h0M415.3 123.9h0M406.8 136.0h0"/><path stroke="#325cb6" d="M471.1 47.7h0M467.7 49.6h0M469.4 52.4h0M465.2 53.3h0M461.8 52.4h0M458.4 51.4h0M459.2 46.8h0M456.7 48.7h0M451.6 51.4h0M449.1 53.3h0M453.3 58.0h0M455.9 59.8h0M458.4 62.6h0M461.8 61.7h0M450.8 65.4h0M432.2 62.6h0M430.5 65.4h0M434.7 65.4h0M442.3 71.9h0M445.7 71.0h0M429.7 72.8h0M434.7 84.0h0M418.7 71.9h0M414.4 74.7h0M422.0 83.0h0M411.9 95.1h0M424.6 98.8h0M398.4 105.3h0M417.8 115.6h0M411.9 126.7h0M408.5 129.5h0M405.1 133.2h0"/><path stroke="#2867ba" d="M438.1 67.2h0M441.5 60.7h0M444.0 59.8h0M443.2 65.4h0M439.8 71.9h0M428.8 74.7h0M425.4 84.0h0M429.7 85.8h0M406.0 101.6h0M393.3 113.7h0M412.7 120.2h0M394.6 141.3h0"/><path stroke="#1e71bf" d="M436.4 71.9h0M433.9 73.7h0M433.0 77.5h0M430.5 80.2h0M428.0 81.2h0M427.1 88.6h0M424.6 90.5h0M423.7 95.1h0"/><path stroke="#147cc3" d="M418.7 105.3h0M414.4 114.6h0M404.2 105.3h0"/><path stroke="#1788c2" d="M419.5 97.0h0M401.9 131.0h0"/><path stroke="#2394be" d="M385.4 125.8h0M392.3 141.1h0"/><path stroke="#3aaeb6" d="M408.5 104.4h0M411.1 116.5h0"/><path stroke="#44b9b1" d="M411.7 115.3h0"/><path stroke="#4cc3aa" d="M381.5 132.3h0M405.0 107.6h0"/><path stroke="#55cba4" d="M394.9 117.1h0"/><path stroke="#62cfa2" d="M407.2 107.1h0"/><path stroke="#6fd4a1" d="M392.2 120.1h0M405.2 109.0h0"/><path stroke="#7cd8a0" d="M388.6 124.5h0"/><path stroke="#89dc9f" d="M409.4 108.1h0"/><path stroke="#96e19d" d="M411.0 109.7h0M410.3 109.4h0"/><path stroke="#a3e59c" d="M382.7 132.2h0M409.3 115.0h0M401.1 113.1h0"/><path stroke="#afe999" d="M387.9 126.1h0M405.4 110.5h0"/><path stroke="#baed95" d="M407.9 117.0h0M402.2 112.9h0M404.2 111.6h0"/><path stroke="#c5f192" d="M408.6 111.7h0"/><path stroke="#d0f58e" d="M404.7 122.3h0"/><path stroke="#dbf98b" d="M407.8 114.9h0M408.0 113.6h0"/><path stroke="#e6fd88" d="M407.0 112.2h0"/><path stroke="#edff89" d="M384.0 132.2h0"/><path stroke="#f0ff90" d="M393.7 135.8h0M389.4 125.7h0M402.5 114.3h0"/><path stroke="#f3ff96" d="M403.6 114.1h0M404.4 113.7h0"/><path stroke="#f6ff9d" d="M399.0 129.1h0M400.5 127.0h0M397.7 130.8h0M383.1 133.8h0M406.0 114.5h0M405.8 114.5h0"/><path stroke="#f9ffa3" d="M387.0 128.9h0M405.6 115.3h0"/><path stroke="#fcffaa" d="M385.4 131.1h0M400.3 127.0h0"/><path stroke="#fffeae" d="M398.2 118.2h0"/><path stroke="#fff8a4" d="M399.1 128.4h0M386.8 129.7h0M397.5 119.0h0M404.1 119.6h0"/><path stroke="#ffed90" d="M390.2 138.4h0M384.5 133.1h0"/><path stroke="#ffe785" d="M386.2 130.9h0M383.7 134.3h0M402.4 117.0h0"/><path stroke="#ffe17b" d="M384.5 133.4h0"/><path stroke="#ffdb71" d="M398.8 127.8h0M400.1 125.7h0M399.3 127.0h0"/><path stroke="#ffd269" d="M397.8 129.0h0M383.9 134.5h0M383.8 134.7h0M393.4 134.4h0M394.5 133.2h0"/><path stroke="#ffc860" d="M397.4 129.3h0M399.4 126.3h0M386.4 131.4h0M398.5 127.7h0M393.4 123.6h0M388.5 128.9h0"/><path stroke="#ffbf58" d="M396.2 130.8h0M388.8 128.6h0M389.2 138.5h0"/><path stroke="#ffb550" d="M392.3 125.0h0M391.4 136.1h0M397.1 129.5h0M384.4 134.4h0"/><path stroke="#ffab48" d="M398.3 127.6h0M387.6 130.4h0M384.9 133.9h0M399.7 125.4h0"/><path stroke="#ffa240" d="M384.6 134.5h0M390.1 137.3h0M398.5 127.0h0M384.3 135.1h0"/><path stroke="#ff9738" d="M386.6 131.9h0M392.6 134.5h0M394.2 123.7h0M398.2 121.0h0"/><path stroke="#ff8b33" d="M384.3 135.3h0M384.5 135.0h0M386.5 132.2h0M397.1 128.7h0M385.2 134.1h0"/><path stroke="#ff7f2e" d="M390.7 136.2h0M398.7 125.9h0M388.5 138.3h0"/><path stroke="#ff7328" d="M398.8 125.3h0M385.7 133.8h0M384.6 135.4h0M386.1 133.1h0M397.5 127.7h0"/><path stroke="#ff6723" d="M384.6 135.5h0M388.8 129.8h0M385.2 134.7h0M398.8 125.2h0"/><path stroke="#ff5b1d" d="M397.2 122.7h0M391.8 134.6h0M394.0 132.2h0M396.4 128.8h0"/><path stroke="#fe4e18" d="M385.5 134.7h0M392.9 133.2h0M388.2 138.0h0M387.7 138.3h0M397.6 126.9h0M390.7 128.2h0M392.9 133.3h0"/><path stroke="#f9461b" d="M387.6 138.2h0M394.0 125.2h0M396.3 123.6h0M386.3 133.6h0M398.0 125.6h0M391.1 135.1h0"/><path stroke="#f43e1f" d="M396.1 123.9h0M385.3 135.6h0"/><path stroke="#ef3523" d="M388.6 131.0h0M390.6 128.8h0M387.4 138.0h0M391.1 134.6h0M392.0 127.4h0M392.0 127.3h0M385.7 135.0h0M385.2 136.1h0M387.5 137.9h0M391.3 134.5h0M390.6 135.3h0M397.7 124.3h0"/><path stroke="#ea2d27" d="M385.4 136.2h0M385.3 136.2h0M389.5 136.0h0M387.5 137.7h0M397.1 125.3h0M387.2 138.0h0M389.3 136.3h0M392.4 127.2h0M393.6 126.1h0"/><path stroke="#e4252a" d="M394.9 129.6h0M385.4 136.3h0M387.4 137.7h0M396.9 125.4h0M394.0 131.0h0M385.6 136.3h0M394.5 125.7h0M387.9 132.3h0M396.0 127.7h0M385.8 135.6h0"/><path stroke="#df1c2e" d="M386.9 137.8h0M396.4 125.3h0M393.9 126.3h0M386.7 137.6h0M386.9 137.8h0M386.9 137.6h0M389.3 136.0h0M396.1 125.2h0M385.7 136.6h0M385.6 136.5h0M386.5 134.6h0M385.7 136.6h0M386.7 137.6h0"/><path stroke="#d8132f" d="M386.5 137.4h0M393.2 131.6h0M389.0 136.1h0M386.1 137.1h0M386.0 136.7h0M386.4 137.2h0M386.8 134.7h0M387.1 137.4h0"/><path stroke="#cf092f" d="M387.2 136.7h0M388.4 136.2h0M387.0 137.0h0M394.9 128.8h0M386.8 136.6h0M387.1 134.6h0M390.8 134.0h0M386.7 136.8h0M387.7 133.5h0M387.3 136.9h0M395.0 126.2h0M387.0 134.4h0M388.1 136.5h0M388.1 132.9h0M392.0 128.4h0"/><path stroke="#c6002f" d="M386.9 135.5h0M387.4 136.5h0M392.4 128.3h0M394.5 128.8h0M391.2 133.4h0M393.5 130.5h0M388.6 132.4h0M395.0 127.4h0M387.1 136.6h0M387.1 134.7h0"/><path stroke="#bd0036" d="M391.5 132.9h0M387.6 134.7h0M388.1 135.8h0M387.9 135.6h0M387.9 134.2h0M388.2 135.4h0M392.7 131.5h0M391.1 129.7h0M394.1 127.6h0M387.4 135.9h0M394.2 129.1h0M388.7 132.5h0M394.3 128.8h0M389.6 131.4h0M394.4 128.7h0M394.5 128.5h0"/><path stroke="#b4003c" d="M389.9 134.1h0M392.3 131.4h0M388.4 133.5h0M390.1 133.9h0"/><path stroke="#ab0041" d="M389.3 133.6h0M392.6 130.5h0M392.4 130.4h0M390.3 133.3h0M389.0 133.0h0"/><path stroke="#a40044" d="M390.7 131.8h0M391.6 131.3h0M390.6 132.3h0M389.8 133.2h0"/></g></g>
<line x1="384.50" y1="607.52" x2="471.93" y2="519.09" stroke="#808080" stroke-width="0.75" opacity="0.55"/>
<line x1="384.50" y1="608.80" x2="524.10" y2="482.40" stroke="#d4d4d4" stroke-width="0.9" opacity="0.75"/>
<rect x="384.5" y="482.4" width="139.6" height="126.4" fill="none" stroke="#4c4c4c" stroke-width="1.05"/>
<rect x="389.4" y="487.3" width="51.1" height="30.2" fill="#fbecd6"/>
<text transform="translate(391.60,493.30) scale(1,0.91)" class="st"><tspan font-style="italic">R</tspan><tspan font-size="4.6" dy="-2.7">2</tspan><tspan dy="2.7"> = 0.93</tspan></text>
<text transform="translate(391.60,500.00) scale(1,0.91)" class="st"><tspan font-style="italic">BIAS</tspan> = − 0.33</text>
<text transform="translate(391.60,506.70) scale(1,0.91)" class="st"><tspan font-style="italic">RMSE</tspan> = 0.97</text>
<text transform="translate(391.60,513.40) scale(1,0.91)" class="st"><tspan font-style="italic">KGE</tspan> = 0.70</text>
<text transform="translate(517.20,601.20) scale(1,0.91)" class="pl" text-anchor="end">(f)RF_Gs</text>
<text transform="translate(384.50,615.20) scale(1,0.91)" class="tk" text-anchor="middle">0</text>
<text transform="translate(382.90,611.10) scale(1,0.91)" class="tk" text-anchor="end">0</text>
<text transform="translate(407.77,615.20) scale(1,0.91)" class="tk" text-anchor="middle">2</text>
<text transform="translate(382.90,590.03) scale(1,0.91)" class="tk" text-anchor="end">2</text>
<text transform="translate(431.03,615.20) scale(1,0.91)" class="tk" text-anchor="middle">4</text>
<text transform="translate(382.90,568.97) scale(1,0.91)" class="tk" text-anchor="end">4</text>
<text transform="translate(454.30,615.20) scale(1,0.91)" class="tk" text-anchor="middle">6</text>
<text transform="translate(382.90,547.90) scale(1,0.91)" class="tk" text-anchor="end">6</text>
<text transform="translate(477.57,615.20) scale(1,0.91)" class="tk" text-anchor="middle">8</text>
<text transform="translate(382.90,526.83) scale(1,0.91)" class="tk" text-anchor="end">8</text>
<text transform="translate(500.83,615.20) scale(1,0.91)" class="tk" text-anchor="middle">10</text>
<text transform="translate(382.90,505.77) scale(1,0.91)" class="tk" text-anchor="end">10</text>
<text transform="translate(524.10,615.20) scale(1,0.91)" class="tk" text-anchor="middle">12</text>
<text transform="translate(382.90,484.70) scale(1,0.91)" class="tk" text-anchor="end">12</text>
<text transform="translate(454.30,623.40) scale(1,0.91)" class="al" text-anchor="middle">Ground-measured ET (mm/day)</text>
<text transform="translate(373.50,546.60) scale(1,0.91) rotate(-90)" class="al" text-anchor="middle">Predicted ET (mm/day)</text>
<path d="M528.65,482.70 L530.80,487.90 L530.80,602.30 L528.65,608.20 L526.50,602.30 L526.50,487.90 Z" fill="url(#cbg)"/>
<text transform="translate(533.10,490.70) scale(1,0.91)" class="cb">0.25</text>
<text transform="translate(533.10,513.85) scale(1,0.91)" class="cb">0.20</text>
<text transform="translate(533.10,537.00) scale(1,0.91)" class="cb">0.15</text>
<text transform="translate(533.10,560.15) scale(1,0.91)" class="cb">0.10</text>
<text transform="translate(533.10,583.30) scale(1,0.91)" class="cb">0.05</text>
<clipPath id="cp40"><rect x="21.8" y="645.6" width="139.6" height="126.4"/></clipPath>
<g clip-path="url(#cp40)"><g transform="translate(0,645.6) scale(1,0.91)" stroke-linecap="round" stroke-width="4.9" fill="none"><path stroke="#4647ad" d="M82.0 63.5h0M109.1 67.2h0M48.2 70.9h0M39.8 76.5h0M102.3 89.5h0M97.2 96.9h0M98.9 104.4h0M99.8 107.1h0M103.2 116.4h0M105.7 114.6h0M65.1 125.7h0M71.0 126.7h0"/><path stroke="#3c52b1" d="M95.6 63.5h0M64.3 70.0h0M60.9 66.3h0M55.8 68.1h0M50.7 76.5h0M44.0 81.1h0M98.1 78.3h0M97.2 83.0h0M93.0 85.8h0M39.8 89.5h0M36.4 94.1h0M76.1 105.8h0M91.3 93.2h0M96.4 91.3h0M86.3 111.8h0M88.8 113.6h0M82.9 115.5h0M81.2 121.1h0M87.9 120.1h0M90.5 120.1h0M65.1 119.2h0M80.3 126.7h0"/><path stroke="#325cb6" d="M97.2 66.3h0M99.8 68.1h0M102.3 67.2h0M89.6 69.1h0M85.4 69.1h0M79.5 70.9h0M70.2 75.6h0M67.7 76.5h0M64.3 79.3h0M60.9 74.6h0M51.6 80.2h0M56.7 81.1h0M55.8 84.8h0M47.4 84.8h0M96.4 74.6h0M38.9 96.9h0M41.4 95.1h0M69.3 109.9h0"/><path stroke="#2867ba" d="M76.1 75.6h0M72.7 77.4h0M66.8 81.1h0M82.9 75.6h0M86.3 74.6h0M89.6 76.5h0M93.0 72.8h0M89.6 81.1h0M86.3 83.0h0M82.9 84.8h0M79.5 81.1h0M76.1 83.0h0M79.5 87.6h0M82.0 84.8h0M46.5 93.2h0M34.7 105.3h0M69.3 102.5h0"/><path stroke="#1e71bf" d="M76.1 89.5h0M59.2 89.5h0M37.2 103.4h0M48.2 130.1h0M51.3 127.3h0"/><path stroke="#147cc3" d="M43.1 99.7h0M49.1 96.9h0M62.6 91.3h0M66.0 90.4h0M69.3 91.3h0M40.6 102.5h0M64.3 106.2h0M29.6 111.8h0"/><path stroke="#1788c2" d="M55.8 94.1h0M67.7 95.1h0M59.2 115.5h0M33.0 109.9h0M31.7 141.5h0M46.6 129.3h0"/><path stroke="#2394be" d="M52.4 96.9h0M65.1 98.8h0M53.7 122.2h0"/><path stroke="#2ea1ba" d="M62.6 100.6h0M60.9 108.1h0M50.6 124.2h0M54.0 120.5h0M62.6 102.0h0"/><path stroke="#3aaeb6" d="M53.3 99.7h0M55.8 115.5h0M51.7 100.3h0"/><path stroke="#44b9b1" d="M59.2 101.6h0M56.7 99.7h0M44.0 104.4h0M30.5 114.6h0M46.2 127.4h0M53.7 118.7h0M59.8 105.3h0M58.7 101.6h0"/><path stroke="#4cc3aa" d="M28.9 141.7h0M49.0 123.6h0M55.9 101.2h0M57.2 109.7h0"/><path stroke="#55cba4" d="M50.7 102.5h0M51.3 119.8h0M49.1 103.0h0M56.2 104.7h0M44.4 105.4h0"/><path stroke="#62cfa2" d="M55.8 106.2h0M55.5 104.6h0M53.0 103.3h0M56.2 105.0h0"/><path stroke="#6fd4a1" d="M47.4 105.3h0M55.0 109.0h0M51.3 104.5h0"/><path stroke="#7cd8a0" d="M47.8 122.2h0M45.7 125.2h0M40.3 130.8h0M47.0 106.0h0M41.4 108.9h0"/><path stroke="#89dc9f" d="M52.4 111.8h0M51.7 115.1h0M48.8 120.5h0M52.5 109.9h0"/><path stroke="#96e19d" d="M29.3 117.7h0M17.6 128.9h0M47.1 121.9h0"/><path stroke="#a3e59c" d="M50.7 113.6h0M48.5 108.1h0M51.4 109.5h0"/><path stroke="#afe999" d="M43.4 126.1h0M43.0 126.6h0"/><path stroke="#baed95" d="M39.9 129.6h0M43.2 125.6h0M37.9 112.4h0M45.3 109.4h0"/><path stroke="#c5f192" d="M33.2 115.9h0M46.5 109.6h0"/><path stroke="#d0f58e" d="M31.1 117.7h0M45.8 121.1h0"/><path stroke="#dbf98b" d="M45.8 120.8h0"/><path stroke="#e6fd88" d="M33.9 116.2h0M22.8 125.2h0M31.6 117.6h0M45.4 120.9h0M43.7 111.7h0"/><path stroke="#edff89" d="M32.2 135.8h0"/><path stroke="#f3ff96" d="M37.6 114.7h0M42.9 113.0h0"/><path stroke="#f6ff9d" d="M35.8 116.0h0M42.4 113.4h0"/><path stroke="#f9ffa3" d="M34.4 117.0h0M22.6 126.5h0"/><path stroke="#fcffaa" d="M44.0 119.9h0"/><path stroke="#fffeae" d="M39.3 127.1h0"/><path stroke="#fff8a4" d="M36.6 116.5h0M21.4 128.1h0"/><path stroke="#fff29a" d="M34.0 118.1h0M22.8 126.9h0M43.1 116.2h0"/><path stroke="#ffed90" d="M26.8 138.3h0M34.7 117.9h0M42.3 116.8h0"/><path stroke="#ffe785" d="M37.9 116.9h0M26.6 138.2h0M18.9 132.0h0M42.5 119.4h0M29.6 136.1h0"/><path stroke="#ffe17b" d="M34.4 118.6h0M38.3 116.8h0"/><path stroke="#ffdb71" d="M41.2 117.9h0M41.8 119.9h0M38.6 117.2h0M41.6 119.6h0M39.6 117.1h0M40.6 117.2h0"/><path stroke="#ffd269" d="M38.1 117.5h0M25.7 138.3h0M25.5 138.4h0M25.7 138.2h0M25.8 138.2h0"/><path stroke="#ffc860" d="M40.4 122.5h0M36.7 118.3h0M40.5 121.4h0M40.2 118.4h0M38.5 118.0h0"/><path stroke="#ffbf58" d="M37.9 118.2h0M19.3 132.4h0M21.2 130.0h0"/><path stroke="#ffb550" d="M39.8 122.1h0M25.8 137.7h0"/><path stroke="#ffab48" d="M38.3 118.8h0M37.9 125.5h0M39.3 119.4h0M22.2 129.3h0"/><path stroke="#ffa240" d="M21.1 130.8h0M38.9 123.0h0M39.0 120.4h0M19.9 132.6h0"/><path stroke="#ff9738" d="M26.3 136.8h0M25.0 137.6h0M27.8 135.8h0M29.0 135.0h0M21.3 130.8h0M26.2 125.8h0M33.4 120.8h0"/><path stroke="#ff8b33" d="M37.6 120.4h0M37.6 120.3h0M38.6 122.3h0M20.0 133.0h0"/><path stroke="#ff7f2e" d="M34.9 120.7h0M24.8 137.3h0"/><path stroke="#ff7328" d="M24.4 137.4h0M25.1 137.1h0M37.4 124.1h0M24.4 137.3h0M26.5 126.2h0M32.8 121.7h0M28.5 134.7h0M21.0 132.1h0M20.2 133.2h0M28.7 124.4h0M36.9 120.9h0"/><path stroke="#ff6723" d="M33.3 130.1h0M37.5 123.2h0M30.7 132.8h0M21.9 131.1h0M24.3 137.2h0M29.9 123.8h0M21.2 132.2h0M34.4 121.4h0M24.3 137.1h0M26.7 126.2h0M21.2 132.2h0"/><path stroke="#ff5b1d" d="M20.9 132.8h0M20.8 133.1h0M26.2 136.1h0M35.2 121.7h0M26.7 126.5h0"/><path stroke="#fe4e18" d="M35.5 126.7h0M25.2 136.4h0M20.6 133.7h0M25.8 136.0h0M29.6 133.2h0M28.6 125.1h0M36.3 122.1h0M30.9 132.1h0M24.5 136.8h0"/><path stroke="#f9461b" d="M33.1 129.5h0M24.0 129.3h0M23.9 136.7h0M23.2 130.3h0M22.8 130.7h0M34.7 122.5h0M35.0 126.9h0M35.9 125.2h0M24.9 136.3h0M25.9 135.9h0M36.1 123.7h0M21.7 132.3h0M34.4 122.3h0M20.9 133.7h0M26.9 126.6h0M20.8 133.9h0"/><path stroke="#f43e1f" d="M28.8 125.3h0M34.9 122.7h0M23.7 136.7h0M31.2 123.7h0M21.3 133.4h0M21.5 132.8h0M21.5 133.0h0M35.3 125.8h0M35.4 125.4h0M23.7 136.6h0M27.7 134.5h0M28.4 134.0h0"/><path stroke="#ef3523" d="M30.7 131.8h0M23.5 136.5h0M21.4 133.8h0M32.7 123.3h0M25.3 128.5h0M23.4 136.4h0M21.3 134.3h0"/><path stroke="#ea2d27" d="M23.2 136.2h0M23.1 136.1h0M22.8 131.7h0M22.0 132.7h0M34.2 127.1h0M23.2 136.2h0M28.4 133.6h0M30.1 124.9h0M23.2 136.2h0M23.3 136.1h0M28.2 126.2h0M21.8 133.6h0M23.4 130.9h0M23.1 136.1h0"/><path stroke="#e4252a" d="M32.8 123.9h0M25.5 135.2h0M27.9 126.6h0M22.9 135.7h0M23.6 135.7h0M23.3 135.7h0M21.8 134.8h0M21.9 134.8h0M21.8 134.7h0M21.8 134.9h0M22.8 135.8h0M24.9 129.3h0M34.4 125.8h0M22.9 135.7h0M31.0 124.7h0M23.4 135.9h0M23.8 135.8h0M23.4 135.8h0M22.6 135.6h0M26.7 134.4h0"/><path stroke="#df1c2e" d="M22.2 134.8h0M25.4 134.9h0M27.2 133.8h0M23.0 132.0h0M22.2 134.3h0M29.1 132.5h0M34.1 125.0h0M26.4 128.2h0M22.1 134.8h0M30.7 131.1h0M22.3 134.0h0M33.0 124.3h0M22.8 135.2h0M25.9 128.7h0M22.2 135.2h0M29.3 126.0h0M22.5 135.4h0"/><path stroke="#d8132f" d="M27.7 133.4h0M32.1 125.0h0M23.1 132.4h0M26.0 134.3h0M24.1 135.2h0M32.7 128.0h0M25.2 134.8h0M33.4 124.9h0"/><path stroke="#cf092f" d="M30.2 130.9h0M23.4 134.3h0M30.0 126.2h0M28.2 132.6h0M33.0 125.8h0"/><path stroke="#c6002f" d="M28.8 131.9h0M31.0 125.8h0M23.7 134.2h0M25.3 133.9h0M23.6 132.7h0M23.8 133.6h0M23.5 133.0h0M32.4 126.6h0M29.4 126.9h0"/><path stroke="#bd0036" d="M24.7 131.3h0M25.1 133.8h0M31.2 128.7h0M24.2 132.5h0M27.7 132.4h0M24.1 133.1h0"/><path stroke="#b4003c" d="M27.3 132.4h0M26.0 133.2h0M31.2 127.4h0M30.3 127.3h0M28.1 131.8h0"/><path stroke="#ab0041" d="M28.3 130.8h0M28.7 128.3h0M30.1 128.9h0M28.8 130.8h0M26.7 132.2h0M26.2 130.9h0M30.5 127.7h0M27.3 131.7h0M26.3 132.1h0M26.0 132.3h0"/><path stroke="#a40044" d="M28.5 129.1h0M26.9 130.9h0M28.4 130.2h0M28.1 129.7h0M27.5 130.8h0"/></g></g>
<line x1="21.80" y1="765.92" x2="109.08" y2="709.22" stroke="#808080" stroke-width="0.75" opacity="0.55"/>
<line x1="21.80" y1="772.00" x2="161.40" y2="645.60" stroke="#d4d4d4" stroke-width="0.9" opacity="0.75"/>
<rect x="21.8" y="645.6" width="139.6" height="126.4" fill="none" stroke="#4c4c4c" stroke-width="1.05"/>
<rect x="26.7" y="650.5" width="51.1" height="30.2" fill="#fbecd6"/>
<text transform="translate(28.90,656.50) scale(1,0.91)" class="st"><tspan font-style="italic">R</tspan><tspan font-size="4.6" dy="-2.7">2</tspan><tspan dy="2.7"> = 0.83</tspan></text>
<text transform="translate(28.90,663.20) scale(1,0.91)" class="st"><tspan font-style="italic">BIAS</tspan> = − 0.15</text>
<text transform="translate(28.90,669.90) scale(1,0.91)" class="st"><tspan font-style="italic">RMSE</tspan> = 1.15</text>
<text transform="translate(28.90,676.60) scale(1,0.91)" class="st"><tspan font-style="italic">KGE</tspan> = 0.79</text>
<text transform="translate(154.50,764.40) scale(1,0.91)" class="pl" text-anchor="end">(a)RF</text>
<text transform="translate(21.80,778.40) scale(1,0.91)" class="tk" text-anchor="middle">0</text>
<text transform="translate(20.20,774.30) scale(1,0.91)" class="tk" text-anchor="end">0</text>
<text transform="translate(45.07,778.40) scale(1,0.91)" class="tk" text-anchor="middle">2</text>
<text transform="translate(20.20,753.23) scale(1,0.91)" class="tk" text-anchor="end">2</text>
<text transform="translate(68.33,778.40) scale(1,0.91)" class="tk" text-anchor="middle">4</text>
<text transform="translate(20.20,732.17) scale(1,0.91)" class="tk" text-anchor="end">4</text>
<text transform="translate(91.60,778.40) scale(1,0.91)" class="tk" text-anchor="middle">6</text>
<text transform="translate(20.20,711.10) scale(1,0.91)" class="tk" text-anchor="end">6</text>
<text transform="translate(114.87,778.40) scale(1,0.91)" class="tk" text-anchor="middle">8</text>
<text transform="translate(20.20,690.03) scale(1,0.91)" class="tk" text-anchor="end">8</text>
<text transform="translate(138.13,778.40) scale(1,0.91)" class="tk" text-anchor="middle">10</text>
<text transform="translate(20.20,668.97) scale(1,0.91)" class="tk" text-anchor="end">10</text>
<text transform="translate(161.40,778.40) scale(1,0.91)" class="tk" text-anchor="middle">12</text>
<text transform="translate(20.20,647.90) scale(1,0.91)" class="tk" text-anchor="end">12</text>
<text transform="translate(91.60,786.60) scale(1,0.91)" class="al" text-anchor="middle">Ground-measured ET (mm/day)</text>
<text transform="translate(10.80,709.80) scale(1,0.91) rotate(-90)" class="al" text-anchor="middle">Predicted ET (mm/day)</text>
<path d="M165.95,645.90 L168.10,651.10 L168.10,765.50 L165.95,771.40 L163.80,765.50 L163.80,651.10 Z" fill="url(#cbg)"/>
<text transform="translate(170.40,663.00) scale(1,0.91)" class="cb">0.20</text>
<text transform="translate(170.40,676.36) scale(1,0.91)" class="cb">0.18</text>
<text transform="translate(170.40,689.71) scale(1,0.91)" class="cb">0.15</text>
<text transform="translate(170.40,703.07) scale(1,0.91)" class="cb">0.12</text>
<text transform="translate(170.40,716.43) scale(1,0.91)" class="cb">0.10</text>
<text transform="translate(170.40,729.79) scale(1,0.91)" class="cb">0.08</text>
<text transform="translate(170.40,743.14) scale(1,0.91)" class="cb">0.05</text>
<text transform="translate(170.40,756.50) scale(1,0.91)" class="cb">0.03</text>
<clipPath id="cp41"><rect x="203.2" y="645.6" width="139.6" height="126.4"/></clipPath>
<g clip-path="url(#cp41)"><g transform="translate(0,645.6) scale(1,0.91)" stroke-linecap="round" stroke-width="4.9" fill="none"><path stroke="#4647ad" d="M260.5 60.7h0M220.8 77.4h0M278.2 90.4h0M283.3 91.3h0M247.0 120.1h0M252.9 122.0h0M267.3 110.9h0M269.8 117.4h0M263.0 118.3h0M262.2 125.7h0M271.5 126.7h0M279.1 105.3h0M284.2 115.5h0M287.5 114.6h0"/><path stroke="#3c52b1" d="M277.4 57.0h0M276.6 60.7h0M283.3 59.8h0M290.1 65.3h0M280.8 65.3h0M284.2 68.1h0M284.2 78.3h0M263.9 62.5h0M266.4 63.5h0M241.9 65.3h0M243.6 68.1h0M247.0 69.1h0M246.1 71.8h0M230.1 71.8h0M225.0 80.2h0M245.3 75.6h0M249.5 75.6h0M217.4 95.1h0M221.6 84.8h0M227.5 85.8h0M273.2 91.3h0M257.1 102.5h0"/><path stroke="#325cb6" d="M277.4 71.8h0M279.1 75.6h0M282.5 73.7h0M270.6 69.1h0M267.3 68.1h0M270.6 73.7h0M236.8 72.8h0M232.6 74.6h0M228.4 78.3h0M237.7 78.3h0M248.7 80.2h0M225.0 94.1h0M222.4 95.1h0M270.6 80.2h0M274.0 84.8h0M277.4 83.9h0M270.6 87.6h0M265.6 93.2h0M241.0 119.2h0"/><path stroke="#2867ba" d="M253.7 80.2h0M257.1 79.3h0M260.5 78.3h0M263.9 79.3h0M262.2 83.0h0M229.2 95.1h0M258.8 90.4h0M219.9 100.6h0M250.3 106.2h0M245.3 111.8h0M226.7 130.4h0M245.6 110.1h0"/><path stroke="#1e71bf" d="M258.0 84.8h0M255.4 83.0h0M243.6 87.6h0M236.8 92.3h0M253.7 94.1h0M208.1 111.8h0M229.2 126.7h0M248.9 103.5h0"/><path stroke="#147cc3" d="M253.7 85.8h0M240.2 91.3h0M210.6 109.9h0M245.3 106.2h0M211.4 143.3h0M247.1 102.7h0"/><path stroke="#1788c2" d="M252.0 89.5h0M248.7 91.3h0M245.3 91.3h0M235.1 95.1h0M232.6 96.9h0M249.5 95.1h0M216.5 106.2h0M213.1 109.0h0M206.4 115.5h0M225.0 100.6h0M233.4 120.1h0M249.0 97.3h0M240.9 110.4h0"/><path stroke="#2394be" d="M246.1 96.0h0M223.3 131.3h0M233.4 118.4h0"/><path stroke="#2ea1ba" d="M235.1 115.5h0M244.1 100.2h0"/><path stroke="#3aaeb6" d="M241.9 100.6h0M236.8 111.8h0M206.5 117.6h0M240.1 97.2h0M241.4 99.0h0M241.2 102.5h0"/><path stroke="#44b9b1" d="M219.9 107.1h0M208.6 116.0h0M239.6 99.3h0M238.0 107.3h0"/><path stroke="#4cc3aa" d="M238.5 102.5h0"/><path stroke="#55cba4" d="M236.0 103.4h0M214.5 137.6h0M222.4 129.6h0M223.9 106.3h0M209.9 115.5h0M232.8 114.7h0"/><path stroke="#62cfa2" d="M223.3 107.1h0M209.7 141.5h0M235.4 108.4h0M233.5 103.4h0M234.6 109.5h0"/><path stroke="#6fd4a1" d="M234.4 105.3h0"/><path stroke="#7cd8a0" d="M232.6 105.3h0M226.7 106.2h0M224.3 107.3h0M208.5 118.4h0"/><path stroke="#89dc9f" d="M230.1 106.2h0M223.4 108.6h0M219.7 110.1h0M232.9 107.8h0M232.1 108.1h0"/><path stroke="#96e19d" d="M205.6 121.4h0M198.4 129.6h0M207.8 119.4h0"/><path stroke="#a3e59c" d="M212.5 116.0h0M226.3 108.0h0"/><path stroke="#afe999" d="M209.7 118.4h0M228.0 118.0h0M229.0 108.8h0"/><path stroke="#baed95" d="M225.0 122.9h0M198.7 130.0h0M229.5 111.4h0M207.6 120.6h0"/><path stroke="#c5f192" d="M222.5 111.1h0M227.1 110.4h0M228.6 112.2h0M225.2 110.2h0"/><path stroke="#d0f58e" d="M224.3 110.9h0"/><path stroke="#dbf98b" d="M211.0 118.5h0M225.8 111.1h0M215.3 115.3h0"/><path stroke="#e6fd88" d="M226.5 112.4h0M226.0 111.9h0"/><path stroke="#edff89" d="M200.3 129.3h0"/><path stroke="#f0ff90" d="M219.9 113.8h0M225.7 114.5h0"/><path stroke="#f3ff96" d="M215.1 116.6h0"/><path stroke="#f6ff9d" d="M223.1 114.1h0"/><path stroke="#f9ffa3" d="M211.4 119.6h0"/><path stroke="#fcffaa" d="M199.8 131.2h0M222.4 115.2h0M215.1 117.4h0"/><path stroke="#fffeae" d="M202.7 128.0h0M218.1 116.1h0"/><path stroke="#fff8a4" d="M211.7 136.0h0M205.9 124.9h0M201.2 130.1h0M218.6 116.3h0M216.2 117.5h0M223.5 118.6h0M215.5 117.7h0"/><path stroke="#fff29a" d="M207.8 123.5h0M221.1 116.0h0M219.7 116.2h0"/><path stroke="#ffed90" d="M207.4 139.1h0"/><path stroke="#ffe785" d="M221.4 117.3h0"/><path stroke="#ffe17b" d="M207.7 138.6h0M218.2 128.1h0M221.9 118.8h0"/><path stroke="#ffdb71" d="M212.2 120.9h0M214.1 119.8h0"/><path stroke="#ffd269" d="M201.2 131.5h0M217.9 128.0h0M201.0 131.7h0M220.3 118.5h0"/><path stroke="#ffc860" d="M204.8 127.4h0M203.5 128.9h0"/><path stroke="#ffbf58" d="M201.2 132.1h0M217.2 128.4h0M213.2 121.0h0"/><path stroke="#ffb550" d="M206.6 138.4h0M201.6 131.8h0M208.3 137.2h0M201.9 131.3h0M217.1 128.2h0M207.3 138.0h0"/><path stroke="#ffab48" d="M216.0 129.7h0M213.8 121.0h0M219.0 124.9h0"/><path stroke="#ffa240" d="M206.8 137.9h0M218.2 126.0h0"/><path stroke="#ff9738" d="M210.3 123.7h0M210.5 135.0h0"/><path stroke="#ff8b33" d="M206.2 137.9h0M202.4 131.6h0M210.7 134.6h0M217.2 127.1h0M210.2 135.1h0"/><path stroke="#ff7f2e" d="M209.1 124.9h0M214.8 121.5h0M217.0 127.1h0M217.6 125.8h0M201.6 133.1h0M201.6 133.1h0"/><path stroke="#ff7328" d="M207.9 136.6h0M215.7 121.5h0M216.0 128.2h0M206.0 137.7h0M206.1 137.6h0M209.9 135.0h0"/><path stroke="#ff6723" d="M201.8 133.3h0M217.8 123.5h0M211.6 123.7h0M216.9 126.6h0M209.8 134.9h0M207.7 136.4h0M213.6 131.1h0M216.6 126.9h0M202.0 133.1h0"/><path stroke="#ff5b1d" d="M204.2 130.2h0M208.9 135.4h0M205.8 137.5h0M217.0 125.4h0M214.0 122.7h0M204.6 129.9h0M206.3 137.2h0M205.7 137.5h0M206.7 137.0h0M206.0 137.3h0M202.2 133.3h0M204.1 130.5h0M207.3 136.6h0"/><path stroke="#fe4e18" d="M203.5 131.5h0M207.5 127.0h0M215.7 122.4h0M202.2 133.6h0M203.2 132.0h0M208.5 126.3h0M216.2 122.9h0M205.7 137.4h0"/><path stroke="#f9461b" d="M205.5 137.2h0M210.1 134.0h0M209.9 125.5h0M215.9 123.0h0M208.7 135.2h0"/><path stroke="#f43e1f" d="M216.1 125.7h0M205.3 137.0h0M207.5 135.9h0M213.9 123.6h0M216.4 124.0h0M216.3 124.6h0M205.7 136.8h0M202.7 133.2h0M216.2 125.2h0M202.4 133.8h0M203.5 131.9h0M214.8 128.4h0M216.2 124.4h0M216.0 126.1h0M207.6 127.5h0M215.1 128.2h0M203.9 131.5h0"/><path stroke="#ef3523" d="M205.4 136.7h0M203.2 132.8h0M206.3 136.3h0M215.2 127.4h0M210.0 133.8h0M206.3 136.3h0M215.8 124.9h0M207.6 135.6h0M203.6 132.3h0M202.9 133.6h0M202.5 134.1h0M210.1 125.6h0M205.1 136.8h0"/><path stroke="#ea2d27" d="M204.9 136.6h0M211.9 131.7h0M205.0 136.7h0M208.0 127.6h0M203.1 133.6h0M213.3 124.2h0"/><path stroke="#e4252a" d="M204.7 136.4h0M210.6 132.8h0M205.4 130.5h0M205.9 136.1h0M205.4 136.3h0M214.9 124.9h0M204.8 136.3h0M202.9 134.6h0M203.1 134.7h0M213.8 129.2h0M205.8 136.0h0M210.1 126.2h0"/><path stroke="#df1c2e" d="M214.6 125.5h0M205.0 136.1h0M204.5 136.1h0M209.6 126.8h0M212.9 129.9h0M204.8 136.0h0M204.7 131.6h0M203.2 134.8h0M203.3 134.8h0M206.2 135.6h0M204.6 131.8h0M207.9 134.7h0M204.7 136.0h0M203.9 133.0h0M204.6 136.2h0M204.9 136.2h0M204.7 136.0h0"/><path stroke="#d8132f" d="M205.3 131.2h0M203.9 135.1h0M205.9 135.5h0M203.6 135.3h0M213.3 125.5h0M205.7 135.6h0M212.8 125.4h0M207.2 129.1h0M204.1 135.7h0"/><path stroke="#cf092f" d="M204.3 135.0h0M204.1 134.3h0M213.8 126.7h0M206.6 134.9h0M205.4 135.3h0M204.9 135.4h0M209.9 132.6h0M213.3 125.9h0M208.9 133.6h0M204.2 134.3h0"/><path stroke="#c6002f" d="M211.2 131.0h0M213.2 127.1h0M205.8 135.0h0M209.3 127.9h0M208.2 128.7h0M212.9 126.5h0M204.8 133.2h0M212.2 126.5h0M206.0 134.8h0M204.6 134.1h0M212.8 126.5h0"/><path stroke="#bd0036" d="M207.0 130.1h0M212.3 127.4h0M205.2 134.1h0M212.9 127.6h0M209.2 128.2h0"/><path stroke="#b4003c" d="M210.0 131.5h0M206.1 133.4h0M207.8 129.8h0M206.7 133.8h0M205.9 132.2h0M205.6 133.0h0M212.1 128.7h0M205.9 132.0h0M205.7 132.4h0M211.7 128.0h0M209.6 131.8h0M208.7 129.0h0M211.4 129.4h0M206.7 133.8h0"/><path stroke="#ab0041" d="M210.3 130.5h0M207.1 131.6h0M209.3 129.1h0M210.4 130.6h0M211.1 129.7h0M207.2 132.9h0M208.7 132.3h0M206.9 132.6h0M208.2 132.7h0M208.6 129.4h0M208.0 130.0h0M207.0 132.2h0M211.0 129.2h0"/><path stroke="#a40044" d="M208.6 130.0h0M207.7 131.2h0M208.0 131.9h0M207.5 132.5h0"/></g></g>
<line x1="203.20" y1="765.89" x2="290.08" y2="705.30" stroke="#808080" stroke-width="0.75" opacity="0.55"/>
<line x1="203.20" y1="772.00" x2="342.80" y2="645.60" stroke="#d4d4d4" stroke-width="0.9" opacity="0.75"/>
<rect x="203.2" y="645.6" width="139.6" height="126.4" fill="none" stroke="#4c4c4c" stroke-width="1.05"/>
<rect x="208.1" y="650.5" width="51.1" height="30.2" fill="#fbecd6"/>
<text transform="translate(210.30,656.50) scale(1,0.91)" class="st"><tspan font-style="italic">R</tspan><tspan font-size="4.6" dy="-2.7">2</tspan><tspan dy="2.7"> = 0.82</tspan></text>
<text transform="translate(210.30,663.20) scale(1,0.91)" class="st"><tspan font-style="italic">BIAS</tspan> = − 0.12</text>
<text transform="translate(210.30,669.90) scale(1,0.91)" class="st"><tspan font-style="italic">RMSE</tspan> = 1.20</text>
<text transform="translate(210.30,676.60) scale(1,0.91)" class="st"><tspan font-style="italic">KGE</tspan> = 0.79</text>
<text transform="translate(335.90,764.40) scale(1,0.91)" class="pl" text-anchor="end">(b)XGBoost</text>
<text transform="translate(203.20,778.40) scale(1,0.91)" class="tk" text-anchor="middle">0</text>
<text transform="translate(201.60,774.30) scale(1,0.91)" class="tk" text-anchor="end">0</text>
<text transform="translate(226.47,778.40) scale(1,0.91)" class="tk" text-anchor="middle">2</text>
<text transform="translate(201.60,753.23) scale(1,0.91)" class="tk" text-anchor="end">2</text>
<text transform="translate(249.73,778.40) scale(1,0.91)" class="tk" text-anchor="middle">4</text>
<text transform="translate(201.60,732.17) scale(1,0.91)" class="tk" text-anchor="end">4</text>
<text transform="translate(273.00,778.40) scale(1,0.91)" class="tk" text-anchor="middle">6</text>
<text transform="translate(201.60,711.10) scale(1,0.91)" class="tk" text-anchor="end">6</text>
<text transform="translate(296.27,778.40) scale(1,0.91)" class="tk" text-anchor="middle">8</text>
<text transform="translate(201.60,690.03) scale(1,0.91)" class="tk" text-anchor="end">8</text>
<text transform="translate(319.53,778.40) scale(1,0.91)" class="tk" text-anchor="middle">10</text>
<text transform="translate(201.60,668.97) scale(1,0.91)" class="tk" text-anchor="end">10</text>
<text transform="translate(342.80,778.40) scale(1,0.91)" class="tk" text-anchor="middle">12</text>
<text transform="translate(201.60,647.90) scale(1,0.91)" class="tk" text-anchor="end">12</text>
<text transform="translate(273.00,786.60) scale(1,0.91)" class="al" text-anchor="middle">Ground-measured ET (mm/day)</text>
<text transform="translate(192.20,709.80) scale(1,0.91) rotate(-90)" class="al" text-anchor="middle">Predicted ET (mm/day)</text>
<path d="M347.35,645.90 L349.50,651.10 L349.50,765.50 L347.35,771.40 L345.20,765.50 L345.20,651.10 Z" fill="url(#cbg)"/>
<text transform="translate(351.80,658.30) scale(1,0.91)" class="cb">0.20</text>
<text transform="translate(351.80,672.27) scale(1,0.91)" class="cb">0.18</text>
<text transform="translate(351.80,686.24) scale(1,0.91)" class="cb">0.15</text>
<text transform="translate(351.80,700.21) scale(1,0.91)" class="cb">0.12</text>
<text transform="translate(351.80,714.19) scale(1,0.91)" class="cb">0.10</text>
<text transform="translate(351.80,728.16) scale(1,0.91)" class="cb">0.08</text>
<text transform="translate(351.80,742.13) scale(1,0.91)" class="cb">0.05</text>
<text transform="translate(351.80,756.10) scale(1,0.91)" class="cb">0.03</text>
<clipPath id="cp42"><rect x="384.5" y="645.6" width="139.6" height="126.4"/></clipPath>
<g clip-path="url(#cp42)"><g transform="translate(0,645.6) scale(1,0.91)" stroke-linecap="round" stroke-width="4.9" fill="none"><path stroke="#4647ad" d="M402.6 74.6h0M411.1 71.8h0M464.3 94.1h0M461.8 97.9h0M448.3 104.4h0M427.1 119.2h0M428.0 122.0h0M433.9 124.8h0M453.3 120.1h0M465.2 120.1h0M467.7 115.5h0"/><path stroke="#3c52b1" d="M465.2 62.5h0M471.1 73.7h0M460.9 85.8h0M418.7 70.0h0M423.7 69.1h0M406.0 80.2h0M409.4 82.1h0M402.6 85.8h0M399.2 95.1h0M400.9 97.9h0M454.2 91.3h0M459.2 92.3h0M460.9 107.1h0M459.2 109.9h0M450.8 111.8h0M426.3 115.5h0M442.3 124.8h0M444.9 120.1h0M450.8 119.2h0"/><path stroke="#325cb6" d="M453.3 67.2h0M463.5 71.8h0M465.2 74.6h0M444.9 69.1h0M458.4 83.9h0M456.7 84.8h0M430.5 74.6h0M424.6 75.6h0M422.9 78.3h0M419.5 80.2h0M417.8 83.0h0M413.6 83.0h0M404.3 99.7h0M438.1 100.6h0M432.2 107.1h0M389.1 113.6h0M449.1 90.2h0"/><path stroke="#2867ba" d="M458.4 68.1h0M460.9 69.1h0M459.2 74.6h0M443.2 71.8h0M455.0 82.1h0M433.0 75.6h0M428.0 77.4h0M421.2 84.8h0M408.5 96.9h0"/><path stroke="#1e71bf" d="M455.9 75.6h0M449.9 70.9h0M441.5 75.6h0M449.9 84.8h0M424.6 84.8h0M427.1 82.1h0"/><path stroke="#147cc3" d="M451.6 74.6h0M451.6 80.2h0M414.4 95.1h0M422.0 111.8h0M413.6 122.9h0M409.4 127.6h0M394.3 141.6h0"/><path stroke="#1788c2" d="M443.2 78.3h0M446.6 77.4h0M449.1 79.3h0M446.6 83.9h0M417.8 93.2h0M435.5 95.8h0M437.1 93.8h0M442.1 87.9h0"/><path stroke="#2394be" d="M442.3 83.0h0M436.4 82.1h0M429.7 85.8h0M411.1 99.7h0M417.8 115.5h0M439.9 90.3h0M441.8 80.2h0M442.2 81.1h0"/><path stroke="#2ea1ba" d="M439.0 84.8h0M424.6 91.3h0M421.2 93.2h0M433.0 96.0h0M421.4 93.0h0M442.1 83.5h0M431.8 97.1h0"/><path stroke="#3aaeb6" d="M406.0 105.3h0M391.6 141.7h0M434.1 86.9h0M434.8 86.4h0M429.4 88.4h0"/><path stroke="#44b9b1" d="M433.0 88.6h0M431.3 91.3h0M416.1 98.8h0M429.7 96.9h0M433.1 91.9h0"/><path stroke="#4cc3aa" d="M428.0 92.3h0M419.5 97.9h0M429.6 95.4h0M426.8 94.1h0M423.5 103.1h0M422.1 96.1h0"/><path stroke="#55cba4" d="M426.3 97.9h0M411.1 121.1h0M420.5 97.5h0M422.0 105.1h0M426.9 96.7h0M423.0 102.7h0M425.1 95.3h0"/><path stroke="#62cfa2" d="M422.9 98.8h0M416.5 112.9h0M423.8 100.3h0M423.2 98.7h0M413.6 102.5h0"/><path stroke="#6fd4a1" d="M400.9 132.2h0M408.6 106.2h0M419.9 101.3h0M417.7 101.4h0"/><path stroke="#7cd8a0" d="M405.2 127.1h0M402.3 110.4h0M409.6 105.8h0M419.6 102.3h0"/><path stroke="#89dc9f" d="M391.2 118.5h0M380.2 129.0h0M417.7 105.0h0"/><path stroke="#96e19d" d="M401.9 130.3h0M415.3 111.7h0"/><path stroke="#a3e59c" d="M413.6 114.6h0"/><path stroke="#baed95" d="M413.6 108.1h0"/><path stroke="#c5f192" d="M394.9 116.9h0M413.2 109.6h0M413.6 109.5h0M404.5 110.9h0"/><path stroke="#d0f58e" d="M393.0 118.5h0M394.6 136.0h0M405.6 110.8h0M413.1 111.7h0"/><path stroke="#dbf98b" d="M393.4 118.5h0M411.3 115.4h0M405.6 111.0h0M411.0 109.9h0"/><path stroke="#e6fd88" d="M385.2 125.6h0"/><path stroke="#edff89" d="M395.7 117.2h0"/><path stroke="#f0ff90" d="M409.9 115.6h0"/><path stroke="#f6ff9d" d="M385.0 126.8h0M404.3 124.4h0M408.8 112.5h0"/><path stroke="#f9ffa3" d="M399.2 115.8h0M409.1 113.9h0M407.7 113.0h0M408.6 113.6h0M409.0 114.4h0"/><path stroke="#fcffaa" d="M396.1 118.0h0M397.4 117.0h0M408.5 115.5h0"/><path stroke="#fffeae" d="M383.9 128.3h0"/><path stroke="#fff8a4" d="M389.4 138.3h0M385.2 127.2h0M392.1 136.3h0M407.4 116.0h0"/><path stroke="#fff29a" d="M403.3 114.8h0"/><path stroke="#ffed90" d="M395.8 119.0h0M389.3 138.2h0M398.2 117.5h0"/><path stroke="#ffe785" d="M396.4 118.8h0M404.9 115.5h0M400.9 116.4h0"/><path stroke="#ffe17b" d="M381.5 132.0h0M405.6 119.2h0M405.7 116.8h0"/><path stroke="#ffdb71" d="M388.4 138.3h0M388.2 138.4h0M388.4 138.2h0M388.5 138.2h0M405.1 119.8h0"/><path stroke="#ffd269" d="M396.2 119.5h0"/><path stroke="#ffc860" d="M399.5 117.9h0M383.8 130.1h0M404.1 120.5h0"/><path stroke="#ffbf58" d="M382.0 132.4h0M388.4 137.7h0M399.9 117.9h0M404.0 118.7h0"/><path stroke="#ffb550" d="M403.4 121.0h0M402.1 123.5h0M384.7 129.5h0"/><path stroke="#ffab48" d="M390.4 136.0h0M399.8 118.6h0M391.5 135.2h0M400.2 118.3h0M403.2 120.7h0M401.1 118.2h0"/><path stroke="#ffa240" d="M402.8 119.1h0M388.9 136.9h0M383.7 130.9h0M387.7 137.6h0M398.4 119.3h0M402.2 122.4h0M383.8 130.9h0"/><path stroke="#ff9738" d="M399.6 119.3h0M400.1 119.1h0M399.8 126.3h0M388.5 126.3h0M382.6 132.6h0"/><path stroke="#ff8b33" d="M401.5 123.1h0M401.8 119.5h0M382.7 133.0h0M387.5 137.4h0"/><path stroke="#ff7f2e" d="M387.1 137.4h0M387.8 137.1h0M400.0 119.9h0M393.1 133.2h0M391.0 134.9h0M395.3 121.6h0"/><path stroke="#ff7328" d="M395.5 130.6h0M387.1 137.3h0M388.8 126.6h0M388.8 136.2h0M400.7 123.9h0M383.6 132.1h0M400.9 120.5h0M382.9 133.2h0M401.3 122.4h0"/><path stroke="#ff6723" d="M384.4 131.3h0M400.7 121.4h0M387.0 137.2h0M383.8 132.3h0M390.9 125.0h0M387.0 137.1h0M389.0 126.7h0M383.8 132.3h0"/><path stroke="#ff5b1d" d="M387.8 136.4h0M388.4 136.1h0M396.8 121.5h0M392.0 133.5h0M383.6 132.8h0M394.8 122.5h0M388.9 126.9h0M391.9 124.4h0M400.3 123.2h0M393.2 132.5h0M387.2 136.9h0"/><path stroke="#fe4e18" d="M383.3 133.7h0M399.3 125.0h0M399.4 121.4h0M399.3 121.3h0M383.5 133.1h0M388.5 136.0h0M390.2 134.7h0M390.8 134.2h0"/><path stroke="#f9461b" d="M393.0 132.2h0M397.5 127.4h0M395.3 130.0h0M386.5 129.5h0M386.6 136.7h0M385.7 130.5h0M399.3 124.0h0M386.4 136.7h0M385.3 130.9h0M390.7 125.6h0M387.5 136.3h0M384.3 132.4h0M389.2 127.0h0M383.5 133.9h0M396.2 122.2h0M398.7 121.8h0"/><path stroke="#f43e1f" d="M383.9 133.5h0M384.2 132.9h0M397.0 127.6h0M390.9 133.8h0M384.1 133.0h0M386.4 136.6h0M383.6 133.8h0"/><path stroke="#ef3523" d="M391.0 125.8h0M386.2 136.5h0M393.3 124.3h0M384.0 133.8h0M397.9 125.9h0M387.7 128.8h0M386.1 136.4h0M397.0 122.5h0"/><path stroke="#ea2d27" d="M385.9 136.2h0M385.8 136.1h0M385.4 131.8h0M388.1 135.3h0M384.7 132.8h0M385.9 136.2h0M398.2 122.9h0M385.9 136.2h0M386.0 136.1h0M391.5 132.8h0M397.2 126.5h0M390.4 126.6h0M384.0 134.3h0M396.3 123.1h0M385.9 131.1h0M389.2 134.5h0M385.8 136.1h0"/><path stroke="#e4252a" d="M396.8 123.5h0M390.1 127.1h0M387.9 135.0h0M386.3 135.8h0M386.0 135.7h0M384.5 134.8h0M389.7 134.0h0M396.2 127.8h0M385.5 132.1h0M384.5 134.7h0M396.6 123.3h0M394.7 124.1h0M384.5 134.9h0M385.5 135.8h0M392.2 125.5h0M387.3 129.6h0M397.3 126.1h0M393.0 131.5h0M385.6 135.7h0M398.0 124.5h0M384.5 133.6h0M386.1 136.0h0M386.5 135.8h0M386.1 135.8h0"/><path stroke="#df1c2e" d="M384.9 134.8h0M385.6 135.7h0M390.2 133.6h0M384.6 134.8h0M388.6 134.5h0M384.9 134.3h0M388.8 128.6h0M384.7 134.8h0M385.0 134.0h0M386.7 135.2h0M385.5 135.3h0M388.3 129.0h0M387.8 134.9h0M384.9 135.2h0M385.2 135.4h0M385.3 135.6h0"/><path stroke="#d8132f" d="M394.8 124.6h0M392.5 131.2h0M385.7 132.5h0M396.4 126.5h0M390.6 132.9h0M393.1 125.3h0M391.5 126.5h0"/><path stroke="#cf092f" d="M386.0 134.3h0M391.2 132.2h0M386.4 134.3h0M396.1 125.7h0M395.0 125.0h0M394.8 128.5h0"/><path stroke="#c6002f" d="M394.1 125.7h0M387.6 133.9h0M392.2 126.7h0M387.9 134.1h0M386.2 132.8h0M390.2 132.7h0M386.4 133.7h0M386.1 133.1h0M395.4 125.6h0"/><path stroke="#bd0036" d="M389.8 132.6h0M387.2 131.5h0M393.1 126.4h0M388.5 133.3h0M386.8 132.7h0M386.7 133.3h0M390.5 132.1h0M391.6 127.4h0M395.1 126.4h0"/><path stroke="#b4003c" d="M391.2 131.1h0M389.1 132.5h0M393.4 129.1h0M394.5 127.2h0M388.4 132.5h0"/><path stroke="#ab0041" d="M390.6 131.1h0M391.0 128.7h0M392.4 129.4h0M393.3 128.0h0M392.5 127.9h0M388.7 131.2h0M392.7 128.2h0M389.7 131.9h0M388.8 132.3h0"/><path stroke="#a40044" d="M390.8 129.5h0M389.3 131.2h0M390.7 130.5h0M390.4 130.0h0M389.9 131.1h0"/></g></g>
<line x1="384.50" y1="766.05" x2="471.08" y2="707.77" stroke="#808080" stroke-width="0.75" opacity="0.55"/>
<line x1="384.50" y1="772.00" x2="524.10" y2="645.60" stroke="#d4d4d4" stroke-width="0.9" opacity="0.75"/>
<rect x="384.5" y="645.6" width="139.6" height="126.4" fill="none" stroke="#4c4c4c" stroke-width="1.05"/>
<rect x="389.4" y="650.5" width="51.1" height="30.2" fill="#fbecd6"/>
<text transform="translate(391.60,656.50) scale(1,0.91)" class="st"><tspan font-style="italic">R</tspan><tspan font-size="4.6" dy="-2.7">2</tspan><tspan dy="2.7"> = 0.83</tspan></text>
<text transform="translate(391.60,663.20) scale(1,0.91)" class="st"><tspan font-style="italic">BIAS</tspan> = − 0.13</text>
<text transform="translate(391.60,669.90) scale(1,0.91)" class="st"><tspan font-style="italic">RMSE</tspan> = 1.14</text>
<text transform="translate(391.60,676.60) scale(1,0.91)" class="st"><tspan font-style="italic">KGE</tspan> = 0.79</text>
<text transform="translate(517.20,764.40) scale(1,0.91)" class="pl" text-anchor="end">(c)KNN</text>
<text transform="translate(384.50,778.40) scale(1,0.91)" class="tk" text-anchor="middle">0</text>
<text transform="translate(382.90,774.30) scale(1,0.91)" class="tk" text-anchor="end">0</text>
<text transform="translate(407.77,778.40) scale(1,0.91)" class="tk" text-anchor="middle">2</text>
<text transform="translate(382.90,753.23) scale(1,0.91)" class="tk" text-anchor="end">2</text>
<text transform="translate(431.03,778.40) scale(1,0.91)" class="tk" text-anchor="middle">4</text>
<text transform="translate(382.90,732.17) scale(1,0.91)" class="tk" text-anchor="end">4</text>
<text transform="translate(454.30,778.40) scale(1,0.91)" class="tk" text-anchor="middle">6</text>
<text transform="translate(382.90,711.10) scale(1,0.91)" class="tk" text-anchor="end">6</text>
<text transform="translate(477.57,778.40) scale(1,0.91)" class="tk" text-anchor="middle">8</text>
<text transform="translate(382.90,690.03) scale(1,0.91)" class="tk" text-anchor="end">8</text>
<text transform="translate(500.83,778.40) scale(1,0.91)" class="tk" text-anchor="middle">10</text>
<text transform="translate(382.90,668.97) scale(1,0.91)" class="tk" text-anchor="end">10</text>
<text transform="translate(524.10,778.40) scale(1,0.91)" class="tk" text-anchor="middle">12</text>
<text transform="translate(382.90,647.90) scale(1,0.91)" class="tk" text-anchor="end">12</text>
<text transform="translate(454.30,786.60) scale(1,0.91)" class="al" text-anchor="middle">Ground-measured ET (mm/day)</text>
<text transform="translate(373.50,709.80) scale(1,0.91) rotate(-90)" class="al" text-anchor="middle">Predicted ET (mm/day)</text>
<path d="M528.65,645.90 L530.80,651.10 L530.80,765.50 L528.65,771.40 L526.50,765.50 L526.50,651.10 Z" fill="url(#cbg)"/>
<text transform="translate(533.10,664.00) scale(1,0.91)" class="cb">0.20</text>
<text transform="translate(533.10,677.16) scale(1,0.91)" class="cb">0.18</text>
<text transform="translate(533.10,690.31) scale(1,0.91)" class="cb">0.15</text>
<text transform="translate(533.10,703.47) scale(1,0.91)" class="cb">0.12</text>
<text transform="translate(533.10,716.63) scale(1,0.91)" class="cb">0.10</text>
<text transform="translate(533.10,729.79) scale(1,0.91)" class="cb">0.08</text>
<text transform="translate(533.10,742.94) scale(1,0.91)" class="cb">0.05</text>
<text transform="translate(533.10,756.10) scale(1,0.91)" class="cb">0.03</text>
<clipPath id="cp50"><rect x="21.8" y="793.5" width="139.6" height="126.4"/></clipPath>
<g clip-path="url(#cp50)"><g transform="translate(0,793.5) scale(1,0.91)" stroke-linecap="round" stroke-width="4.9" fill="none"><path stroke="#503da8" d="M63.4 137.0h0"/><path stroke="#4647ad" d="M96.4 63.6h0M100.6 66.4h0M90.5 67.3h0M87.1 74.7h0M99.8 82.2h0M109.1 84.0h0M67.7 79.4h0M65.1 87.7h0M47.4 94.2h0M50.7 96.1h0M58.4 127.7h0M62.6 128.6h0M64.3 126.8h0M83.7 111.0h0M79.5 117.5h0M35.5 113.8h0M55.8 137.0h0M36.4 139.1h0"/><path stroke="#3c52b1" d="M102.3 69.2h0M101.5 72.9h0M98.9 74.7h0M96.4 71.9h0M89.6 77.5h0M96.4 80.3h0M103.2 83.1h0M106.5 81.2h0M103.2 85.9h0M94.7 84.0h0M59.2 91.5h0M62.6 93.3h0M87.9 95.2h0M91.3 93.3h0M94.7 91.5h0M49.1 99.8h0M47.4 101.7h0M70.2 114.7h0M66.0 117.5h0M55.8 124.9h0M75.3 107.3h0M77.8 108.2h0M39.8 110.0h0M42.3 111.0h0M35.5 117.5h0M27.2 144.7h0M74.1 87.1h0"/><path stroke="#325cb6" d="M93.0 78.5h0M91.3 83.1h0M88.8 85.9h0M80.3 98.0h0M83.7 95.2h0M57.5 99.8h0M67.7 111.9h0M62.6 118.4h0M68.2 113.4h0M56.2 102.3h0M64.5 94.3h0M80.6 100.1h0M79.6 99.1h0M80.9 84.4h0"/><path stroke="#2867ba" d="M66.0 95.2h0M69.3 93.3h0M72.7 90.5h0M82.0 86.8h0M85.4 87.7h0M81.2 91.5h0M77.8 95.2h0M53.3 123.0h0M38.9 117.5h0M37.9 135.6h0M53.1 123.8h0M72.0 104.0h0M65.2 112.0h0M58.3 102.2h0M81.0 85.9h0"/><path stroke="#1e71bf" d="M77.8 89.6h0M71.0 102.6h0M59.2 117.5h0M20.3 131.1h0M60.7 115.2h0M75.0 90.7h0M78.4 92.5h0M78.4 92.5h0M75.8 92.9h0"/><path stroke="#147cc3" d="M60.9 101.7h0M64.3 110.0h0M18.6 132.8h0M27.2 142.4h0M54.1 121.4h0M74.6 95.2h0M65.4 98.4h0M70.0 101.0h0"/><path stroke="#1788c2" d="M64.3 100.7h0M67.7 99.8h0M66.0 105.4h0M52.4 109.1h0M66.5 99.7h0M65.2 106.8h0M65.7 100.1h0"/><path stroke="#2394be" d="M55.8 107.3h0M56.1 107.3h0M58.4 115.1h0M59.1 104.9h0M64.3 103.1h0M63.5 107.4h0"/><path stroke="#2ea1ba" d="M62.6 106.3h0M59.2 106.3h0M50.7 111.9h0M60.9 111.0h0M30.9 138.8h0M50.0 123.3h0M51.2 111.4h0M49.8 112.2h0"/><path stroke="#3aaeb6" d="M58.6 113.7h0M40.1 118.7h0M52.8 111.1h0"/><path stroke="#44b9b1" d="M57.8 110.8h0M55.0 110.7h0M53.3 111.6h0M49.8 122.4h0M57.6 109.6h0"/><path stroke="#4cc3aa" d="M56.7 111.9h0M56.4 113.9h0"/><path stroke="#55cba4" d="M55.0 115.6h0M52.4 118.4h0M44.0 117.5h0M54.3 116.3h0M52.7 113.5h0M41.8 129.4h0M55.7 113.4h0"/><path stroke="#62cfa2" d="M49.9 121.2h0M27.0 128.0h0M39.6 131.1h0M19.7 133.7h0M36.3 133.8h0M52.9 113.9h0M43.6 118.0h0M51.0 120.1h0M48.0 123.1h0"/><path stroke="#6fd4a1" d="M47.6 123.3h0M52.8 116.5h0M52.0 114.8h0M45.0 126.0h0"/><path stroke="#7cd8a0" d="M22.0 132.1h0"/><path stroke="#89dc9f" d="M50.7 116.8h0"/><path stroke="#96e19d" d="M20.0 134.0h0M49.9 118.1h0M49.8 117.4h0"/><path stroke="#a3e59c" d="M27.8 128.1h0M49.2 118.9h0"/><path stroke="#afe999" d="M31.0 126.0h0M46.0 118.8h0"/><path stroke="#baed95" d="M47.5 119.2h0M47.4 119.4h0"/><path stroke="#c5f192" d="M33.1 125.0h0M34.8 123.9h0M45.2 119.9h0"/><path stroke="#d0f58e" d="M41.9 127.3h0M44.3 120.2h0"/><path stroke="#dbf98b" d="M21.6 133.5h0"/><path stroke="#e6fd88" d="M39.3 129.6h0M39.9 121.9h0"/><path stroke="#edff89" d="M20.2 135.0h0M37.1 123.3h0M43.1 125.4h0"/><path stroke="#f0ff90" d="M34.1 133.9h0M34.0 134.0h0M42.8 125.3h0M43.9 124.0h0"/><path stroke="#f3ff96" d="M43.3 124.2h0"/><path stroke="#f6ff9d" d="M37.9 130.3h0M33.3 125.7h0M39.8 122.7h0"/><path stroke="#f9ffa3" d="M20.5 135.2h0M20.4 135.4h0M37.7 123.7h0"/><path stroke="#fcffaa" d="M35.9 132.0h0M31.4 135.8h0M21.5 134.4h0M42.6 124.0h0"/><path stroke="#fffeae" d="M24.0 132.4h0M37.7 130.1h0M35.3 125.1h0"/><path stroke="#fff8a4" d="M38.4 129.3h0M21.4 134.8h0M20.5 135.7h0M26.7 130.4h0M23.4 133.0h0"/><path stroke="#fff29a" d="M20.6 135.7h0M27.9 138.0h0M21.3 135.0h0M20.9 135.4h0M24.0 132.6h0M38.6 129.0h0"/><path stroke="#ffed90" d="M33.7 133.5h0M28.1 129.6h0M20.9 135.5h0M27.7 138.1h0"/><path stroke="#ffe785" d="M29.8 136.5h0M20.7 135.9h0M37.7 129.5h0M40.5 125.2h0"/><path stroke="#ffe17b" d="M30.6 135.8h0M31.4 135.2h0M36.6 130.5h0M37.7 129.3h0M26.8 130.8h0M27.7 130.1h0M39.7 124.8h0"/><path stroke="#ffdb71" d="M36.7 125.4h0M24.2 140.1h0M34.5 126.2h0M26.8 138.4h0M20.7 136.1h0M23.8 140.4h0M38.5 128.3h0M38.1 128.8h0M20.8 136.1h0"/><path stroke="#ffd269" d="M23.7 133.3h0"/><path stroke="#ffc860" d="M20.8 136.2h0M27.3 138.0h0M23.5 140.3h0M35.3 126.1h0M20.9 136.2h0"/><path stroke="#ffbf58" d="M20.9 136.2h0M33.9 132.6h0M21.6 135.6h0M37.7 128.6h0M33.7 127.0h0"/><path stroke="#ffb550" d="M23.4 140.2h0M32.1 127.9h0M22.6 134.7h0"/><path stroke="#ffab48" d="M36.5 129.8h0M22.2 135.2h0M23.5 134.0h0M21.5 135.9h0M25.5 132.4h0M25.5 138.9h0M36.8 129.3h0"/><path stroke="#ffa240" d="M22.1 135.4h0M31.3 128.5h0"/><path stroke="#ff9738" d="M36.2 129.6h0M27.2 131.3h0M33.8 127.4h0M23.7 139.8h0"/><path stroke="#ff8b33" d="M28.6 130.5h0M34.8 127.2h0M21.9 136.0h0M25.1 133.1h0M24.0 139.5h0M21.5 136.4h0M29.5 129.9h0"/><path stroke="#ff7f2e" d="M22.9 135.0h0M36.0 129.6h0M36.6 127.4h0M23.2 139.8h0M23.2 139.8h0M35.9 129.5h0M36.2 127.3h0M21.3 136.8h0"/><path stroke="#ff7328" d="M25.0 138.8h0M34.9 127.6h0M29.4 130.1h0M24.2 139.2h0M36.5 128.0h0M33.9 131.7h0M34.0 127.7h0M35.4 127.4h0M25.8 138.3h0M30.8 134.6h0"/><path stroke="#ff6723" d="M27.4 137.1h0M24.5 139.0h0M35.9 127.9h0M34.8 130.5h0M25.5 138.4h0M23.3 139.6h0"/><path stroke="#ff5b1d" d="M31.1 129.4h0M29.4 135.6h0M28.2 136.4h0M21.5 137.2h0M22.2 136.3h0M26.2 137.8h0"/><path stroke="#fe4e18" d="M34.2 131.1h0M22.5 136.1h0M23.8 134.7h0M22.4 136.2h0M24.5 134.2h0M21.7 137.1h0M22.9 139.4h0M24.6 138.6h0M22.1 136.6h0M28.2 136.3h0"/><path stroke="#f9461b" d="M34.9 128.8h0M22.9 139.4h0M34.7 130.1h0M22.9 139.3h0M25.6 133.2h0M23.2 139.1h0M34.8 128.5h0M23.0 139.2h0M34.2 130.8h0M34.9 128.8h0"/><path stroke="#f43e1f" d="M27.2 136.8h0M22.9 139.1h0M31.1 129.8h0M28.7 135.7h0M21.7 137.6h0M34.0 130.8h0M34.3 130.2h0M33.9 130.9h0M25.0 138.1h0M30.1 130.3h0M25.0 138.2h0"/><path stroke="#ef3523" d="M22.6 139.0h0M23.0 138.9h0M28.4 135.8h0M22.7 138.9h0M34.1 129.1h0M33.4 131.4h0M32.6 132.2h0M22.7 139.0h0"/><path stroke="#ea2d27" d="M22.7 138.8h0M26.7 132.8h0M33.6 129.4h0M24.6 138.1h0M23.6 135.6h0M22.4 138.7h0M31.9 129.8h0M22.0 137.8h0M22.0 138.0h0M26.4 137.2h0"/><path stroke="#e4252a" d="M22.2 138.4h0M31.0 130.3h0M22.4 137.7h0M22.9 138.3h0M23.8 135.5h0M22.2 138.1h0M22.3 138.5h0M23.1 136.4h0M22.2 137.9h0M25.7 133.8h0M22.9 138.5h0M22.2 138.3h0M22.3 137.9h0M22.9 136.6h0M26.0 133.6h0M28.1 135.9h0"/><path stroke="#df1c2e" d="M33.2 130.0h0M24.1 138.0h0M30.7 130.5h0M22.9 137.9h0M24.8 134.7h0M32.7 131.5h0M22.7 137.7h0M27.4 136.3h0M32.7 131.4h0M23.0 136.9h0M26.5 136.8h0M32.2 132.0h0"/><path stroke="#d8132f" d="M23.2 137.9h0M23.4 137.7h0"/><path stroke="#cf092f" d="M23.8 136.4h0M24.2 135.9h0M24.9 137.4h0M32.1 131.1h0"/><path stroke="#c6002f" d="M24.3 136.2h0M24.1 136.4h0M28.2 135.2h0M31.8 131.4h0M27.6 135.7h0M30.7 133.0h0"/><path stroke="#bd0036" d="M24.8 136.6h0M30.8 132.3h0M31.3 131.5h0M24.5 136.8h0M29.7 131.9h0M29.5 131.8h0M26.1 134.4h0M26.8 135.9h0M27.7 133.0h0M29.7 133.7h0M30.9 131.5h0M26.8 133.7h0M25.3 136.6h0M25.1 135.4h0"/><path stroke="#b4003c" d="M25.6 136.3h0M26.3 135.9h0M29.4 132.3h0"/><path stroke="#ab0041" d="M27.6 133.5h0M26.4 134.5h0M26.6 134.5h0M28.9 133.9h0M27.5 133.6h0M28.5 133.2h0M25.5 135.7h0M30.0 132.8h0M25.8 135.9h0M28.0 133.4h0"/><path stroke="#a40044" d="M27.3 134.4h0M28.8 133.8h0M29.0 133.2h0M27.4 134.3h0M26.9 134.9h0M26.7 134.7h0"/></g></g>
<line x1="21.80" y1="919.28" x2="109.08" y2="858.93" stroke="#808080" stroke-width="0.75" opacity="0.55"/>
<line x1="21.80" y1="919.90" x2="161.40" y2="793.50" stroke="#d4d4d4" stroke-width="0.9" opacity="0.75"/>
<rect x="21.8" y="793.5" width="139.6" height="126.4" fill="none" stroke="#4c4c4c" stroke-width="1.05"/>
<rect x="26.7" y="798.4" width="47.0" height="30.2" fill="#fbecd6"/>
<text transform="translate(28.90,804.40) scale(1,0.91)" class="st"><tspan font-style="italic">R</tspan><tspan font-size="4.6" dy="-2.7">2</tspan><tspan dy="2.7"> = 0.93</tspan></text>
<text transform="translate(28.90,811.10) scale(1,0.91)" class="st"><tspan font-style="italic">BIAS</tspan> = 0.52</text>
<text transform="translate(28.90,817.80) scale(1,0.91)" class="st"><tspan font-style="italic">RMSE</tspan> = 0.94</text>
<text transform="translate(28.90,824.50) scale(1,0.91)" class="st"><tspan font-style="italic">KGE</tspan> = 0.66</text>
<text transform="translate(154.50,912.30) scale(1,0.91)" class="pl" text-anchor="end">(d)ET_PM</text>
<text transform="translate(21.80,926.30) scale(1,0.91)" class="tk" text-anchor="middle">0</text>
<text transform="translate(20.20,922.20) scale(1,0.91)" class="tk" text-anchor="end">0</text>
<text transform="translate(45.07,926.30) scale(1,0.91)" class="tk" text-anchor="middle">2</text>
<text transform="translate(20.20,901.13) scale(1,0.91)" class="tk" text-anchor="end">2</text>
<text transform="translate(68.33,926.30) scale(1,0.91)" class="tk" text-anchor="middle">4</text>
<text transform="translate(20.20,880.07) scale(1,0.91)" class="tk" text-anchor="end">4</text>
<text transform="translate(91.60,926.30) scale(1,0.91)" class="tk" text-anchor="middle">6</text>
<text transform="translate(20.20,859.00) scale(1,0.91)" class="tk" text-anchor="end">6</text>
<text transform="translate(114.87,926.30) scale(1,0.91)" class="tk" text-anchor="middle">8</text>
<text transform="translate(20.20,837.93) scale(1,0.91)" class="tk" text-anchor="end">8</text>
<text transform="translate(138.13,926.30) scale(1,0.91)" class="tk" text-anchor="middle">10</text>
<text transform="translate(20.20,816.87) scale(1,0.91)" class="tk" text-anchor="end">10</text>
<text transform="translate(161.40,926.30) scale(1,0.91)" class="tk" text-anchor="middle">12</text>
<text transform="translate(20.20,795.80) scale(1,0.91)" class="tk" text-anchor="end">12</text>
<text transform="translate(91.60,934.50) scale(1,0.91)" class="al" text-anchor="middle">Ground-measured ET (mm/day)</text>
<text transform="translate(10.80,857.70) scale(1,0.91) rotate(-90)" class="al" text-anchor="middle">Predicted ET (mm/day)</text>
<path d="M165.95,793.80 L168.10,799.00 L168.10,913.40 L165.95,919.30 L163.80,913.40 L163.80,799.00 Z" fill="url(#cbg)"/>
<text transform="translate(170.40,805.20) scale(1,0.91)" class="cb">0.35</text>
<text transform="translate(170.40,821.67) scale(1,0.91)" class="cb">0.30</text>
<text transform="translate(170.40,838.13) scale(1,0.91)" class="cb">0.25</text>
<text transform="translate(170.40,854.60) scale(1,0.91)" class="cb">0.20</text>
<text transform="translate(170.40,871.07) scale(1,0.91)" class="cb">0.15</text>
<text transform="translate(170.40,887.53) scale(1,0.91)" class="cb">0.10</text>
<text transform="translate(170.40,904.00) scale(1,0.91)" class="cb">0.05</text>
<clipPath id="cp51"><rect x="203.2" y="793.5" width="139.6" height="126.4"/></clipPath>
<g clip-path="url(#cp51)"><g transform="translate(0,793.5) scale(1,0.91)" stroke-linecap="round" stroke-width="4.9" fill="none"><path stroke="#4647ad" d="M228.4 65.4h0M264.7 99.8h0M260.5 125.8h0"/><path stroke="#3c52b1" d="M277.4 57.1h0M290.9 72.9h0M263.9 61.7h0M259.6 66.4h0M230.1 69.2h0M232.6 72.9h0M224.1 72.9h0M249.5 74.7h0M252.0 73.8h0M272.3 89.6h0"/><path stroke="#325cb6" d="M279.9 59.9h0M287.5 71.9h0M270.6 63.6h0M260.5 69.2h0M232.6 79.4h0M253.7 75.7h0M232.6 88.7h0M279.1 80.3h0M284.2 78.5h0M285.0 75.7h0M261.3 98.0h0M215.7 81.2h0M241.0 115.6h0M243.6 117.5h0M246.1 120.3h0M247.0 124.9h0M248.7 111.9h0"/><path stroke="#2867ba" d="M282.5 63.6h0M275.7 64.5h0M284.2 68.2h0M219.1 80.3h0M224.1 79.4h0M238.5 114.7h0M240.2 122.1h0M242.7 124.9h0M239.4 127.7h0M236.0 128.6h0M233.4 130.5h0M202.3 97.1h0M230.3 138.1h0M243.5 138.5h0M226.0 138.6h0M242.1 138.7h0M227.7 138.6h0M243.0 138.9h0M242.7 137.9h0M231.5 139.1h0M228.7 138.6h0M233.0 138.8h0M241.9 138.6h0"/><path stroke="#1e71bf" d="M279.1 65.4h0M280.8 70.1h0M269.8 69.2h0M277.4 77.5h0M258.0 95.2h0M252.0 100.7h0M226.7 83.1h0M236.0 113.8h0M201.3 100.2h0M239.0 138.4h0M240.0 138.8h0M220.7 138.5h0M240.7 137.9h0M238.7 138.4h0M220.3 138.8h0M261.5 76.2h0"/><path stroke="#147cc3" d="M248.7 87.7h0M267.3 85.0h0M225.0 86.8h0M216.5 86.8h0M225.0 92.4h0M247.0 88.1h0M240.2 94.6h0M269.3 72.1h0M253.5 83.5h0M230.0 101.4h0"/><path stroke="#1788c2" d="M261.3 79.4h0M271.5 75.7h0M274.0 73.8h0M263.0 87.7h0M259.6 91.5h0M254.6 95.2h0M252.0 98.0h0M220.8 87.7h0M213.1 89.6h0M210.6 91.5h0M208.9 93.3h0M232.6 111.9h0M222.4 131.4h0M199.6 115.0h0M218.2 138.1h0M272.6 75.7h0M247.1 102.4h0M251.0 86.8h0M266.1 83.0h0M272.6 72.2h0M258.9 81.5h0M274.1 74.7h0M233.1 110.3h0"/><path stroke="#2394be" d="M265.6 80.3h0M268.1 78.5h0M257.1 89.6h0M248.7 98.9h0M246.1 101.7h0M230.9 105.4h0M233.4 106.3h0M238.5 107.3h0M204.1 101.6h0M208.4 95.4h0M239.3 105.5h0M266.9 77.9h0M258.4 86.9h0M256.6 87.4h0M246.6 92.0h0M263.4 84.8h0M259.8 85.0h0M235.2 102.9h0M254.8 88.7h0M234.4 102.3h0"/><path stroke="#2ea1ba" d="M247.0 95.2h0M244.4 97.0h0M241.9 97.0h0M241.0 99.8h0M221.6 93.3h0M225.0 109.1h0M236.0 105.4h0M224.1 123.0h0M209.1 96.0h0M205.5 102.5h0M235.0 105.0h0M240.9 98.2h0M239.6 101.9h0M240.4 99.4h0M242.8 101.7h0M235.8 105.8h0"/><path stroke="#3aaeb6" d="M212.3 95.2h0M222.4 107.3h0M207.9 99.7h0M203.1 111.3h0M215.3 93.2h0M210.1 96.8h0M200.9 118.7h0M214.5 93.3h0"/><path stroke="#44b9b1" d="M218.2 95.2h0M219.1 104.5h0M217.2 95.9h0M218.3 98.7h0M204.9 108.3h0"/><path stroke="#4cc3aa" d="M214.8 97.0h0M219.9 109.1h0M204.5 113.7h0M205.4 109.4h0M215.8 96.1h0M210.7 100.2h0M214.8 97.6h0"/><path stroke="#55cba4" d="M211.5 100.7h0M215.7 101.7h0M208.9 104.8h0M216.3 101.5h0M210.1 104.3h0M216.0 99.3h0M207.9 106.2h0M209.9 104.7h0M217.3 106.7h0"/><path stroke="#62cfa2" d="M212.3 105.7h0M214.8 106.8h0M204.0 118.4h0M212.7 106.0h0M207.3 112.7h0M212.3 105.2h0M209.9 107.7h0M203.2 119.7h0M212.0 105.1h0"/><path stroke="#6fd4a1" d="M209.9 110.8h0M216.6 111.1h0M221.4 124.9h0M210.5 110.1h0M215.1 138.3h0"/><path stroke="#7cd8a0" d="M213.3 110.8h0M211.5 111.1h0M212.5 111.4h0M215.7 112.3h0M213.2 111.1h0M200.9 125.3h0"/><path stroke="#89dc9f" d="M214.7 112.1h0M216.7 135.4h0"/><path stroke="#96e19d" d="M207.6 117.5h0M207.5 117.5h0M203.4 122.9h0M207.7 117.4h0"/><path stroke="#a3e59c" d="M216.1 115.5h0M213.7 114.8h0"/><path stroke="#afe999" d="M208.0 118.6h0M202.6 125.1h0"/><path stroke="#baed95" d="M215.1 117.2h0M213.9 116.6h0"/><path stroke="#c5f192" d="M212.9 138.7h0"/><path stroke="#d0f58e" d="M204.1 124.7h0"/><path stroke="#dbf98b" d="M209.2 120.1h0M216.1 120.0h0M208.1 121.0h0M206.6 122.1h0M211.5 119.1h0M211.4 118.7h0"/><path stroke="#e6fd88" d="M201.4 128.6h0M211.5 119.8h0M204.7 124.6h0M214.1 119.5h0M201.5 128.7h0"/><path stroke="#edff89" d="M205.9 124.0h0M204.7 125.0h0M209.2 121.2h0"/><path stroke="#f0ff90" d="M203.1 127.4h0M203.3 127.1h0M207.2 123.0h0M217.6 125.7h0"/><path stroke="#f3ff96" d="M214.6 121.5h0"/><path stroke="#f9ffa3" d="M212.1 121.7h0M203.1 128.3h0M211.6 122.2h0M204.9 126.3h0"/><path stroke="#fcffaa" d="M207.0 142.6h0M212.4 122.3h0"/><path stroke="#fffeae" d="M211.5 122.8h0M210.5 123.0h0"/><path stroke="#fff8a4" d="M214.5 124.2h0M209.8 123.7h0"/><path stroke="#ffe17b" d="M201.2 132.7h0M209.7 124.9h0"/><path stroke="#ffd269" d="M210.1 125.5h0M209.7 125.5h0"/><path stroke="#ffc860" d="M208.3 140.0h0"/><path stroke="#ffbf58" d="M201.7 133.0h0M211.8 125.9h0"/><path stroke="#ffb550" d="M206.3 141.5h0M211.5 126.4h0"/><path stroke="#ffab48" d="M208.9 126.9h0M209.3 126.9h0"/><path stroke="#ffa240" d="M210.0 137.6h0M202.3 133.1h0M211.5 126.8h0"/><path stroke="#ff9738" d="M208.7 127.7h0M211.2 127.1h0"/><path stroke="#ff8b33" d="M201.9 133.9h0"/><path stroke="#ff7f2e" d="M205.4 141.2h0M206.4 140.6h0M208.4 128.2h0"/><path stroke="#ff7328" d="M206.0 140.7h0M208.8 138.2h0M207.6 128.9h0"/><path stroke="#ff6723" d="M209.9 136.6h0M212.0 132.1h0M208.4 128.8h0"/><path stroke="#fe4e18" d="M201.6 135.7h0M207.4 138.8h0M201.5 135.9h0M209.6 136.3h0M205.4 131.1h0"/><path stroke="#f9461b" d="M202.1 135.3h0M208.4 129.5h0"/><path stroke="#f43e1f" d="M205.4 140.1h0M207.4 138.6h0M205.6 140.0h0M201.7 136.3h0M208.2 137.6h0M208.4 129.9h0"/><path stroke="#ef3523" d="M208.7 136.8h0M206.4 139.1h0M207.7 130.3h0"/><path stroke="#ea2d27" d="M201.8 136.5h0M205.3 139.8h0M204.7 140.2h0M206.7 138.6h0"/><path stroke="#e4252a" d="M204.6 140.0h0M206.2 131.8h0M202.1 136.6h0M202.6 135.5h0M207.9 137.4h0M205.7 132.2h0M207.3 138.0h0M208.8 136.2h0"/><path stroke="#df1c2e" d="M202.2 136.9h0M204.3 139.8h0M204.7 139.6h0M202.4 136.5h0"/><path stroke="#d8132f" d="M202.7 136.6h0M205.2 139.2h0M202.3 137.1h0M202.4 137.1h0"/><path stroke="#cf092f" d="M204.1 139.5h0M204.3 139.4h0M204.9 133.8h0M202.6 137.4h0M202.6 137.1h0M205.5 138.6h0M208.6 135.2h0M207.9 136.3h0M205.5 138.8h0M203.4 135.7h0M207.6 136.9h0M206.4 138.2h0"/><path stroke="#c6002f" d="M204.0 135.0h0M202.8 137.8h0M208.7 134.6h0M203.7 135.5h0M202.6 137.5h0M204.4 138.9h0M208.2 135.5h0M205.0 138.7h0M208.6 134.6h0M208.3 135.5h0M206.6 132.8h0M206.2 133.0h0M204.0 139.3h0M205.1 138.8h0M204.3 138.9h0M205.0 138.8h0"/><path stroke="#bd0036" d="M205.8 133.8h0M203.5 138.7h0M207.7 136.1h0M203.3 138.5h0M204.6 138.5h0M204.7 134.7h0M203.7 138.4h0M207.4 136.2h0M203.1 137.6h0M207.8 135.9h0M204.7 138.5h0M203.9 138.9h0M205.7 137.9h0M204.4 138.5h0M203.1 138.0h0M206.8 136.8h0M206.8 137.1h0M204.8 134.7h0M204.0 138.5h0M203.7 135.9h0M203.0 138.0h0M203.6 138.8h0M203.0 138.0h0M205.7 138.1h0M204.1 138.7h0M207.7 135.6h0"/><path stroke="#b4003c" d="M203.8 137.2h0M207.9 135.0h0M204.0 138.2h0M205.7 137.4h0M206.9 133.5h0M207.8 134.4h0M207.9 135.1h0M204.8 138.2h0M203.6 137.6h0M203.5 138.1h0M208.0 134.6h0M203.9 137.7h0"/><path stroke="#ab0041" d="M207.1 134.4h0M204.7 136.3h0M205.2 137.6h0M206.8 135.8h0M204.7 137.2h0M204.8 135.9h0M205.5 137.2h0M204.6 137.1h0M204.0 136.8h0M206.6 134.2h0M205.3 137.2h0M206.6 134.2h0M204.3 137.6h0M206.8 136.2h0M204.6 135.9h0M207.3 133.8h0M204.3 137.5h0M205.1 135.3h0M206.4 136.7h0M205.9 134.2h0M205.2 137.2h0"/><path stroke="#a40044" d="M206.2 135.0h0M205.6 135.7h0M205.9 136.0h0M205.7 136.5h0M205.3 136.5h0M206.5 135.9h0M206.3 136.1h0"/></g></g>
<line x1="203.20" y1="912.23" x2="290.93" y2="852.14" stroke="#808080" stroke-width="0.75" opacity="0.55"/>
<line x1="203.20" y1="919.90" x2="342.80" y2="793.50" stroke="#d4d4d4" stroke-width="0.9" opacity="0.75"/>
<rect x="203.2" y="793.5" width="139.6" height="126.4" fill="none" stroke="#4c4c4c" stroke-width="1.05"/>
<rect x="208.1" y="798.4" width="51.1" height="30.2" fill="#fbecd6"/>
<text transform="translate(210.30,804.40) scale(1,0.91)" class="st"><tspan font-style="italic">R</tspan><tspan font-size="4.6" dy="-2.7">2</tspan><tspan dy="2.7"> = 0.79</tspan></text>
<text transform="translate(210.30,811.10) scale(1,0.91)" class="st"><tspan font-style="italic">BIAS</tspan> = − 0.23</text>
<text transform="translate(210.30,817.80) scale(1,0.91)" class="st"><tspan font-style="italic">RMSE</tspan> = 1.35</text>
<text transform="translate(210.30,824.50) scale(1,0.91)" class="st"><tspan font-style="italic">KGE</tspan> = 0.75</text>
<text transform="translate(335.90,912.30) scale(1,0.91)" class="pl" text-anchor="end">(e)ET_PT</text>
<text transform="translate(203.20,926.30) scale(1,0.91)" class="tk" text-anchor="middle">0</text>
<text transform="translate(201.60,922.20) scale(1,0.91)" class="tk" text-anchor="end">0</text>
<text transform="translate(226.47,926.30) scale(1,0.91)" class="tk" text-anchor="middle">2</text>
<text transform="translate(201.60,901.13) scale(1,0.91)" class="tk" text-anchor="end">2</text>
<text transform="translate(249.73,926.30) scale(1,0.91)" class="tk" text-anchor="middle">4</text>
<text transform="translate(201.60,880.07) scale(1,0.91)" class="tk" text-anchor="end">4</text>
<text transform="translate(273.00,926.30) scale(1,0.91)" class="tk" text-anchor="middle">6</text>
<text transform="translate(201.60,859.00) scale(1,0.91)" class="tk" text-anchor="end">6</text>
<text transform="translate(296.27,926.30) scale(1,0.91)" class="tk" text-anchor="middle">8</text>
<text transform="translate(201.60,837.93) scale(1,0.91)" class="tk" text-anchor="end">8</text>
<text transform="translate(319.53,926.30) scale(1,0.91)" class="tk" text-anchor="middle">10</text>
<text transform="translate(201.60,816.87) scale(1,0.91)" class="tk" text-anchor="end">10</text>
<text transform="translate(342.80,926.30) scale(1,0.91)" class="tk" text-anchor="middle">12</text>
<text transform="translate(201.60,795.80) scale(1,0.91)" class="tk" text-anchor="end">12</text>
<text transform="translate(273.00,934.50) scale(1,0.91)" class="al" text-anchor="middle">Ground-measured ET (mm/day)</text>
<text transform="translate(192.20,857.70) scale(1,0.91) rotate(-90)" class="al" text-anchor="middle">Predicted ET (mm/day)</text>
<path d="M347.35,793.80 L349.50,799.00 L349.50,913.40 L347.35,919.30 L345.20,913.40 L345.20,799.00 Z" fill="url(#cbg)"/>
<text transform="translate(351.80,801.90) scale(1,0.91)" class="cb">0.14</text>
<text transform="translate(351.80,818.32) scale(1,0.91)" class="cb">0.12</text>
<text transform="translate(351.80,834.73) scale(1,0.91)" class="cb">0.10</text>
<text transform="translate(351.80,851.15) scale(1,0.91)" class="cb">0.08</text>
<text transform="translate(351.80,867.57) scale(1,0.91)" class="cb">0.06</text>
<text transform="translate(351.80,883.98) scale(1,0.91)" class="cb">0.04</text>
<text transform="translate(351.80,900.40) scale(1,0.91)" class="cb">0.02</text>
<clipPath id="cp52"><rect x="384.5" y="793.5" width="139.6" height="126.4"/></clipPath>
<g clip-path="url(#cp52)"><g transform="translate(0,793.5) scale(1,0.91)" stroke-linecap="round" stroke-width="4.9" fill="none"><path stroke="#503da8" d="M450.8 41.3h0M441.5 120.3h0"/><path stroke="#4647ad" d="M459.2 38.5h0M460.9 41.3h0M430.5 70.1h0M448.3 91.5h0M410.2 86.8h0M426.3 121.2h0M426.3 132.3h0M418.7 137.0h0M411.1 137.0h0"/><path stroke="#3c52b1" d="M462.6 45.0h0M464.3 47.8h0M458.4 49.7h0M465.2 50.6h0M471.1 48.7h0M467.7 54.3h0M428.0 75.7h0M422.9 80.3h0M451.6 82.2h0M411.1 89.6h0M405.1 94.2h0M394.1 109.1h0M426.3 112.8h0M428.0 117.5h0M424.6 118.4h0M421.2 119.3h0M415.3 125.8h0M419.5 124.9h0M392.1 142.5h0"/><path stroke="#325cb6" d="M460.9 50.6h0M465.2 61.7h0M460.9 68.2h0M426.3 81.2h0M429.7 79.4h0M444.9 86.8h0M412.7 91.5h0M422.9 113.8h0M417.8 118.4h0M406.0 128.6h0M391.8 142.3h0M436.2 97.7h0"/><path stroke="#2867ba" d="M460.1 63.6h0M456.7 62.7h0M453.3 59.9h0M450.8 61.7h0M448.3 63.6h0M442.3 69.2h0M439.0 71.0h0M415.3 92.4h0M417.8 91.5h0M410.2 95.2h0M407.7 98.9h0M400.9 105.4h0M399.2 107.3h0M396.7 111.0h0M424.6 107.3h0M453.3 76.1h0"/><path stroke="#1e71bf" d="M445.7 66.4h0M438.1 74.7h0M458.4 66.4h0M433.0 78.5h0M445.7 84.0h0M406.0 100.7h0M404.3 103.5h0M422.0 109.1h0M408.5 124.0h0M427.5 102.4h0M436.0 93.2h0"/><path stroke="#147cc3" d="M450.8 67.3h0M454.2 70.1h0M453.3 71.9h0M413.6 97.0h0M402.6 106.3h0M419.5 111.0h0M415.3 115.6h0M433.9 94.8h0M452.8 72.9h0M440.3 73.9h0M423.8 106.1h0M423.3 90.0h0"/><path stroke="#1788c2" d="M447.4 70.1h0M441.5 85.0h0M380.4 130.2h0M403.7 128.0h0M411.6 118.8h0M450.7 72.9h0M447.3 79.1h0M446.0 80.9h0"/><path stroke="#2394be" d="M441.5 75.7h0M444.9 73.8h0M436.4 80.3h0M428.0 87.7h0M425.4 90.5h0M396.9 134.5h0M415.9 97.7h0M441.5 84.6h0M431.3 84.9h0M442.6 74.5h0M435.7 89.3h0M444.0 81.9h0"/><path stroke="#2ea1ba" d="M442.3 80.3h0M431.3 85.9h0M429.7 94.2h0M411.1 101.7h0M435.9 87.5h0M436.9 86.8h0M442.8 79.7h0M440.2 78.3h0M441.2 77.3h0M442.7 80.1h0M442.0 76.6h0M442.9 80.4h0"/><path stroke="#3aaeb6" d="M439.8 82.2h0M434.7 84.0h0M433.0 89.6h0M416.1 98.9h0M435.3 85.9h0M426.5 96.7h0M432.6 86.7h0M440.3 80.7h0M431.3 88.3h0"/><path stroke="#44b9b1" d="M422.9 101.7h0M427.5 92.0h0"/><path stroke="#4cc3aa" d="M413.1 114.7h0M416.4 110.3h0M423.5 97.9h0M424.1 96.8h0M423.4 96.6h0"/><path stroke="#55cba4" d="M391.4 138.2h0"/><path stroke="#62cfa2" d="M419.5 99.8h0M413.6 112.8h0M419.4 104.2h0M417.8 106.9h0M411.4 103.8h0"/><path stroke="#7cd8a0" d="M414.4 102.6h0M392.4 120.1h0M381.6 131.6h0M383.4 129.5h0M406.0 122.1h0"/><path stroke="#89dc9f" d="M417.8 103.5h0M414.7 103.2h0"/><path stroke="#96e19d" d="M384.9 128.1h0M416.6 104.3h0M406.8 108.1h0"/><path stroke="#a3e59c" d="M414.4 109.1h0M384.0 129.4h0M415.2 106.9h0M414.6 104.2h0M408.1 118.8h0"/><path stroke="#afe999" d="M415.2 106.8h0M413.1 110.8h0"/><path stroke="#baed95" d="M386.1 127.4h0M412.7 105.9h0"/><path stroke="#c5f192" d="M403.4 123.7h0"/><path stroke="#d0f58e" d="M405.0 121.6h0M408.7 108.4h0M412.2 110.6h0M411.6 106.9h0"/><path stroke="#dbf98b" d="M393.0 120.8h0M405.0 110.9h0"/><path stroke="#e6fd88" d="M385.3 129.0h0"/><path stroke="#edff89" d="M388.7 138.6h0"/><path stroke="#f0ff90" d="M403.5 122.7h0M406.1 119.2h0"/><path stroke="#f3ff96" d="M402.0 124.4h0M410.0 109.8h0"/><path stroke="#f9ffa3" d="M395.4 119.5h0M408.7 111.1h0M407.9 111.0h0"/><path stroke="#fcffaa" d="M390.2 136.5h0M387.5 127.5h0M383.3 132.2h0M382.8 132.8h0M402.9 113.8h0"/><path stroke="#fffeae" d="M397.7 117.9h0"/><path stroke="#fff8a4" d="M403.6 121.5h0M398.6 117.2h0M399.4 126.7h0M383.1 132.8h0M407.0 116.1h0"/><path stroke="#fff29a" d="M407.0 112.8h0M406.5 116.7h0"/><path stroke="#ffed90" d="M399.5 126.3h0M398.0 118.0h0M401.7 115.3h0"/><path stroke="#ffe785" d="M388.2 127.3h0M393.6 132.6h0M394.2 121.4h0M383.7 132.7h0M383.1 133.3h0M388.8 137.2h0M388.3 137.6h0M406.5 113.8h0M406.7 114.5h0"/><path stroke="#ffe17b" d="M406.2 114.1h0"/><path stroke="#ffdb71" d="M387.6 138.0h0M383.3 133.5h0M395.1 120.9h0M401.4 116.1h0M383.4 133.2h0M405.3 117.0h0"/><path stroke="#ffd269" d="M404.8 117.7h0M390.8 135.0h0M399.7 117.4h0M393.3 122.7h0"/><path stroke="#ffc860" d="M388.4 137.0h0M397.3 119.4h0M383.4 133.6h0M399.8 125.2h0M388.2 127.8h0"/><path stroke="#ffbf58" d="M402.9 116.0h0M384.0 132.9h0M391.6 134.0h0M403.4 119.8h0M383.4 133.7h0M400.7 123.7h0M400.6 117.0h0M385.1 131.7h0M386.4 130.1h0M393.4 122.8h0"/><path stroke="#ffb550" d="M393.8 131.5h0M393.8 122.7h0M403.7 118.9h0M401.0 123.2h0M390.6 134.9h0M395.1 121.4h0M403.2 116.4h0"/><path stroke="#ffab48" d="M401.6 122.0h0M403.8 118.2h0M388.6 136.5h0M402.3 116.6h0M399.4 118.2h0M401.4 117.1h0M392.8 132.6h0M400.3 123.8h0"/><path stroke="#ffa240" d="M393.5 123.1h0M403.1 118.7h0M396.4 120.6h0M396.3 120.7h0M403.5 117.8h0M403.4 118.1h0M390.1 126.4h0M395.4 129.7h0"/><path stroke="#ff9738" d="M396.5 120.7h0M388.2 136.6h0M399.9 118.4h0M399.3 118.7h0M383.8 134.1h0M385.7 131.5h0M384.0 133.8h0M388.0 128.7h0M402.9 119.0h0"/><path stroke="#ff8b33" d="M387.5 137.0h0M402.3 119.6h0M401.8 120.7h0M387.1 137.4h0M387.6 136.9h0"/><path stroke="#ff7f2e" d="M395.7 129.0h0M385.4 132.1h0M402.1 118.8h0M395.8 128.8h0M388.6 136.0h0M398.9 119.4h0M387.0 137.3h0M392.3 124.6h0"/><path stroke="#ff7328" d="M388.8 135.6h0M387.0 137.1h0M384.4 133.8h0M400.0 123.3h0M385.8 131.9h0M384.0 134.4h0"/><path stroke="#ff6723" d="M401.3 119.8h0M384.8 133.3h0M400.2 119.3h0M390.9 133.6h0M400.9 121.5h0M399.9 119.2h0M384.1 134.4h0"/><path stroke="#ff5b1d" d="M398.3 120.4h0M388.3 135.8h0M387.0 136.8h0"/><path stroke="#fe4e18" d="M386.6 136.9h0M389.0 135.1h0M387.1 136.6h0M391.4 132.9h0M386.9 130.9h0M384.3 134.6h0"/><path stroke="#f9461b" d="M389.8 127.9h0M395.3 122.9h0M387.6 130.4h0M386.9 136.6h0M392.5 131.7h0M386.4 136.8h0M391.2 133.0h0M386.5 136.8h0M399.6 122.5h0M393.7 124.2h0M388.5 129.3h0"/><path stroke="#f43e1f" d="M395.3 128.5h0M391.6 132.4h0M395.3 128.4h0M393.2 124.7h0M387.4 136.1h0M397.5 125.6h0M385.7 132.9h0M384.6 134.6h0M393.7 130.3h0M387.7 135.9h0M384.7 134.6h0M386.4 136.7h0"/><path stroke="#ef3523" d="M386.2 136.5h0M385.6 133.5h0M384.7 134.8h0M385.3 133.9h0M388.3 135.2h0M397.8 121.5h0M394.2 124.1h0"/><path stroke="#ea2d27" d="M387.0 135.9h0M384.8 135.1h0M398.5 123.2h0M386.0 132.9h0M384.9 135.2h0M397.6 125.1h0M386.3 132.7h0M387.4 135.7h0M394.9 123.6h0M398.7 121.8h0M386.1 136.4h0"/><path stroke="#e4252a" d="M390.6 132.9h0M385.1 135.5h0M385.1 135.3h0M393.5 130.0h0M385.0 135.3h0M386.4 136.1h0M385.1 135.5h0M385.8 136.1h0M385.0 135.1h0M385.9 136.0h0M386.2 136.1h0M389.1 134.1h0M385.1 135.4h0M391.4 132.2h0M385.2 134.8h0"/><path stroke="#df1c2e" d="M394.7 128.4h0M388.8 129.8h0M385.7 135.7h0M385.6 135.9h0M386.1 133.4h0M386.2 135.6h0M394.7 128.5h0M387.5 135.2h0M385.6 134.4h0M385.8 135.9h0M385.6 135.3h0M385.3 135.6h0M385.7 136.0h0M385.6 135.9h0M389.5 133.6h0M386.3 133.2h0M389.5 133.7h0"/><path stroke="#d8132f" d="M390.0 128.7h0M396.8 123.2h0M385.9 135.2h0M386.8 132.7h0M387.2 132.1h0M386.5 133.4h0M390.3 128.5h0M395.9 123.7h0"/><path stroke="#cf092f" d="M386.7 134.9h0M386.8 133.2h0M387.9 131.6h0M388.0 131.3h0M387.0 134.8h0M386.4 134.7h0M394.3 128.4h0M396.0 124.2h0M386.3 134.3h0"/><path stroke="#c6002f" d="M393.5 129.2h0M388.5 133.8h0M395.3 126.8h0M395.7 124.4h0M388.2 134.0h0M389.9 132.7h0M390.9 128.2h0"/><path stroke="#bd0036" d="M395.7 125.3h0M388.2 133.7h0M391.0 131.4h0M395.5 125.9h0M389.3 130.3h0M394.6 125.6h0M387.8 133.8h0"/><path stroke="#b4003c" d="M391.4 130.9h0M389.9 132.0h0M389.8 129.8h0M391.6 127.9h0M389.0 132.7h0M392.8 127.1h0M394.2 127.5h0M388.2 132.6h0M389.2 130.6h0M392.4 129.8h0M394.7 126.7h0M388.7 131.6h0M394.2 127.7h0M388.4 132.9h0M389.2 132.7h0"/><path stroke="#ab0041" d="M392.4 127.9h0M389.3 131.1h0M392.9 127.7h0M390.8 131.1h0M393.4 127.8h0"/><path stroke="#a40044" d="M391.3 129.8h0M391.4 130.1h0M392.2 128.7h0M392.1 128.4h0"/></g></g>
<line x1="384.50" y1="917.35" x2="471.08" y2="839.62" stroke="#808080" stroke-width="0.75" opacity="0.55"/>
<line x1="384.50" y1="919.90" x2="524.10" y2="793.50" stroke="#d4d4d4" stroke-width="0.9" opacity="0.75"/>
<rect x="384.5" y="793.5" width="139.6" height="126.4" fill="none" stroke="#4c4c4c" stroke-width="1.05"/>
<rect x="389.4" y="798.4" width="51.1" height="30.2" fill="#fbecd6"/>
<text transform="translate(391.60,804.40) scale(1,0.91)" class="st"><tspan font-style="italic">R</tspan><tspan font-size="4.6" dy="-2.7">2</tspan><tspan dy="2.7"> = 0.94</tspan></text>
<text transform="translate(391.60,811.10) scale(1,0.91)" class="st"><tspan font-style="italic">BIAS</tspan> = − 0.22</text>
<text transform="translate(391.60,817.80) scale(1,0.91)" class="st"><tspan font-style="italic">RMSE</tspan> = 0.86</text>
<text transform="translate(391.60,824.50) scale(1,0.91)" class="st"><tspan font-style="italic">KGE</tspan> = 0.81</text>
<text transform="translate(517.20,912.30) scale(1,0.91)" class="pl" text-anchor="end">(f)RF_Gs</text>
<text transform="translate(384.50,926.30) scale(1,0.91)" class="tk" text-anchor="middle">0</text>
<text transform="translate(382.90,922.20) scale(1,0.91)" class="tk" text-anchor="end">0</text>
<text transform="translate(407.77,926.30) scale(1,0.91)" class="tk" text-anchor="middle">2</text>
<text transform="translate(382.90,901.13) scale(1,0.91)" class="tk" text-anchor="end">2</text>
<text transform="translate(431.03,926.30) scale(1,0.91)" class="tk" text-anchor="middle">4</text>
<text transform="translate(382.90,880.07) scale(1,0.91)" class="tk" text-anchor="end">4</text>
<text transform="translate(454.30,926.30) scale(1,0.91)" class="tk" text-anchor="middle">6</text>
<text transform="translate(382.90,859.00) scale(1,0.91)" class="tk" text-anchor="end">6</text>
<text transform="translate(477.57,926.30) scale(1,0.91)" class="tk" text-anchor="middle">8</text>
<text transform="translate(382.90,837.93) scale(1,0.91)" class="tk" text-anchor="end">8</text>
<text transform="translate(500.83,926.30) scale(1,0.91)" class="tk" text-anchor="middle">10</text>
<text transform="translate(382.90,816.87) scale(1,0.91)" class="tk" text-anchor="end">10</text>
<text transform="translate(524.10,926.30) scale(1,0.91)" class="tk" text-anchor="middle">12</text>
<text transform="translate(382.90,795.80) scale(1,0.91)" class="tk" text-anchor="end">12</text>
<text transform="translate(454.30,934.50) scale(1,0.91)" class="al" text-anchor="middle">Ground-measured ET (mm/day)</text>
<text transform="translate(373.50,857.70) scale(1,0.91) rotate(-90)" class="al" text-anchor="middle">Predicted ET (mm/day)</text>
<path d="M528.65,793.80 L530.80,799.00 L530.80,913.40 L528.65,919.30 L526.50,913.40 L526.50,799.00 Z" fill="url(#cbg)"/>
<text transform="translate(533.10,803.30) scale(1,0.91)" class="cb">0.20</text>
<text transform="translate(533.10,817.54) scale(1,0.91)" class="cb">0.18</text>
<text transform="translate(533.10,831.79) scale(1,0.91)" class="cb">0.15</text>
<text transform="translate(533.10,846.03) scale(1,0.91)" class="cb">0.12</text>
<text transform="translate(533.10,860.27) scale(1,0.91)" class="cb">0.10</text>
<text transform="translate(533.10,874.51) scale(1,0.91)" class="cb">0.08</text>
<text transform="translate(533.10,888.76) scale(1,0.91)" class="cb">0.05</text>
<text transform="translate(533.10,903.00) scale(1,0.91)" class="cb">0.03</text></svg>
</body></html>
